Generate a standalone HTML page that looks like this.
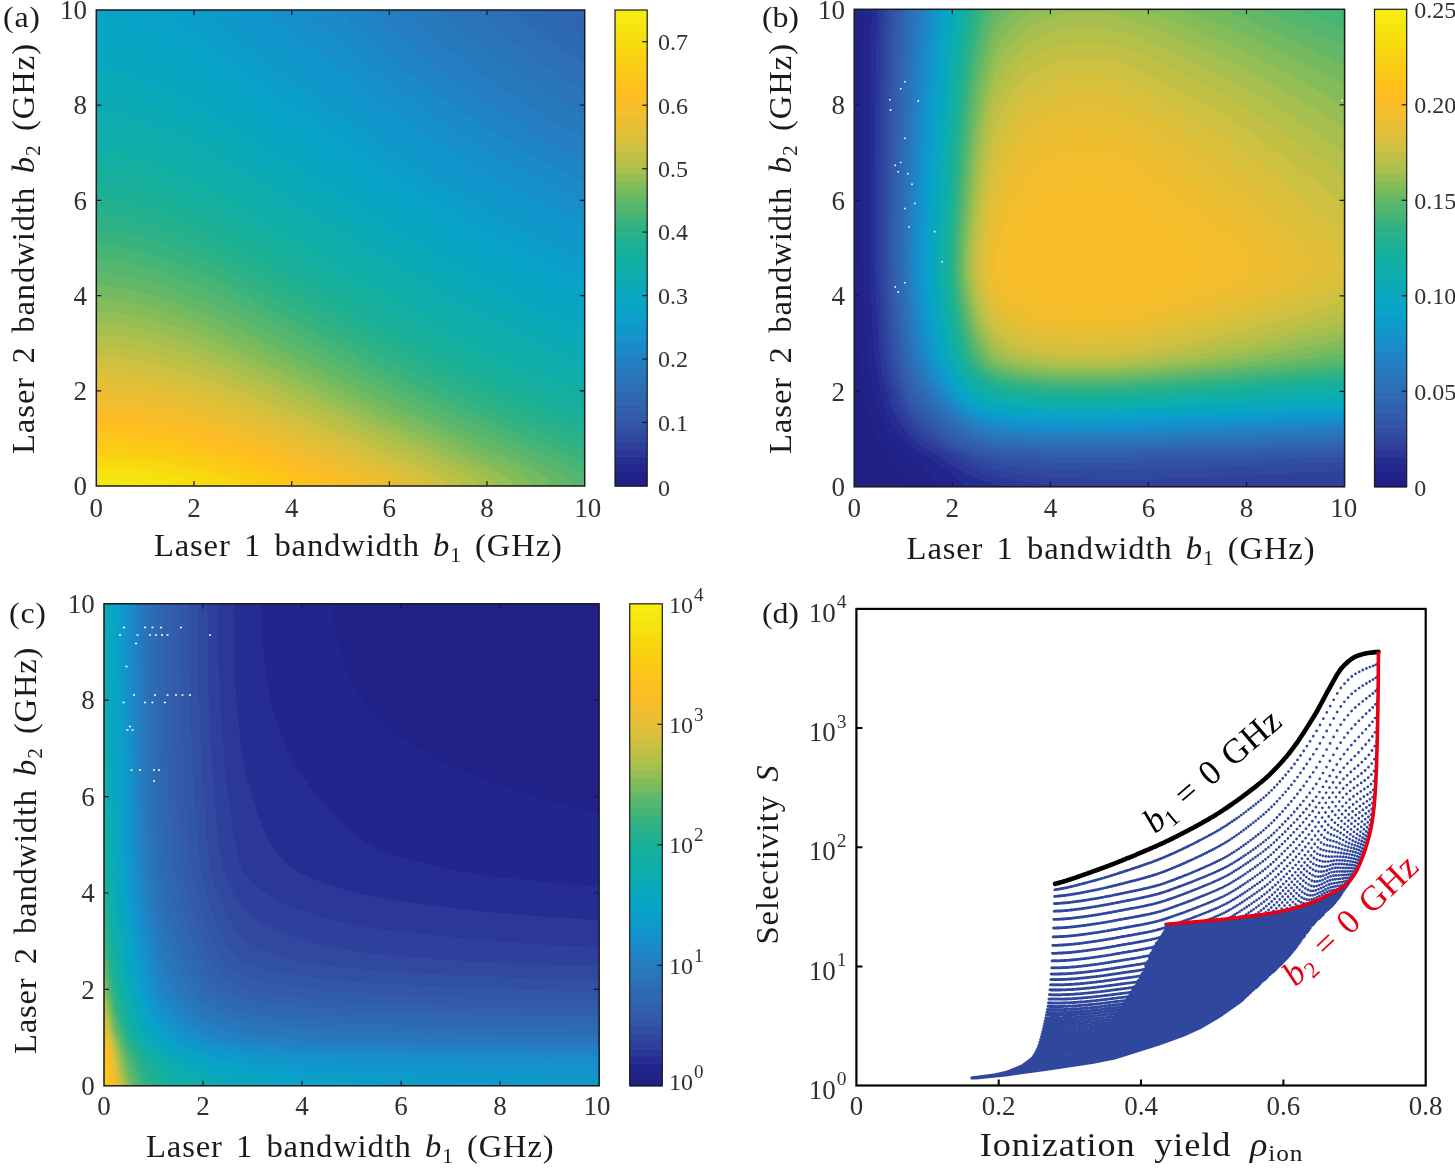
<!DOCTYPE html>
<html><head><meta charset="utf-8"><title>Figure</title>
<style>html,body{margin:0;padding:0;background:#fff}svg{display:block}text{font-family:"Liberation Serif",serif}</style>
</head><body>
<svg width="1455" height="1170" viewBox="0 0 1455 1170">
<rect width="1455" height="1170" fill="#fff"/>
<g id="pa">
<rect x="96.3" y="10" width="488.4" height="476" fill="#1f2082"/>
<rect x="96.3" y="10" width="488.4" height="476" fill="#202287"/>
<rect x="96.3" y="10" width="488.4" height="476" fill="#21258c"/>
<rect x="96.3" y="10" width="488.4" height="476" fill="#262d92"/>
<rect x="96.3" y="10" width="488.4" height="476" fill="#2b3898"/>
<rect x="96.3" y="10" width="488.4" height="476" fill="#2e409c"/>
<rect x="96.3" y="10" width="488.4" height="476" fill="#3048a0"/>
<rect x="96.3" y="10" width="488.4" height="476" fill="#314fa4"/>
<rect x="96.3" y="10" width="488.4" height="476" fill="#3256a8"/>
<rect x="96.3" y="10" width="488.4" height="476" fill="#325bab"/>
<rect x="96.3" y="10" width="488.4" height="476" fill="#3160ae"/>
<rect x="96.3" y="10" width="488.4" height="476" fill="#3065b1"/>
<path fill="#2e6ab4" d="M96.3,486 584.7,486 584.7,37 566.7,24.3 547.9,10 96.3,10Z"/>
<path fill="#2c6fb7" d="M96.3,486 584.7,486 584.7,64.3 565.2,51.5 546.7,38.6 527.7,24.3 510.1,10 96.3,10Z"/>
<path fill="#2a74ba" d="M96.3,486 584.7,486 584.7,90.3 555.4,72.1 527.4,52.8 501.7,33.4 473.5,10 96.3,10Z"/>
<path fill="#2779bd" d="M96.3,486 584.7,486 584.7,114.9 567.6,105.2 548,93.3 529.6,81.4 512.3,69.5 494.3,56.4 474.4,40.9 453.8,24.3 436.9,10 96.3,10Z"/>
<path fill="#247ec1" d="M96.3,486 584.7,486 584.7,138.4 562.7,126.5 538.6,112.3 516.3,98.3 495,83.8 465.6,62.4 440.8,43.3 420.5,26.7 402.1,10 96.3,10Z"/>
<path fill="#1f84c5" d="M96.3,486 584.7,486 584.7,160.8 555.4,145.5 526.1,128.7 496.8,110.2 465.1,88.5 435.5,67.1 411.4,48.1 392.5,31.4 370.3,10 96.3,10Z"/>
<path fill="#1a8ac8" d="M96.3,486 584.7,486 584.7,182.3 549.7,164.7 515.8,145.7 485.2,126.6 443.1,98.4 418.6,80.7 396.7,63.3 371.3,40.9 337.8,10 96.3,10Z"/>
<path fill="#168fcb" d="M96.3,486 584.7,486 584.7,202.9 549.9,186.1 513.9,166.6 494.4,155.2 475.2,143.3 435,117.1 411.5,100.4 392.9,86.2 367.1,64.7 318.5,23.5 302,10 96.3,10Z"/>
<path fill="#1294cc" d="M96.3,486 584.7,486 584.7,222.8 547,205.2 510.9,186.1 470.4,162.3 429.1,136.1 408.9,122.2 392.2,110 316.1,49.8 301.4,38.8 279.5,23.2 263.9,10 96.3,10Z"/>
<path fill="#0f99cb" d="M96.3,486 584.7,486 584.7,242.1 565.2,233.4 545.6,224.2 526.1,214.4 506.6,204 462.6,178.7 440.6,165.2 421.1,152.7 391.8,132.4 313.6,74 274.6,46.9 255,30.9 232.8,10 96.3,10Z"/>
<path fill="#0c9eca" d="M96.3,486 584.7,486 584.7,260.8 562.7,251.1 543.2,242 523.6,232.4 503.4,221.8 481.8,209.9 455.3,194.6 433.4,181.4 413.8,168.9 390.1,152.8 316.1,99.6 301.4,89.6 281.9,77.1 267.7,67.1 244,48.1 200.1,10 96.3,10Z"/>
<path fill="#09a2c8" d="M96.3,486 584.7,486 584.7,279.1 543.2,260.5 504.1,241 460.2,216.8 418.6,192 391.8,174.4 313.6,120.2 271.7,93.3 250.1,77.5 213.5,48.7 198.9,37.6 176.9,22.9 156.2,10 96.3,10Z"/>
<path fill="#08a5c4" d="M96.3,486 584.7,486 584.7,297.4 540.7,277.3 504.1,259.2 461.4,236.1 423.5,214.1 391.8,194 313.6,141.2 271.4,114.7 252.6,101.7 206.2,68.1 196.4,61.6 179.3,51.3 157.3,39.3 135.4,28.8 115.8,21.2 96.3,15.5Z"/>
<path fill="#09a7bf" d="M96.3,486 584.7,486 584.7,315.4 551.9,300.4 501.7,275.5 462.6,254.6 425.9,233.7 391.8,212.6 313.6,161.1 272.1,135.5 213.5,95.6 201.3,87.8 189.1,80.7 164.7,68 140.3,57.1 118.3,49.5 106.1,46.1 96.3,44Z"/>
<path fill="#0aa9ba" d="M96.3,486 584.7,486 584.7,332.4 550.5,317 516.6,300.4 466.9,274.2 426,251.2 391.8,230.5 311.2,178.4 269.7,153.2 216,117.9 194,104.9 167.1,91.6 142.7,81.4 130.5,77.2 118.3,73.6 106.1,70.7 96.3,68.9Z"/>
<path fill="#0cabb4" d="M96.3,486 584.7,486 584.7,348.4 548.1,332.2 511.8,314.6 480.1,298 428.3,269.4 391.8,247.7 318.5,201.1 270.2,171.8 220.8,140.4 196.4,126.2 169.6,113.3 145.1,103.6 132.9,99.5 120.7,96.1 108.5,93.4 96.3,91.3Z"/>
<path fill="#0eadae" d="M96.3,486 584.7,486 584.7,363.6 548.1,347.7 511.4,330.3 476.5,312.3 433.3,288.5 394.2,265.7 311.2,213.9 272.6,190.9 220.8,158.7 198.9,146.3 186.7,140.3 172,133.6 157.3,127.7 145.1,123.3 132.9,119.5 120.7,116.3 108.5,113.7 96.3,111.7Z"/>
<path fill="#10aea8" d="M96.3,486 584.7,486 584.7,377.9 548.1,362.3 513.9,346.4 479,328.9 443.1,309.6 391.8,280.1 313.6,232.1 272.3,207.5 228.2,180.6 211.1,170.7 198.9,164.2 186.7,158.3 172,151.8 157.3,146.1 145.1,141.9 132.9,138.2 120.7,135.1 108.5,132.7 96.3,130.8Z"/>
<path fill="#12afa2" d="M96.3,486 584.7,486 584.7,391.5 548.1,376.1 511.4,359.4 473.9,340.8 438.2,321.9 394.2,296.9 311.2,246.7 230.6,198.7 213.5,189 198.9,181.3 186.7,175.5 172,169.2 157.3,163.6 145.1,159.5 132.9,155.9 120.7,153 108.5,150.6 96.3,148.9Z"/>
<path fill="#16b09c" d="M96.3,486 584.7,486 584.7,404.5 546.3,388.4 509.2,371.8 474.9,355.1 438.1,336.1 391.3,309.9 311.2,262.1 233.1,216.3 213.5,205.3 198.9,197.7 186.7,192.1 172,185.9 157.3,180.4 145.1,176.4 132.9,172.9 120.7,170 108.5,167.7 96.3,166.1Z"/>
<path fill="#1cb196" d="M96.3,486 584.7,486 584.7,416.9 545,400.3 507.5,383.7 472.5,367 435.1,348 411.3,335.2 387.5,321.8 308.8,275.6 233.1,231.8 213.5,221 198.9,213.6 172,202 157.3,196.6 145.1,192.6 132.9,189.2 120.7,186.4 108.5,184.2 96.3,182.6Z"/>
<path fill="#23b18e" d="M96.3,486 584.7,486 584.7,428.7 545,412.2 506.6,395.3 471.5,378.9 433.3,359.9 406.3,345.6 380.5,331.3 233.1,246.8 213.5,236.3 198.9,229 172,217.5 157.3,212.2 145.1,208.3 132.9,205 120.7,202.2 108.5,200.1 96.3,198.5Z"/>
<path fill="#2cb286" d="M96.3,486 584.7,486 584.7,440.2 535.2,419.4 497.4,402.7 461.7,386 428,369.4 400.6,355.1 374.5,340.8 233.1,261.4 213.5,251 198.9,243.9 172,232.6 157.3,227.4 145.1,223.6 132.9,220.3 120.7,217.6 108.5,215.5 96.3,214Z"/>
<path fill="#38b37e" d="M96.3,486 584.7,486 584.7,451.3 526.5,426.5 494.1,412.2 458,395.6 423.8,378.9 395.9,364.6 369.3,350.3 235.5,276.7 216,266.5 198.9,258.3 172,247.2 157.3,242.1 145.1,238.3 132.9,235.1 120.7,232.5 108.5,230.4 96.3,229Z"/>
<path fill="#46b576" d="M96.3,486 584.7,486 584.7,462.4 481.2,417 450.2,402.7 420.6,388.4 369.4,362.2 235.5,290.2 216,280.3 198.9,272.3 172,261.4 157.3,256.4 145.1,252.7 132.9,249.6 120.7,247 108.5,245 96.3,243.6Z"/>
<path fill="#54b66f" d="M96.3,486 584.7,486 584.7,474.5 575.5,469.3 560.8,462.2 464.1,419.4 408.5,393.2 361.5,369.4 240.4,305.8 218.4,294.8 201.3,286.9 174.4,276 159.8,271 147.6,267.3 132.9,263.6 120.7,261.1 108.5,259.2 96.3,257.8Z"/>
<path fill="#62b868" d="M96.3,486 566.5,486 570.8,483.6 570.8,481.2 568.9,478.9 562.2,474.1 553,469.1 531,458.7 447.9,421.7 402.2,400.3 359,378.9 245.3,320.7 208.6,303.1 194,296.8 179.3,291.1 164.7,286 150,281.5 135.4,277.8 123.2,275.2 108.5,272.9 96.3,271.7Z"/>
<path fill="#73ba61" d="M96.3,486 547.2,486 550.9,483.6 550.5,481.2 548.1,478.6 541.4,474.1 531,468.6 509,458.3 437.6,426.5 396.6,407.5 357.4,388.4 250.1,335 225.7,323.2 208.6,315.5 194,309.4 179.3,303.9 164.7,298.9 150,294.5 135.4,290.9 123.2,288.5 111,286.6 96.3,285.1Z"/>
<path fill="#84bc5a" d="M96.3,486 528.6,486 531.7,483.6 531.1,481.2 528.8,478.9 525.4,476.5 517,471.7 507.5,467 391.8,414.6 252.6,347.4 211.1,328.5 196.4,322.5 179.3,316.2 164.7,311.3 150,307.1 135.4,303.6 123.2,301.3 108.5,299.2 96.3,298.1Z"/>
<path fill="#95be54" d="M96.3,486 510.7,486 513.2,483.6 512.3,481.2 509.8,478.9 506.4,476.5 497.8,471.7 488.1,467 387.8,421.7 257.5,360.4 213.5,340.9 196.4,334.1 181.8,328.8 167.1,324 152.5,319.9 137.8,316.4 123.2,313.7 108.5,311.7 96.3,310.7Z"/>
<path fill="#a6bf4e" d="M96.3,486 493.2,486 495.3,483.6 494.2,481.2 491.6,478.9 488,476.5 469.5,467 374,424.1 262.4,372.8 235.5,360.9 213.5,351.8 196.4,345.2 181.8,340.1 167.1,335.5 152.5,331.5 137.8,328.2 123.2,325.6 108.5,323.7 96.3,322.8Z"/>
<path fill="#b5c049" d="M96.3,486 476.3,486 478,483.6 476.7,481.2 473.9,478.9 470.2,476.5 461.3,471.7 447.9,465.4 272.1,386.8 240.4,373 216,363.1 198.9,356.7 184.2,351.7 167.1,346.5 152.5,342.7 137.8,339.5 123.2,337 108.5,335.2 96.3,334.4Z"/>
<path fill="#c2c044" d="M96.3,486 459.7,486 461.1,483.6 459.6,481.2 456.7,478.9 452.9,476.5 443.9,471.7 426,463.4 279.5,399 245.3,384.6 216,373 198.9,366.8 181.8,361.2 167.1,357 152.5,353.3 137.8,350.3 123.2,347.9 108.5,346.3 96.3,345.5Z"/>
<path fill="#cec040" d="M96.3,486 443.6,486 444.7,483.6 443,481.2 436.1,476.5 423.5,470.1 404,461.2 281.9,408.6 247.7,394.6 218.4,383.3 201.3,377.2 184.2,371.8 169.6,367.6 152.5,363.5 137.8,360.6 123.2,358.3 108.5,356.8 96.3,356.1Z"/>
<path fill="#d8c03c" d="M96.3,486 427.8,486 428.6,483.6 426.8,481.2 423.7,478.9 418.6,475.9 405.3,469.3 382,459 325.8,435.1 279.5,415.8 245.3,402.2 218.4,392.2 201.3,386.4 184.2,381.2 169.6,377.2 152.5,373.2 137.8,370.4 123.2,368.3 108.5,366.9 96.3,366.2Z"/>
<path fill="#e1c038" d="M96.3,486 412.2,486 412.8,483.6 410.9,481.2 407.7,478.9 401.6,475.4 388.9,469.3 364.9,458.9 318.5,439.4 277,422.6 245.3,410.4 218.4,400.8 201.3,395.2 184.2,390.1 167.1,385.7 152.5,382.4 137.8,379.8 123.2,377.8 108.5,376.4 96.3,375.9Z"/>
<path fill="#e8bf34" d="M96.3,486 396.9,486 397.3,483.6 395.3,481.2 391.9,478.9 383,474.1 367.4,467 342.9,456.6 306.3,441.7 269.7,427.3 240.4,416.5 216,408.1 184.2,398.6 167.1,394.3 152.5,391.2 137.8,388.7 123.2,386.8 108.5,385.6 96.3,385.1Z"/>
<path fill="#efbe30" d="M96.3,486 381.8,486 382,483.6 379.8,481.2 376.4,478.9 367.4,474.1 352.7,467.6 330.7,458.4 296.5,444.8 264.8,432.8 237.9,423.2 216,415.9 198.9,410.7 181.8,406.1 152.5,399.6 137.8,397.2 123.2,395.4 108.5,394.2 96.3,393.8Z"/>
<path fill="#f4be2c" d="M96.3,486 366.8,486 366.8,483.6 364.6,481.2 361,478.9 355.2,475.8 340.9,469.3 318.5,460.2 289.2,448.8 262.4,438.9 237.9,430.4 213.5,422.6 181.8,413.9 152.5,407.6 137.8,405.3 123.2,403.6 108.5,402.5 96.3,402.1Z"/>
<path fill="#f9be27" d="M96.3,486 351.9,486 351.7,483.6 349.3,481.2 345.6,478.9 336,474.1 321,467.7 294.1,457.2 264.8,446.5 237.9,437.3 216,430.5 198.9,425.6 181.8,421.3 152.5,415.3 137.8,413.1 123.2,411.4 108.5,410.4 96.3,410Z"/>
<path fill="#fcbe22" d="M96.3,486 337,486 336.7,483.6 334.2,481.2 330.3,478.9 320.4,474.1 308.9,469.3 286.8,460.9 259.9,451.3 237.9,444 213.5,436.6 181.8,428.4 152.5,422.6 137.8,420.4 123.2,418.9 108.5,417.9 96.3,417.6Z"/>
<path fill="#fdc01e" d="M96.3,486 322,486 321.5,483.6 318.9,481.2 314.9,478.9 304.6,474.1 294.1,469.9 272.1,461.8 250.1,454.3 228.2,447.4 208.6,441.8 179.3,434.6 150,429.2 123.2,426 108.5,425.1 96.3,424.8Z"/>
<path fill="#fdc41a" d="M96.3,486 306.8,486 306.3,483.6 303.5,481.2 294.2,476.5 282.4,471.7 264.8,465.4 242.8,458.1 223.3,452.2 203.7,446.9 174.4,440.1 147.6,435.5 120.7,432.6 96.3,431.6Z"/>
<path fill="#fcc817" d="M96.3,486 291.4,486 290.7,483.6 287.8,481.2 279.5,477.1 269.7,473.2 252.6,467.3 235.5,461.9 216,456.2 198.9,451.8 172,445.9 145.1,441.6 120.7,439.1 96.3,438.2Z"/>
<path fill="#fbcc14" d="M96.3,486 275.7,486 274.8,483.6 271.6,481.2 267,478.9 254.9,474.1 225.7,464.9 194,456.6 167.1,451.1 142.7,447.4 118.3,445.2 96.3,444.5Z"/>
<path fill="#fad112" d="M96.3,486 259.3,486 258.3,483.6 254.9,481.2 243.7,476.5 218.4,468.6 189.1,461.3 164.7,456.6 142.7,453.4 118.3,451.2 96.3,450.5Z"/>
<path fill="#f9d610" d="M96.3,486 242,486 240.9,483.6 237.2,481.2 224.8,476.5 203.7,470.5 181.8,465.5 159.8,461.5 137.8,458.6 115.8,456.9 96.3,456.4Z"/>
<path fill="#f8db0f" d="M96.3,486 223.5,486 222.2,483.6 218,481.2 211.7,478.9 194.9,474.1 172.8,469.3 152.5,466 132.9,463.7 113.4,462.4 96.3,462Z"/>
<path fill="#f7e00e" d="M96.3,486 203,486 201.4,483.6 194,480.4 179.5,476.5 164.7,473.5 147.6,470.9 130.5,469.1 113.4,467.9 96.3,467.5Z"/>
<path fill="#f6e40f" d="M96.3,486 178.9,486 176.7,483.6 170.4,481.2 160.4,478.9 150,477.1 137.8,475.4 123.2,474.1 96.3,473.1Z"/>
<path fill="#f6e810" d="M96.3,486 146,486 142.4,483.6 130.7,481.2 113.4,479.7 96.3,479.1Z"/>
<path d="M194.0 486.0v-5 M194.0 10.0v5 M96.3 390.8h5 M584.7 390.8h-5 M291.7 486.0v-5 M291.7 10.0v5 M96.3 295.6h5 M584.7 295.6h-5 M389.3 486.0v-5 M389.3 10.0v5 M96.3 200.4h5 M584.7 200.4h-5 M487.0 486.0v-5 M487.0 10.0v5 M96.3 105.2h5 M584.7 105.2h-5" stroke="#1a1a1a" stroke-width="1.2" fill="none"/>
<rect x="96.3" y="10" width="488.4" height="476" fill="none" stroke="#1a1a1a" stroke-width="1.5"/>
<rect x="615" y="478.56" width="32.2" height="8.04" fill="#1f2082"/>
<rect x="615" y="471.12" width="32.2" height="8.04" fill="#202287"/>
<rect x="615" y="463.69" width="32.2" height="8.04" fill="#21258c"/>
<rect x="615" y="456.25" width="32.2" height="8.04" fill="#262d92"/>
<rect x="615" y="448.81" width="32.2" height="8.04" fill="#2b3898"/>
<rect x="615" y="441.38" width="32.2" height="8.04" fill="#2e409c"/>
<rect x="615" y="433.94" width="32.2" height="8.04" fill="#3048a0"/>
<rect x="615" y="426.50" width="32.2" height="8.04" fill="#314fa4"/>
<rect x="615" y="419.06" width="32.2" height="8.04" fill="#3256a8"/>
<rect x="615" y="411.62" width="32.2" height="8.04" fill="#325bab"/>
<rect x="615" y="404.19" width="32.2" height="8.04" fill="#3160ae"/>
<rect x="615" y="396.75" width="32.2" height="8.04" fill="#3065b1"/>
<rect x="615" y="389.31" width="32.2" height="8.04" fill="#2e6ab4"/>
<rect x="615" y="381.88" width="32.2" height="8.04" fill="#2c6fb7"/>
<rect x="615" y="374.44" width="32.2" height="8.04" fill="#2a74ba"/>
<rect x="615" y="367.00" width="32.2" height="8.04" fill="#2779bd"/>
<rect x="615" y="359.56" width="32.2" height="8.04" fill="#247ec1"/>
<rect x="615" y="352.12" width="32.2" height="8.04" fill="#1f84c5"/>
<rect x="615" y="344.69" width="32.2" height="8.04" fill="#1a8ac8"/>
<rect x="615" y="337.25" width="32.2" height="8.04" fill="#168fcb"/>
<rect x="615" y="329.81" width="32.2" height="8.04" fill="#1294cc"/>
<rect x="615" y="322.38" width="32.2" height="8.04" fill="#0f99cb"/>
<rect x="615" y="314.94" width="32.2" height="8.04" fill="#0c9eca"/>
<rect x="615" y="307.50" width="32.2" height="8.04" fill="#09a2c8"/>
<rect x="615" y="300.06" width="32.2" height="8.04" fill="#08a5c4"/>
<rect x="615" y="292.62" width="32.2" height="8.04" fill="#09a7bf"/>
<rect x="615" y="285.19" width="32.2" height="8.04" fill="#0aa9ba"/>
<rect x="615" y="277.75" width="32.2" height="8.04" fill="#0cabb4"/>
<rect x="615" y="270.31" width="32.2" height="8.04" fill="#0eadae"/>
<rect x="615" y="262.88" width="32.2" height="8.04" fill="#10aea8"/>
<rect x="615" y="255.44" width="32.2" height="8.04" fill="#12afa2"/>
<rect x="615" y="248.00" width="32.2" height="8.04" fill="#16b09c"/>
<rect x="615" y="240.56" width="32.2" height="8.04" fill="#1cb196"/>
<rect x="615" y="233.12" width="32.2" height="8.04" fill="#23b18e"/>
<rect x="615" y="225.69" width="32.2" height="8.04" fill="#2cb286"/>
<rect x="615" y="218.25" width="32.2" height="8.04" fill="#38b37e"/>
<rect x="615" y="210.81" width="32.2" height="8.04" fill="#46b576"/>
<rect x="615" y="203.38" width="32.2" height="8.04" fill="#54b66f"/>
<rect x="615" y="195.94" width="32.2" height="8.04" fill="#62b868"/>
<rect x="615" y="188.50" width="32.2" height="8.04" fill="#73ba61"/>
<rect x="615" y="181.06" width="32.2" height="8.04" fill="#84bc5a"/>
<rect x="615" y="173.62" width="32.2" height="8.04" fill="#95be54"/>
<rect x="615" y="166.19" width="32.2" height="8.04" fill="#a6bf4e"/>
<rect x="615" y="158.75" width="32.2" height="8.04" fill="#b5c049"/>
<rect x="615" y="151.31" width="32.2" height="8.04" fill="#c2c044"/>
<rect x="615" y="143.88" width="32.2" height="8.04" fill="#cec040"/>
<rect x="615" y="136.44" width="32.2" height="8.04" fill="#d8c03c"/>
<rect x="615" y="129.00" width="32.2" height="8.04" fill="#e1c038"/>
<rect x="615" y="121.56" width="32.2" height="8.04" fill="#e8bf34"/>
<rect x="615" y="114.12" width="32.2" height="8.04" fill="#efbe30"/>
<rect x="615" y="106.69" width="32.2" height="8.04" fill="#f4be2c"/>
<rect x="615" y="99.25" width="32.2" height="8.04" fill="#f9be27"/>
<rect x="615" y="91.81" width="32.2" height="8.04" fill="#fcbe22"/>
<rect x="615" y="84.38" width="32.2" height="8.04" fill="#fdc01e"/>
<rect x="615" y="76.94" width="32.2" height="8.04" fill="#fdc41a"/>
<rect x="615" y="69.50" width="32.2" height="8.04" fill="#fcc817"/>
<rect x="615" y="62.06" width="32.2" height="8.04" fill="#fbcc14"/>
<rect x="615" y="54.62" width="32.2" height="8.04" fill="#fad112"/>
<rect x="615" y="47.19" width="32.2" height="8.04" fill="#f9d610"/>
<rect x="615" y="39.75" width="32.2" height="8.04" fill="#f8db0f"/>
<rect x="615" y="32.31" width="32.2" height="8.04" fill="#f7e00e"/>
<rect x="615" y="24.88" width="32.2" height="8.04" fill="#f6e40f"/>
<rect x="615" y="17.44" width="32.2" height="8.04" fill="#f6e810"/>
<rect x="615" y="10.00" width="32.2" height="8.04" fill="#f6ec12"/>
<rect x="615" y="10" width="32.2" height="476" fill="none" stroke="#1a1a1a" stroke-width="1.2"/>
<text x="96.3" y="516.6" text-anchor="middle" font-size="27" fill="#303030" >0</text>
<text x="87" y="495.2" text-anchor="end" font-size="27" fill="#303030" >0</text>
<text x="194" y="516.6" text-anchor="middle" font-size="27" fill="#303030" >2</text>
<text x="87" y="400" text-anchor="end" font-size="27" fill="#303030" >2</text>
<text x="291.7" y="516.6" text-anchor="middle" font-size="27" fill="#303030" >4</text>
<text x="87" y="304.8" text-anchor="end" font-size="27" fill="#303030" >4</text>
<text x="389.3" y="516.6" text-anchor="middle" font-size="27" fill="#303030" >6</text>
<text x="87" y="209.6" text-anchor="end" font-size="27" fill="#303030" >6</text>
<text x="487" y="516.6" text-anchor="middle" font-size="27" fill="#303030" >8</text>
<text x="87" y="114.4" text-anchor="end" font-size="27" fill="#303030" >8</text>
<text x="587.7" y="516.6" text-anchor="middle" font-size="27" fill="#303030" >10</text>
<text x="87" y="19.2" text-anchor="end" font-size="27" fill="#303030" >10</text>
<text x="657.9" y="495.5" text-anchor="start" font-size="24" fill="#303030" >0</text>
<path d="M647.2 422.5h-5" stroke="#1a1a1a" stroke-width="1.2"/>
<text x="657.9" y="430.8" text-anchor="start" font-size="24" fill="#303030" >0.1</text>
<path d="M647.2 359.1h-5" stroke="#1a1a1a" stroke-width="1.2"/>
<text x="657.9" y="367.4" text-anchor="start" font-size="24" fill="#303030" >0.2</text>
<path d="M647.2 295.6h-5" stroke="#1a1a1a" stroke-width="1.2"/>
<text x="657.9" y="303.9" text-anchor="start" font-size="24" fill="#303030" >0.3</text>
<path d="M647.2 232.1h-5" stroke="#1a1a1a" stroke-width="1.2"/>
<text x="657.9" y="240.4" text-anchor="start" font-size="24" fill="#303030" >0.4</text>
<path d="M647.2 168.7h-5" stroke="#1a1a1a" stroke-width="1.2"/>
<text x="657.9" y="177" text-anchor="start" font-size="24" fill="#303030" >0.5</text>
<path d="M647.2 105.2h-5" stroke="#1a1a1a" stroke-width="1.2"/>
<text x="657.9" y="113.5" text-anchor="start" font-size="24" fill="#303030" >0.6</text>
<path d="M647.2 41.7h-5" stroke="#1a1a1a" stroke-width="1.2"/>
<text x="657.9" y="50" text-anchor="start" font-size="24" fill="#303030" >0.7</text>
</g>
<g id="pb">
<rect x="854.2" y="9.3" width="490.4" height="477.5" fill="#1f2082"/>
<path fill="#202287" d="M904.8,484.4 905.8,486.8 1344.6,486.8 1344.6,9.3 854.2,9.3 854.2,281 857.3,341.2 860.1,374.6 862.6,393.7 864.8,405.6 867.5,415.2 871.9,427.1 878.4,441.4 881.4,446.2 893.6,462.9 898.3,471.3Z"/>
<path fill="#21258c" d="M937.3,484.4 939.4,486.8 1344.6,486.8 1344.6,9.3 862.6,9.3 861.5,69 861.1,126.3 861.2,190.8 861.9,260 862.7,288.6 864.6,324.5 866.8,353.1 869.4,372.2 873.4,393.7 877.1,408 882.4,422.3 888.5,434.8 891.3,439.1 895.2,443.8 902.9,451 914.7,460.5 922.7,467.7 929.8,474.9Z"/>
<path fill="#262d92" d="M964,484.4 966.5,486.8 1344.6,486.8 1344.6,9.3 871.4,9.3 870.1,71.4 869.3,140.6 869.1,224.2 869.4,267.1 870.7,300.6 873.2,341.2 875.2,362.6 878.2,381.8 882.7,400.9 886.9,412.8 890.3,420 893.4,425.7 897.5,431.9 903.1,439.1 905.7,442 910.6,446.3 915.5,449.8 933,460.5 955.3,477.2Z"/>
<path fill="#2b3898" d="M994.9,484.4 1007.9,486.8 1344.6,486.8 1344.6,9.3 877,9.3 875.6,78.5 874.8,145.4 874.5,231.3 874.8,271.9 876.7,314.9 879.3,350.7 881.7,369.8 885.7,388.9 889.8,403.2 891.7,408 895.4,415.2 901.1,424.7 905.7,431.3 910.1,436.7 915,441.4 922.9,447 946.2,460.5 959.6,469.7 967,474 974.3,477.6 981.7,480.5Z"/>
<path fill="#2e409c" d="M1045.2,484.4 1076.2,486.8 1326.2,486.8 1344.6,485.2 1344.6,9.3 881.6,9.3 880.1,76.2 879.1,147.8 878.7,236.1 879.2,276.7 881.5,322.1 884.6,357.9 887.8,377 890.1,386.5 892.9,396.1 895.7,403.2 899.1,410.4 904.6,419.9 910.6,428.5 915.5,434 920.4,438.5 925.3,442.3 932.7,447 953.6,458.1 971.9,468.4 979.3,471.7 989.1,475.3 996.4,477.3 1011.1,480.1 1025.8,482.3Z"/>
<path fill="#3048a0" d="M1091.1,479.6 1119,480.3 1143.5,479.9 1344.6,470.9 1344.6,9.3 885.6,9.3 884,73.8 882.8,152.6 882.4,238.5 882.9,279.1 885.3,322.1 887.2,345.9 888.9,360.3 890.6,369.8 893.4,381.8 897.1,393.7 900.7,403.2 907.1,415.2 913,423.6 920.4,431.5 929.3,439.1 936,443.8 944.9,448.8 962.1,457.1 976.8,463.6 986.6,467.3 994,469.5 1006.2,472 1018.5,474 1033.2,475.8 1052.8,477.6Z"/>
<path fill="#314fa4" d="M1061.2,470.1 1094.5,470.7 1123.9,470.3 1344.6,462.3 1344.6,9.3 889.3,9.3 887.4,73.8 886.3,143 885.7,236.1 886.1,276.7 888.3,317.3 890,338.8 891.9,355.5 893.4,365 895.6,374.6 899,386.5 902.2,396.1 905.1,403.2 909,410.4 913,416.3 920.5,424.7 930.8,434.3 940,441.4 947.4,445.7 957.2,450.6 964.5,453.8 974.3,457.3 989.1,461.7 996.4,463.5 1011.1,465.9 1023.4,467.4 1043,469.1Z"/>
<path fill="#3256a8" d="M1058,462.9 1089.6,463.3 1126.4,462.8 1344.6,456.9 1344.6,9.3 892.9,9.3 890.8,71.4 889.4,138.2 888.6,231.3 888.9,274.3 891.3,317.3 895,353.1 896.5,362.6 899.2,374.6 905.1,393.7 908.1,401 912.1,408 917.6,415.2 924.5,422.3 932.7,430.1 942.5,438 951.5,443.8 959.6,447.9 967,450.9 976.8,454 989.1,457 996.4,458.3 1008.7,459.9 1025.8,461.5Z"/>
<path fill="#325bab" d="M1007.9,455.8 1025.8,457 1052.8,457.9 1109.2,458.1 1344.6,453 1344.6,9.3 896.6,9.3 894.2,69 892.6,128.7 891.6,195.5 891.5,264.8 892.5,291 895.1,326.8 898.4,355.5 899.6,362.6 901.8,372.2 904.5,381.8 908.1,392.1 910.9,398.5 915.1,405.6 918.8,410.4 925.3,417.3 935.1,426.8 942.5,433 950.8,439.1 957.2,443 962.1,445.5 969.4,448.3 976.8,450.6 991.5,453.9Z"/>
<path fill="#3160ae" d="M1023,453.4 1060.2,454.4 1116.6,454.4 1344.6,449.6 1344.6,9.3 900,9.3 897.3,71.4 895.5,133.4 894.2,219.4 894.1,262.4 895.1,288.6 898,326.8 901.3,355.5 902.5,362.6 904.8,372.2 907.8,381.8 911.5,391.3 915.5,399.3 919.7,405.6 926.2,412.8 937.6,423.8 944.9,430.1 954.7,437.4 961.2,441.4 967,444.1 974.3,446.7 984.2,449.2 998.9,451.7Z"/>
<path fill="#3065b1" d="M1040.1,451 1077.3,451.5 1123.9,451.2 1344.6,446.5 1344.6,9.3 903.3,9.3 900.4,71.4 898.6,128.7 896.9,221.8 896.8,264.8 897.3,281.5 898.8,305.4 901.7,336.4 904.9,360.3 908.6,374.6 912,384.1 915.5,391.8 919.3,398.5 924.5,405.6 932.7,414.3 942.5,423.3 953.1,431.9 962.1,438 968.8,441.4 974.3,443.6 983.8,446.2 991.5,447.8 1011.1,449.8Z"/>
<path fill="#2e6ab4" d="M1062.4,448.6 1136.2,448.3 1344.6,443.5 1344.6,9.3 906.5,9.3 903.6,66.6 901.4,128.7 899.5,224.2 899.3,267.1 899.9,283.9 901.5,307.7 904.5,338.8 907.7,360.3 911.7,374.6 915.5,384.1 920.4,393.4 925.3,400.9 931.2,408 940,416.6 954.7,428.9 962.1,434.1 969.4,438.1 976.8,441.2 981.7,442.7 989.1,444.5 996.4,445.7 1023.4,447.7Z"/>
<path fill="#2c6fb7" d="M1005.4,443.8 1025.8,445.1 1050.4,445.8 1114.1,445.9 1224.5,443.6 1344.6,440.2 1344.6,9.3 909.7,9.3 906.7,61.8 904.4,119.1 902.6,186 901.6,257.6 902.1,279.1 904.4,312.5 907.4,341.2 910.4,360.3 912.4,367.4 915.5,376.1 919.3,384.1 923.3,391.3 931.4,403.2 935.6,408 942.5,414.5 959.6,428.5 964.5,431.8 971.9,435.7 979.3,438.7 989.1,441.6 996.4,442.9Z"/>
<path fill="#2a74ba" d="M1010.9,441.4 1028.3,442.5 1055.3,443.2 1119,443.2 1222,440.7 1344.6,436.8 1344.6,9.3 913,9.3 909.7,59.4 907.2,114.3 905.3,178.8 904,255.2 904.4,279.1 906.8,312.5 910,341.2 913,359 915.5,367.4 919.4,377 923,384.1 928.7,393.7 933.6,400.9 937.6,405.5 948,415.2 957.2,422.8 963,427.1 969.4,431 976.5,434.3 984.2,437 991.5,439 998.9,440.2Z"/>
<path fill="#2779bd" d="M1019.3,439 1060.2,440.5 1121.5,440.4 1226.9,437.4 1344.6,433.4 1344.6,9.3 916.5,9.3 912.9,57.1 910,112 907.9,176.4 906.3,255.2 906.7,279.1 909.2,312.5 912.7,341.2 915.8,357.9 917.8,365 921.8,374.6 926.7,384.1 932.7,394 937.7,400.9 941.9,405.6 947.4,410.9 957.2,419.1 964.5,424.5 969.4,427.4 976.8,431 984.2,433.7 991.5,435.8 996.4,436.7Z"/>
<path fill="#247ec1" d="M1030.7,436.7 1070,437.7 1123.9,437.4 1229.4,434.2 1344.6,430.1 1344.6,9.3 920.2,9.3 915.9,61.8 912.9,112 910.5,174 908.6,255.2 909,279.1 911.7,312.5 915.5,341.1 918.9,357.9 921.1,365 926.4,377 931.7,386.5 937.6,395.6 942.5,401.9 947.4,407.1 954.7,413.6 962.1,419.3 967,422.5 974.3,426.5 984.2,430.4 991.5,432.6 996.4,433.6 1008.7,435.1Z"/>
<path fill="#1f84c5" d="M1046,434.3 1087.1,434.8 1131.3,434.2 1231.8,431 1344.6,426.8 1344.6,9.3 923.9,9.3 918.8,66.6 915.5,119.8 912.9,181.2 910.9,257.6 911.5,281.5 914.3,312.5 918.4,341.2 920.4,351.2 922.7,360.3 925.3,367.4 931,379.4 936.7,388.9 941.6,396.1 947.5,403.2 952.3,408 959.6,414.2 967,419.2 974.3,423.2 979.3,425.3 986.6,428 994,430 1003.8,431.5 1016,432.8Z"/>
<path fill="#1a8ac8" d="M1079.4,431.9 1109.2,431.8 1138.6,431.1 1344.6,423.6 1344.6,9.3 927.5,9.3 922.1,69 918.4,123.9 915.5,186 913.8,236.1 913.4,260 914,281.5 917.3,314.9 921.9,343.6 923.9,353.1 926.6,362.6 930.7,372.2 935.7,381.8 942.5,392.3 949.1,400.9 954.7,406.8 962.1,412.9 969.4,417.5 976.8,421.2 984.2,424.1 991.5,426.4 996.4,427.5 1008.7,429.1 1038.1,431.1Z"/>
<path fill="#168fcb" d="M1019.2,427.1 1038.1,428.2 1060.2,428.9 1119,428.7 1222,425.3 1344.6,420.6 1344.6,9.3 930.9,9.3 925.6,66.6 921.7,121.5 918.7,178.8 916,252.8 916.2,274.3 918,296.1 920.8,319.7 925.9,348.3 929.7,362.6 933.8,372.2 937.6,379.4 943.5,388.9 948.7,396.1 954.8,403.2 959.6,407.8 964.5,411.6 971.9,415.9 976.8,418.2 986.6,422 996.4,424.5 1006.2,425.9Z"/>
<path fill="#1294cc" d="M1025.7,424.7 1065.1,426.1 1121.5,425.9 1344.6,417.7 1344.6,9.3 934.1,9.3 928.8,66.6 924.6,123.9 921.4,183.6 918.7,255.2 919,276.7 921.8,305.4 924.5,324.4 929.4,350.7 931.9,360.3 933.6,365 936.9,372.2 940.7,379.4 946.8,388.9 954,398.5 958.3,403.2 963.8,408 969.4,411.6 974.3,414.3 984.2,418.2 991.5,420.6 1006.2,423Z"/>
<path fill="#0f99cb" d="M1031.6,422.3 1072.4,423.5 1123.9,423.1 1344.6,415 1344.6,9.3 937.3,9.3 932,64.2 928.3,114.3 924.6,178.8 922,233.7 921.4,255.2 921.6,274.3 923.5,295.8 926.9,322.1 932.2,350.7 934.8,360.3 936.5,365 939.9,372.2 943.8,379.4 950,388.9 955.3,396.1 959.6,401 964.8,405.6 969.4,408.8 976.8,412.6 984.2,415.5 991.5,417.9 996.4,418.9 1008.7,420.6Z"/>
<path fill="#0c9eca" d="M1036.2,419.9 1074.9,420.9 1123.9,420.5 1344.6,412.3 1344.6,9.3 940.3,9.3 934.8,66.6 931,116.7 927.3,181.2 924.1,255.2 924.3,274.3 926.2,295.8 929.6,322.1 935,350.7 937.6,360.3 939.4,365 942.8,372.2 946.8,379.4 953.1,388.9 958.6,396.1 963.1,400.9 969.1,405.6 974.3,408.7 979.3,411 986.6,413.8 994,415.9 1013.6,418.5Z"/>
<path fill="#09a2c8" d="M1038.3,417.6 1077.3,418.4 1126.4,418 1231.8,414.3 1344.6,409.7 1344.6,9.3 943.3,9.3 938.1,61.8 933.8,116.7 930.1,178.8 926.8,255.2 927,276.7 929.9,305.4 933,326.8 937.7,350.7 940.3,360.3 942.1,365 947,374.6 951.3,381.8 957.2,390.3 961.9,396.1 967,400.8 971.9,404.4 976.8,407.2 981.7,409.4 989.1,412.1 994,413.4 1013.6,416Z"/>
<path fill="#08a5c4" d="M1038.2,415.2 1077.3,416.1 1126.4,415.6 1231.8,411.8 1344.6,407.1 1344.6,9.3 946.3,9.3 940.7,64.2 936.5,116.7 932.9,176.4 929.3,255.2 929.4,274.3 931.1,293.4 934.4,319.7 939.8,348.3 943.9,362.6 946,367.4 951.2,377 957.2,386.2 962.1,392.4 967,397.4 971.9,401.3 976.8,404.4 981.7,406.7 989.1,409.6 994,410.9 1013.6,413.6Z"/>
<path fill="#09a7bf" d="M1036.6,412.8 1077.3,413.7 1128.8,413.2 1234.3,409.3 1344.6,404.3 1344.6,9.3 949.1,9.3 943.4,64.2 939.2,116.7 935.5,176.4 931.8,255.2 931.8,271.9 933.3,291 936.5,317.3 941.9,345.9 944.2,355.5 946.6,362.6 953.9,377 959.6,385.4 964.5,391.3 969.4,396.1 974.3,399.9 984.2,405.1 994,408.5 1013.6,411.2Z"/>
<path fill="#0aa9ba" d="M1034.6,410.4 1055.3,411.2 1077.3,411.5 1128.8,410.9 1234.3,406.8 1344.6,401.5 1344.6,9.3 951.8,9.3 945.9,66.6 941.8,116.7 938.1,174 934.2,252.8 934.2,271.9 935.4,288.6 938.7,314.9 943.4,341.2 945.6,350.7 948.3,360.3 950.3,365 953.9,372.2 958.2,379.4 962.1,384.7 967,390.2 973.6,396.1 977.1,398.5 984.2,402.3 989.1,404.4 994,405.9 1011.1,408.6Z"/>
<path fill="#0cabb4" d="M1032.8,408 1055.3,408.9 1074.9,409.2 1104.3,409.2 1128.8,408.7 1234.3,404.3 1344.6,398.5 1344.6,9.3 954.5,9.3 948.5,66.6 944.3,116.7 940.8,171.6 936.7,250.4 936.5,269.5 937.3,283.9 940.7,312.5 944.5,334 948.7,353.1 950.9,360.3 952.8,365 957.9,374.6 962.1,380.8 967,386.6 971.9,391.3 976.8,395.1 982.4,398.5 989.1,401.7 994,403.3 1011.1,406.2Z"/>
<path fill="#0eadae" d="M1032.1,405.6 1052.8,406.6 1074.9,406.9 1104.3,406.9 1131.3,406.3 1234.3,401.6 1344.6,395.3 1344.6,9.3 957.1,9.3 951.3,64.2 946.9,116.7 943.4,169.3 939.1,248.1 938.8,267.1 939.3,279.1 942.5,307.7 945.6,326.8 950,348.3 954.3,362.6 957.8,369.8 962.1,376.8 967,382.9 971.9,387.8 976.8,391.8 983.7,396.1 989.1,398.8 994,400.6 1001.3,402.2 1011.1,403.7Z"/>
<path fill="#10aea8" d="M1032.9,403.2 1055.3,404.3 1077.3,404.6 1104.3,404.5 1131.3,403.9 1234.3,398.9 1344.6,392.1 1344.6,9.3 959.7,9.3 954.4,57.1 950.2,104.8 946.1,164.5 941.4,248.1 941.1,267.1 941.6,279.1 944.9,307.7 948,326.8 952.4,348.3 954.3,355.5 956.8,362.6 959.6,368.4 963.5,374.6 967.2,379.4 971.9,384.3 976.8,388.4 984.2,393.2 989.1,395.8 994,397.7 1001.3,399.5 1011.1,401.1Z"/>
<path fill="#12afa2" d="M1035.6,400.9 1057.7,401.9 1079.8,402.2 1106.8,402.1 1131.3,401.4 1233.1,396.1 1344.6,388.9 1344.6,9.3 962.4,9.3 957.2,54 952.8,102.4 948.6,162.1 943.7,248.1 943.3,267.1 943.9,279.1 947.2,307.7 950.3,326.8 954.8,348.3 956.7,355.5 959.2,362.6 962.1,368.1 966.5,374.6 970.6,379.4 974.3,383 979.3,386.8 986.6,391.5 991.5,393.9 996.4,395.5 1013.6,398.7Z"/>
<path fill="#16b09c" d="M1039.6,398.5 1057.7,399.3 1082.2,399.7 1106.8,399.5 1131.3,398.8 1229.4,393.4 1344.6,385.6 1344.6,9.3 965.3,9.3 959.6,54 955.1,102.4 951,159.7 946,248.1 945.6,267.1 946.3,281.5 949.8,310.1 953,329.2 957.7,350.7 961.8,362.6 964.5,367.6 969.4,374.3 976.8,381.6 986.6,388.3 991.5,390.8 996.4,392.5 1006.2,394.7 1016,396.3Z"/>
<path fill="#1cb196" d="M1044.9,396.1 1062.6,396.8 1087.1,397 1109.2,396.8 1131.4,396.1 1231.8,390.2 1344.6,382.4 1344.6,9.3 968.3,9.3 964.5,34.7 962.1,54.5 957.6,100 953.4,157.3 948.2,245.7 947.8,267.1 948.3,279.1 951.9,310.1 955.2,329.2 959.6,349.1 962.1,357.1 964.4,362.6 967.3,367.4 971.9,373.3 975.5,377 979.3,380.1 986.6,385.1 991.5,387.7 996.4,389.5 1001.3,390.8 1011.1,392.7 1020.9,394.1Z"/>
<path fill="#23b18e" d="M1051.6,393.7 1070,394.2 1094.5,394.3 1133.7,393.2 1231.8,387.2 1344.6,379.1 1344.6,9.3 971.5,9.3 967.7,33.2 964.5,55.8 959.9,100 955.5,157.3 950.4,245.7 949.9,267.1 950.6,281.5 954.1,310.1 957.9,331.6 962.5,350.7 964.5,356.7 967.2,362.6 970.4,367.4 974.3,372.1 979.3,376.7 984.2,380.3 989.1,383.4 994,385.7 1008.7,389.4 1025.8,391.8Z"/>
<path fill="#2cb286" d="M1062.2,391.3 1101.9,391.5 1136.2,390.3 1234.3,384 1344.6,375.6 1344.6,9.3 975,9.3 971.5,28.4 967.5,54.7 964.5,78 962.1,101.8 957.6,159.7 952.4,245.7 952,269.5 952.9,283.9 956.5,312.5 961.2,336.4 965.1,350.7 967.8,357.9 970.2,362.6 973.7,367.4 976.8,370.8 984.1,377 989.1,380.2 994,382.6 998.9,384.1 1016,387.7 1035.6,389.9Z"/>
<path fill="#38b37e" d="M1030.1,386.5 1052.8,388.1 1072.4,388.7 1101.9,388.7 1126.4,387.9 1234.3,381 1344.6,372 1344.6,9.3 978.8,9.3 975.3,26 972.3,42.7 967.2,78.5 963.4,114.3 959.6,161 955,236.1 954,262.4 954.1,271.9 954.7,281.5 957.9,307.7 961.9,329.2 966.9,348.3 969.4,355 971.9,360.3 974.3,364 976.8,366.9 985.5,374.6 989.1,377 994,379.5 1001.3,381.8 1011.1,383.9Z"/>
<path fill="#46b576" d="M1035.1,384.1 1055.3,385.5 1077.3,386 1104.3,385.8 1131.3,384.9 1236.7,377.7 1344.6,368.3 1344.6,11.8 1338.8,9.3 983,9.3 976.8,36.7 971.3,69 966.9,104.8 962.5,152.6 957.1,233.7 956,260 956,269.5 956.5,279.1 959.7,305.4 963.2,324.4 968.9,345.9 971.6,353.1 973.9,357.9 976.8,362.6 978.9,365 984.2,369.9 989.1,373.6 991.5,375.1 996.4,377.3 1003.8,379.4 1013.6,381.4Z"/>
<path fill="#54b66f" d="M1041,381.8 1060.2,382.8 1084.7,383.2 1109.2,382.9 1133.7,381.9 1235.4,374.6 1344.6,364.4 1344.6,29.3 1298.9,9.3 987.4,9.3 984.2,21.8 979.9,40.3 974.3,69.7 969.4,105.9 965.1,150.2 959.3,231.3 958,260 958,269.5 958.5,279.1 961.9,305.4 965.6,324.5 971.8,345.9 974.3,352.2 976.8,357 979.3,360.8 983,365 986.6,368.2 991.5,371.7 996.4,374 1001.3,375.5 1008.7,377.4 1018.5,379.3Z"/>
<path fill="#62b868" d="M1047.9,379.4 1067.5,380.2 1094.5,380.3 1116.6,379.9 1138.6,378.7 1244.1,370.4 1300.1,365 1322,362.6 1344.6,359.7 1344.6,47.1 1309.3,30.8 1260.4,9.3 992.8,9.3 989.1,20.4 986.6,29.3 979.3,62.1 974.3,90.6 969.7,128.7 965.2,178.8 960.4,248.1 960.1,271.9 960.8,281.5 962.3,293.4 964.5,308 966.4,317.3 971.9,337.5 974.3,344.5 977,350.7 981.1,357.9 984.8,362.6 989.1,366.4 994,369.5 1006.2,373.7 1013.6,375.4 1023.4,377Z"/>
<path fill="#73ba61" d="M1057.4,377 1087.1,377.5 1119,376.8 1141.1,375.5 1202.4,370.6 1238.9,367.4 1284.1,362.6 1318.9,357.9 1344.6,353.6 1344.6,65.7 1322.5,54.6 1292.3,40.3 1244.1,18.3 1222.9,9.3 1001.4,9.3 996.4,17.5 994,22.7 991.5,29.3 987.6,42.7 984.2,57.2 979.9,78.5 976.8,96.1 974.3,113.4 971.9,133.8 968.9,164.5 962.8,243.3 962.1,260 962.1,271.9 962.9,281.5 964.5,293.4 968.9,317.3 974.3,335.8 977.3,343.5 981.7,352.5 985.2,357.9 989.3,362.6 992.5,365 996.4,367.1 1003.8,369.6 1013.6,372.1 1030.7,374.9Z"/>
<path fill="#84bc5a" d="M1035.2,372.2 1057.7,374 1087.1,374.5 1114.1,374 1143.5,372.2 1217.1,365.9 1248,362.6 1266.1,360.3 1297,355.5 1324.1,350.7 1344.6,346.6 1344.6,85.1 1327.4,75.8 1305,64.2 1244.1,34.7 1218.8,23.6 1182.4,9.3 1013.9,9.3 1008.7,15.1 1003.8,21.7 996.8,33.2 994,39.3 991.5,46.2 988.5,57.1 985.1,71.4 981.8,88.1 976.1,123.9 971.1,169.3 965,243.3 964.2,262.4 964.4,274.3 965.4,283.9 967,294.2 969.9,310.1 972.2,319.7 976,331.6 979.8,341.2 984.2,350 987.7,355.5 991.5,359.9 994,361.9 1001.3,365.3 1008.7,367.6 1016,369.3Z"/>
<path fill="#95be54" d="M1043.8,369.8 1057.7,370.8 1074.9,371.3 1094.5,371.3 1114.1,370.8 1143.5,369 1211.1,362.6 1239.2,359 1275.1,353.1 1312,345.9 1344.6,338.6 1344.6,106.1 1325,94.3 1301,80.9 1273.8,66.6 1240.8,49.9 1212.2,37 1144.6,9.3 1034.4,9.3 1025.8,14.5 1018.5,20.4 1011.1,28 1006.2,34.3 1001.3,41.8 996.4,50.7 994,56.3 991.5,63.7 986.2,85.7 983,102.4 979.3,125.8 974.3,164.5 967.4,240.9 966.5,260 966.7,274.3 967.7,283.9 969.3,293.4 972,307.7 974.4,317.3 977.5,326.8 982.5,338.8 986.6,347.2 990.6,353.1 994,356.7 996.4,358.6 1003.8,362.3 1008.7,364 1023.4,367.4Z"/>
<path fill="#a6bf4e" d="M1054.8,367.4 1087.1,368.2 1119,367.4 1146,365.4 1192.9,360.3 1226.7,355.5 1253.5,350.7 1298.6,341.2 1344.6,330.2 1344.6,128.7 1320.1,112.6 1295.6,97.6 1270.4,83.3 1239.2,66.4 1222,58 1202.4,49.3 1143.5,24.1 1128.8,18.7 1114.1,15 1099.4,13 1082.2,12.6 1067.5,13.6 1055.3,15.9 1045.5,19.3 1033.2,25.2 1023.4,31.8 1016,38.5 1011.1,44 1006.2,50.7 1001.3,58.6 996.4,68 994,74.1 991.5,82.1 989.1,92 985.6,109.6 981.7,133 975.8,178.8 969.5,245.7 968.8,264.8 969.3,276.7 971.9,293.7 974.9,307.7 977.5,317.3 981.7,328.6 986.6,339.5 990.3,345.9 994,350.7 996.8,353.1 1003.8,357.4 1010.2,360.3 1016,362.1 1030.7,365Z"/>
<path fill="#b5c049" d="M1041.1,362.6 1052.8,363.8 1065.1,364.5 1099.4,364.7 1128.8,363.3 1155.8,360.3 1204.8,353.1 1239.2,346.9 1304.6,331.6 1344.6,321.4 1344.6,152.7 1321,135.8 1296,119.1 1265.5,100 1239.2,84.5 1223.4,76.2 1203.4,66.6 1143.5,39.5 1131.3,34.8 1116.6,30.6 1104.3,28.5 1087.1,27.5 1072.4,28.1 1060.2,29.8 1050.4,32.6 1038.1,38 1028.3,43.9 1020.9,49.8 1016,54.7 1011.1,60.5 1006.2,67.6 1001.3,76.1 996.4,86.3 994,92.9 991.5,101.7 989.1,112.6 985.3,133.4 979.3,176.5 972.6,238.5 971.5,255.2 971.3,269.5 972,279.1 973.6,288.6 976.8,303.1 979.3,312.5 982.6,322.1 986.6,331.3 990.6,338.8 993.9,343.6 996.4,346.2 1001.3,349.9 1006.2,353 1011.4,355.5 1018.5,358.1 1025.8,360.1Z"/>
<path fill="#c2c044" d="M1060,360.3 1089.6,360.9 1104.3,360.6 1119,359.8 1141.1,357.4 1182.2,350.7 1214.6,344.8 1242.1,338.8 1308.7,322.1 1325.9,317.3 1344.6,311.5 1344.6,178.7 1323.8,162.1 1297.7,143 1266.3,121.5 1236.8,102.4 1220,92.9 1202.4,83.8 1146,56.6 1136.2,52.3 1121.5,47.3 1109.2,44.5 1094.5,43 1079.8,42.9 1065.1,44.3 1055.3,46.4 1043,51.3 1033.2,56.6 1025.8,61.9 1020.9,66.3 1016,71.5 1011.1,77.8 1006.2,85.4 1001.3,94.7 996.4,105.9 994,113.1 991.5,122.8 987.6,143 981.7,184 974.9,243.3 973.9,262.4 974.2,274.3 975.1,281.5 976.8,290.3 981.3,307.7 983.5,314.9 989.1,328 992.6,334 996.4,338.7 1002,343.6 1008.7,348 1014,350.7 1020.9,353.4 1028.3,355.6 1038.1,357.6 1050.4,359.3Z"/>
<path fill="#cec040" d="M1064.2,355.5 1079.8,356 1094.5,356 1108.6,355.5 1121.5,354.5 1143.5,351.5 1184.7,343.6 1234.3,332.8 1284.7,319.7 1316.1,310.1 1344.6,299.4 1344.6,206.4 1320.1,185.3 1297.2,166.9 1268.5,145.4 1239.2,124.6 1222,113.8 1202,102.4 1147.2,73.8 1138.6,69.6 1126.4,64.8 1114.1,61.3 1101.9,59.2 1087.1,58.4 1072.4,59.1 1060.2,61 1050.4,64.1 1040.6,68.8 1033.2,73.2 1025.8,78.8 1018.5,86.2 1013.6,92.4 1008.7,100 1003.8,109.2 998.9,120.5 995.8,128.7 994,134.7 990.6,150.2 987.7,166.9 984.9,186 977.9,243.3 976.8,258.6 976.8,272 977.6,279.1 979.3,287.3 984.2,305.8 986.3,312.5 989.1,319.4 991.5,324.1 994,328 997.2,331.6 1003.8,337.4 1009,341.2 1016,345.1 1023.4,348.1 1032,350.7 1043,353 1055.3,354.8Z"/>
<path fill="#d8c03c" d="M1051,348.3 1060.2,349.5 1072.4,350.2 1099.4,350.2 1121.5,348.6 1143.5,345.1 1214.6,329.6 1244.8,322.1 1269.3,314.9 1284,310.1 1334.6,291 1344.6,286.8 1344.6,231.3 1311.1,205.1 1288.8,186 1271.3,171.6 1250.1,154.9 1236.7,144.9 1222,134.9 1204.2,123.9 1143.5,89.2 1131.3,83.4 1121.5,79.9 1111.7,77.3 1101.9,75.6 1087.1,74.7 1074.9,75.2 1062.6,76.9 1052.8,79.8 1043,84.5 1035.6,88.9 1028.3,94.5 1022.6,100 1016,108.1 1011.1,115.6 1006.2,124.7 1001.3,135.8 996.4,149.1 994,157.7 989.4,181.2 981.7,236.8 980.2,252.8 979.7,264.8 980.4,276.7 981.7,283.9 984.2,293.7 988.4,307.7 990.3,312.5 994,319.5 996.4,322.7 1001.3,327.6 1006.2,331.6 1011.1,335 1018.5,339.1 1025.8,342.2 1033.2,344.5Z"/>
<path fill="#e1c038" d="M1068.4,343.6 1084.7,344 1101.9,343.7 1114.1,342.8 1128.8,340.8 1143.5,338 1202.6,324.4 1221.9,319.7 1238.8,314.9 1259.8,307.7 1297.1,293.4 1314.8,286.2 1324.7,281.5 1332.6,276.7 1335.5,274.3 1337.7,271.9 1339,269.5 1339.5,267.1 1339.3,264.8 1338.2,260 1336,255.2 1332.9,250.4 1328.9,245.7 1321.8,238.5 1310.5,228.9 1279.8,205.1 1252.3,181.2 1236.7,168.3 1221.9,157.3 1204.2,145.4 1143.5,107.7 1133.7,102.5 1123.9,98.4 1114.1,95.2 1104.3,93.2 1092,92 1079.8,92.1 1067.5,93.3 1057.7,95.6 1050.4,98.5 1040.6,104 1033.2,109.3 1025.8,116 1020.9,121.6 1015.8,128.7 1011.1,136.4 1005.6,147.8 1001.3,158.4 996.4,172.9 994,182.3 991.5,195 986.6,225.4 984.5,240.9 983.3,255.2 983,269.5 983.7,276.7 985.6,286.2 988.4,295.8 991.5,304.4 994,310 996.4,313.8 1004.3,322.1 1010.4,326.8 1016,330.3 1023.4,333.9 1030.7,336.6 1040.6,339.4 1050.4,341.5 1057.7,342.6Z"/>
<path fill="#e8bf34" d="M1067.1,336.4 1082.2,337 1099.4,336.7 1114.1,335.6 1128.8,333.6 1143.5,330.6 1188.3,319.7 1206.5,314.9 1222.6,310.1 1236.1,305.4 1278.5,288.6 1289.2,283.9 1298.2,279.1 1304.8,274.3 1307,271.9 1308.4,269.5 1308.9,267.1 1308.7,264.8 1307.6,260 1305.3,255.2 1302.2,250.4 1298.2,245.7 1291,238.5 1279.8,228.9 1252.6,207.5 1226.9,185.4 1212.1,174 1195.3,162.1 1146,129 1138.6,124.5 1128.8,119.5 1119,115.5 1109.2,112.7 1101.9,111.3 1089.6,110.3 1077.3,110.6 1067.5,111.9 1057.7,114.3 1050.4,117.5 1043,121.9 1035.6,127.1 1028.3,133.8 1023.4,139.3 1018.5,145.9 1013.6,153.9 1008.7,163.7 1003.8,175.6 998.9,190.2 994,208.4 991.5,219.9 989.1,233.9 987.3,248.1 986.4,260 986.3,269.5 987.1,276.7 988.6,283.9 991.5,292.8 994,298.5 996.4,302.9 1001.3,309.9 1008.7,317.3 1013.6,320.9 1019.6,324.4 1025.8,327.4 1033.2,330 1043,332.7 1052.8,334.7Z"/>
<path fill="#efbe30" d="M1068.9,329.2 1084.7,329.8 1099.4,329.5 1111.7,328.6 1124.8,326.8 1136.2,324.7 1147.1,322.1 1181.7,312.5 1197.2,307.7 1226.9,297.3 1243.4,291 1259.5,283.9 1268.3,279.1 1274.8,274.3 1277,271.9 1278.4,269.5 1278.8,267.1 1278.7,264.8 1277.5,260 1273.9,252.8 1268.3,245.7 1258.7,236.1 1247.5,226.6 1191.8,183.6 1146,150.1 1136.2,143.7 1126.4,138.5 1119,135.4 1111.7,133 1101.9,130.9 1089.6,129.9 1079.8,130 1070,131.1 1060.2,133.3 1053.8,135.8 1047.9,139.1 1040.6,144.1 1033.2,150.2 1028.3,155.2 1023.4,161.2 1018.5,168.4 1013.6,177.2 1006.2,194.1 996.4,222.5 994,231.7 991,250.4 990.2,260 990.1,269.5 991.5,279.1 994,286.6 996.4,291.4 1001.3,298.6 1006.2,304.8 1011.1,310 1014.2,312.5 1018.5,315.5 1023.4,318.2 1028.3,320.5 1035.6,323.1 1052.8,327.4 1060.2,328.5Z"/>
<path fill="#f4be2c" d="M1056.8,319.7 1067.5,320.9 1079.8,321.5 1092,321.5 1104.3,320.9 1116.4,319.7 1126.4,318 1138.6,315.3 1148.1,312.5 1210.4,291 1222.7,286.2 1233.1,281.5 1240.9,276.7 1243.8,274.3 1245.9,271.9 1247.3,269.5 1247.7,267.1 1247.6,264.8 1246.5,260 1244.1,254.8 1239.4,248.1 1234.3,242.5 1227.3,236.1 1214.9,226.6 1182.8,203.9 1143.5,172.5 1131.3,164.4 1123.9,160.5 1116.4,157.3 1108.9,154.9 1099.4,153.1 1089.6,152.3 1079.8,152.4 1070,153.6 1060.2,156 1055.3,158 1050.4,160.8 1043,165.9 1038.1,169.9 1033.2,174.5 1028.3,180 1020.9,190.4 1016,199.3 1008.7,214.5 1003.8,226.1 1001.3,232.9 998.9,241 996.7,250.4 995.8,257.6 995.3,264.8 995.4,269.5 996.1,274.3 998.9,281.6 1001.5,286.3 1004.9,291 1008.7,295.5 1013.6,300.4 1022.8,307.7 1031.7,312.5 1038,314.9 1045.5,317.2Z"/>
<path fill="#f9be27" d="M1069.6,307.7 1087.1,308.4 1099.4,308 1106.8,307.4 1116.6,305.8 1123.9,304.2 1133.7,301.5 1144,298.2 1181.2,283.9 1191.1,279.1 1195.2,276.7 1198.4,274.3 1200.9,271.9 1202.4,269.5 1202.9,267.1 1202.8,264.8 1201.5,260 1199,255.2 1195.5,250.4 1191.1,245.7 1183.2,238.5 1138.6,205 1128.8,198.3 1119.4,193.1 1111.7,190 1104.3,187.8 1096.9,186.6 1089.6,186 1082.2,186 1074.9,186.7 1067.5,188.1 1060.2,190.3 1055.3,192.6 1050.4,195.7 1038.1,205.9 1028.3,215.8 1020.9,225.4 1015.9,233.7 1013.6,238.5 1010.8,245.7 1008.7,252.8 1007.8,257.6 1007.1,264.8 1007.2,269.5 1008.4,274.3 1009.5,276.7 1013.6,282.9 1019.3,288.6 1025.9,293.4 1035.6,298.5 1050.4,304.1 1057.7,306.1Z"/>
<path d="M952.3 486.8v-5 M952.3 9.3v5 M854.2 391.3h5 M1344.6 391.3h-5 M1050.4 486.8v-5 M1050.4 9.3v5 M854.2 295.8h5 M1344.6 295.8h-5 M1148.4 486.8v-5 M1148.4 9.3v5 M854.2 200.3h5 M1344.6 200.3h-5 M1246.5 486.8v-5 M1246.5 9.3v5 M854.2 104.8h5 M1344.6 104.8h-5" stroke="#1a1a1a" stroke-width="1.2" fill="none"/>
<rect x="854.2" y="9.3" width="490.4" height="477.5" fill="none" stroke="#1a1a1a" stroke-width="1.5"/>
<rect x="1374.5" y="479.34" width="32.2" height="8.06" fill="#1f2082"/>
<rect x="1374.5" y="471.88" width="32.2" height="8.06" fill="#202287"/>
<rect x="1374.5" y="464.42" width="32.2" height="8.06" fill="#21258c"/>
<rect x="1374.5" y="456.96" width="32.2" height="8.06" fill="#262d92"/>
<rect x="1374.5" y="449.50" width="32.2" height="8.06" fill="#2b3898"/>
<rect x="1374.5" y="442.03" width="32.2" height="8.06" fill="#2e409c"/>
<rect x="1374.5" y="434.57" width="32.2" height="8.06" fill="#3048a0"/>
<rect x="1374.5" y="427.11" width="32.2" height="8.06" fill="#314fa4"/>
<rect x="1374.5" y="419.65" width="32.2" height="8.06" fill="#3256a8"/>
<rect x="1374.5" y="412.19" width="32.2" height="8.06" fill="#325bab"/>
<rect x="1374.5" y="404.73" width="32.2" height="8.06" fill="#3160ae"/>
<rect x="1374.5" y="397.27" width="32.2" height="8.06" fill="#3065b1"/>
<rect x="1374.5" y="389.81" width="32.2" height="8.06" fill="#2e6ab4"/>
<rect x="1374.5" y="382.35" width="32.2" height="8.06" fill="#2c6fb7"/>
<rect x="1374.5" y="374.89" width="32.2" height="8.06" fill="#2a74ba"/>
<rect x="1374.5" y="367.43" width="32.2" height="8.06" fill="#2779bd"/>
<rect x="1374.5" y="359.96" width="32.2" height="8.06" fill="#247ec1"/>
<rect x="1374.5" y="352.50" width="32.2" height="8.06" fill="#1f84c5"/>
<rect x="1374.5" y="345.04" width="32.2" height="8.06" fill="#1a8ac8"/>
<rect x="1374.5" y="337.58" width="32.2" height="8.06" fill="#168fcb"/>
<rect x="1374.5" y="330.12" width="32.2" height="8.06" fill="#1294cc"/>
<rect x="1374.5" y="322.66" width="32.2" height="8.06" fill="#0f99cb"/>
<rect x="1374.5" y="315.20" width="32.2" height="8.06" fill="#0c9eca"/>
<rect x="1374.5" y="307.74" width="32.2" height="8.06" fill="#09a2c8"/>
<rect x="1374.5" y="300.28" width="32.2" height="8.06" fill="#08a5c4"/>
<rect x="1374.5" y="292.82" width="32.2" height="8.06" fill="#09a7bf"/>
<rect x="1374.5" y="285.35" width="32.2" height="8.06" fill="#0aa9ba"/>
<rect x="1374.5" y="277.89" width="32.2" height="8.06" fill="#0cabb4"/>
<rect x="1374.5" y="270.43" width="32.2" height="8.06" fill="#0eadae"/>
<rect x="1374.5" y="262.97" width="32.2" height="8.06" fill="#10aea8"/>
<rect x="1374.5" y="255.51" width="32.2" height="8.06" fill="#12afa2"/>
<rect x="1374.5" y="248.05" width="32.2" height="8.06" fill="#16b09c"/>
<rect x="1374.5" y="240.59" width="32.2" height="8.06" fill="#1cb196"/>
<rect x="1374.5" y="233.13" width="32.2" height="8.06" fill="#23b18e"/>
<rect x="1374.5" y="225.67" width="32.2" height="8.06" fill="#2cb286"/>
<rect x="1374.5" y="218.21" width="32.2" height="8.06" fill="#38b37e"/>
<rect x="1374.5" y="210.75" width="32.2" height="8.06" fill="#46b576"/>
<rect x="1374.5" y="203.28" width="32.2" height="8.06" fill="#54b66f"/>
<rect x="1374.5" y="195.82" width="32.2" height="8.06" fill="#62b868"/>
<rect x="1374.5" y="188.36" width="32.2" height="8.06" fill="#73ba61"/>
<rect x="1374.5" y="180.90" width="32.2" height="8.06" fill="#84bc5a"/>
<rect x="1374.5" y="173.44" width="32.2" height="8.06" fill="#95be54"/>
<rect x="1374.5" y="165.98" width="32.2" height="8.06" fill="#a6bf4e"/>
<rect x="1374.5" y="158.52" width="32.2" height="8.06" fill="#b5c049"/>
<rect x="1374.5" y="151.06" width="32.2" height="8.06" fill="#c2c044"/>
<rect x="1374.5" y="143.60" width="32.2" height="8.06" fill="#cec040"/>
<rect x="1374.5" y="136.14" width="32.2" height="8.06" fill="#d8c03c"/>
<rect x="1374.5" y="128.68" width="32.2" height="8.06" fill="#e1c038"/>
<rect x="1374.5" y="121.21" width="32.2" height="8.06" fill="#e8bf34"/>
<rect x="1374.5" y="113.75" width="32.2" height="8.06" fill="#efbe30"/>
<rect x="1374.5" y="106.29" width="32.2" height="8.06" fill="#f4be2c"/>
<rect x="1374.5" y="98.83" width="32.2" height="8.06" fill="#f9be27"/>
<rect x="1374.5" y="91.37" width="32.2" height="8.06" fill="#fcbe22"/>
<rect x="1374.5" y="83.91" width="32.2" height="8.06" fill="#fdc01e"/>
<rect x="1374.5" y="76.45" width="32.2" height="8.06" fill="#fdc41a"/>
<rect x="1374.5" y="68.99" width="32.2" height="8.06" fill="#fcc817"/>
<rect x="1374.5" y="61.53" width="32.2" height="8.06" fill="#fbcc14"/>
<rect x="1374.5" y="54.07" width="32.2" height="8.06" fill="#fad112"/>
<rect x="1374.5" y="46.60" width="32.2" height="8.06" fill="#f9d610"/>
<rect x="1374.5" y="39.14" width="32.2" height="8.06" fill="#f8db0f"/>
<rect x="1374.5" y="31.68" width="32.2" height="8.06" fill="#f7e00e"/>
<rect x="1374.5" y="24.22" width="32.2" height="8.06" fill="#f6e40f"/>
<rect x="1374.5" y="16.76" width="32.2" height="8.06" fill="#f6e810"/>
<rect x="1374.5" y="9.30" width="32.2" height="8.06" fill="#f6ec12"/>
<rect x="1374.5" y="9.3" width="32.2" height="477.5" fill="none" stroke="#1a1a1a" stroke-width="1.2"/>
<text x="854.2" y="516.6" text-anchor="middle" font-size="27" fill="#303030" >0</text>
<text x="844.9" y="496" text-anchor="end" font-size="27" fill="#303030" >0</text>
<text x="952.3" y="516.6" text-anchor="middle" font-size="27" fill="#303030" >2</text>
<text x="844.9" y="400.5" text-anchor="end" font-size="27" fill="#303030" >2</text>
<text x="1050.4" y="516.6" text-anchor="middle" font-size="27" fill="#303030" >4</text>
<text x="844.9" y="305" text-anchor="end" font-size="27" fill="#303030" >4</text>
<text x="1148.4" y="516.6" text-anchor="middle" font-size="27" fill="#303030" >6</text>
<text x="844.9" y="209.5" text-anchor="end" font-size="27" fill="#303030" >6</text>
<text x="1246.5" y="516.6" text-anchor="middle" font-size="27" fill="#303030" >8</text>
<text x="844.9" y="114" text-anchor="end" font-size="27" fill="#303030" >8</text>
<text x="1343.8" y="516.6" text-anchor="middle" font-size="27" fill="#303030" >10</text>
<text x="844.9" y="18.5" text-anchor="end" font-size="27" fill="#303030" >10</text>
<text x="1414.3" y="496.3" text-anchor="start" font-size="24" fill="#303030" >0</text>
<path d="M1406.7 391.3h-5" stroke="#1a1a1a" stroke-width="1.2"/>
<text x="1414.3" y="399.9" text-anchor="start" font-size="24" fill="#303030" >0.05</text>
<path d="M1406.7 295.8h-5" stroke="#1a1a1a" stroke-width="1.2"/>
<text x="1414.3" y="304.4" text-anchor="start" font-size="24" fill="#303030" >0.10</text>
<path d="M1406.7 200.3h-5" stroke="#1a1a1a" stroke-width="1.2"/>
<text x="1414.3" y="208.9" text-anchor="start" font-size="24" fill="#303030" >0.15</text>
<path d="M1406.7 104.8h-5" stroke="#1a1a1a" stroke-width="1.2"/>
<text x="1414.3" y="113.4" text-anchor="start" font-size="24" fill="#303030" >0.20</text>
<text x="1414.3" y="18.3" text-anchor="start" font-size="24" fill="#303030" >0.25</text>
</g>
<g id="pc">
<rect x="104" y="603.8" width="495.1" height="482" fill="#1f2082"/>
<rect x="104" y="603.8" width="495.1" height="482" fill="#202287"/>
<path fill="#21258c" d="M104,1085.8 599.1,1085.8 599.1,812.2 571.9,806.3 539.7,797.7 505,787.2 482.8,779.4 458,768.8 433.2,756.4 408.5,742.3 398.6,735.9 391.2,730.5 378.8,719.5 368.1,707.4 359,694.6 354,686 350.3,678.5 343.5,661.6 338.5,644.8 334.7,625.5 332.3,603.8 104,603.8Z"/>
<path fill="#262d92" d="M104,1085.8 599.1,1085.8 599.1,885.9 552.1,882.5 497.6,876.9 465.4,872.2 436.1,866.5 401.1,857.2 385.7,852 376.3,847.9 368.9,843.9 361.5,839.2 353,832.8 344.1,824.8 334.2,814.6 316.2,794.2 308.5,784.5 302,775.2 294.6,762.7 287.3,748.4 282.2,736.5 277.3,722.8 272.7,707.4 269.3,693 266.6,678.5 264.3,661.6 262.6,642.4 261.6,623.1 261.2,603.8 104,603.8Z"/>
<path fill="#2b3898" d="M104,1085.8 599.1,1085.8 599.1,920.1 548.8,917.1 487.7,912 448,907.5 386.2,898.9 359,893.4 331.7,885.7 317.8,880.9 309.5,877.6 301.4,873.7 294.6,869.7 287.1,864.1 279.8,856.6 272.7,847.2 267.4,837.9 262.4,826.8 257.5,813 250.1,789.3 246.3,774.9 242.6,755.7 240.3,738.8 236.3,697.8 235,678.5 234.1,654.4 233.6,603.8 104,603.8Z"/>
<path fill="#2e409c" d="M104,1085.8 599.1,1085.8 599.1,947.6 547.1,944.9 485.2,940.5 396.1,931.3 368.9,927.5 354,924.8 336.7,920.9 321.8,917.1 307,912.6 294.6,908 284.7,903.6 274.8,898.4 264.9,892.3 257.5,886.8 251,881 246.6,876.1 243.5,871.3 240.4,864.1 237.7,854.9 235.2,843.8 233.3,832.8 227.8,792.3 225.5,772.5 221.5,724.3 219.9,695.4 218.9,666.5 218.4,635.1 218.5,603.8 104,603.8Z"/>
<path fill="#3048a0" d="M104,1085.8 599.1,1085.8 599.1,966.8 534.7,964.6 470.4,961.5 393.6,955.9 363.9,952.5 346.6,949.7 327.6,946 311.9,942.4 299.4,938.8 284.7,933.8 272.3,928.7 262.4,923.7 252.5,917.4 246.2,912.3 242,907.5 237.7,900.9 230.3,887 226.5,878.5 223.3,868.9 219.7,849.6 217.1,827.9 213.6,787 210.1,731.5 207.9,671.3 207.6,603.8 104,603.8Z"/>
<path fill="#314fa4" d="M104,1085.8 599.1,1085.8 599.1,980.2 524.8,977.9 462.9,975.4 386.2,971.3 345.3,967.7 308.5,962.9 295.7,960.5 285.3,958.1 274.8,955 263.8,950.8 255,946.5 246.6,941.2 241.4,936.4 235.7,929.1 230.3,921.1 225.3,912.3 220.3,900.6 215.4,886.6 212.5,876.1 210.1,864.1 208,847.2 206.1,825.5 202.5,772.5 200.3,731.5 198.3,668.9 198.1,603.8 104,603.8Z"/>
<path fill="#3256a8" d="M104,1085.8 599.1,1085.8 599.1,991.7 529.8,989.8 467.9,987.5 386.2,983.8 346.6,980.9 309.5,976.9 292.1,974.4 277.3,971.7 264.9,968.8 253.2,965.3 245.1,962.1 240.2,958.8 232.7,951.3 227,943.6 220.3,931.8 215.4,920.8 210.4,906.7 205.5,888.9 202.4,876.1 200.3,864.1 198.3,847.2 196.5,825.5 193,772.5 190.9,731.5 189,668.9 188.9,603.8 104,603.8Z"/>
<path fill="#325bab" d="M104,1085.8 599.1,1085.8 599.1,1001.5 492.7,998.9 393.6,995.1 359,993.1 321.8,989.9 304.5,988 282.2,984.9 267.4,982.2 256.8,979.8 247.6,977.1 242.2,974.9 235.2,970.8 227.8,965.3 222.8,960.3 217.9,952.8 212.9,942.6 208,929.7 202.3,912.3 196.4,890.6 193,876.1 190.9,864.1 189,847.2 187.3,825.5 184,772.5 182,731.5 180.3,668.9 180.2,603.8 104,603.8Z"/>
<path fill="#3160ae" d="M104,1085.8 599.1,1085.8 599.1,1009.5 490.2,1007.2 388.7,1004 351.5,1002.1 311.9,999.1 289.7,996.7 274.8,994.6 260,991.9 249.8,989.4 242.6,987.1 237.2,984.6 228.9,979.8 222.8,975.3 217.5,970.1 211.9,962.9 208,955.7 204.2,946 196.6,924.3 191.5,907.5 185.5,883.4 182.4,866.5 180.5,849.6 178.8,827.9 175.5,772.5 173.5,731.5 171.7,668.9 171.7,603.8 104,603.8Z"/>
<path fill="#3065b1" d="M104,1085.8 599.1,1085.8 599.1,1016.7 490.2,1014.5 386.2,1011.5 344.1,1009.5 302,1006.6 269.9,1003.1 257.5,1001.1 245.1,998.4 237.7,995.7 229.7,991.8 222.8,987.6 217.9,983.8 211.4,977.3 205.5,969.2 200.5,960.5 195.6,948.5 188.2,926.7 183.4,909.9 177.1,883.4 174.1,866.5 172.2,849.6 170.5,827.9 167.7,779.7 165.9,740 164.1,673.7 164,603.8 104,603.8Z"/>
<path fill="#2e6ab4" d="M104,1085.8 599.1,1085.8 599.1,1023.8 490.2,1021.5 386.2,1018.5 344.1,1016.6 299.6,1013.7 267.4,1010.5 254.9,1008.7 242.7,1006.3 235.1,1003.9 225.3,999.7 219.9,996.6 213.4,991.8 208,986.4 200.9,977.3 193.6,965.3 190.1,958.1 183.2,937.8 175.8,912.4 170.1,888.2 167,871.3 165.1,854.4 163.4,830.4 159.9,750.8 158.1,678.5 157.9,603.8 104,603.8Z"/>
<path fill="#2c6fb7" d="M104,1085.8 599.1,1085.8 599.1,1030.7 490.2,1028.4 386.2,1025.5 339.2,1023.4 297.1,1020.5 264.9,1017.2 242.6,1013.6 232.7,1010.7 221,1006.3 212.9,1001.8 208,998 200.5,990.2 193.1,980.1 188.2,972 182.6,960.5 173.9,934 168.5,914.7 163.6,890.6 161.3,876.1 159.7,861.7 158.2,840 154.7,753.2 153,678.5 152.7,603.8 104,603.8Z"/>
<path fill="#2a74ba" d="M104,1085.8 599.1,1085.8 599.1,1037 492.7,1035 383.7,1032.1 336.7,1030 292.1,1027 262.4,1023.9 247.6,1021.6 240.2,1019.9 225.3,1015.4 217.9,1012.4 210.3,1008.7 203,1003.6 198.2,999 193.9,994.2 186.9,984.6 180.7,974.1 174.5,960.5 168.4,940.5 163.4,920.9 160.7,907.5 157,883.4 155.1,866.5 153.5,843.1 150.3,762.9 148.4,683.3 148,603.8 104,603.8Z"/>
<path fill="#2779bd" d="M104,1085.8 599.1,1085.8 599.1,1042.5 480.3,1040.5 376.3,1037.9 316.4,1035.2 277.3,1032.3 260,1030.3 245.1,1027.9 235.4,1025.5 225.3,1022.4 215.4,1018.6 208,1014.9 200.5,1010.1 193.1,1004 185.7,995.9 178.3,984.6 172.1,972.5 167.3,960.5 163.4,945.8 158.5,923.1 155.7,907.5 152.4,883.4 150.6,866.5 149.2,844.8 145.9,762.9 143.9,680.9 143.5,603.8 104,603.8Z"/>
<path fill="#247ec1" d="M104,1085.8 599.1,1085.8 599.1,1047 480.3,1045.3 368.9,1043 309.5,1040.5 269.9,1037.6 255,1035.8 242.6,1033.8 230.3,1030.7 220.3,1027.6 210.4,1023.5 203,1019.3 194.6,1013.5 185.8,1006.3 179.3,999 173.3,989.7 167.2,977.3 162.8,965.3 160.3,955.7 153.7,921.9 151,905 147.9,881 146.3,864.1 144.8,840 141.7,758 140.1,680.9 139.6,603.8 104,603.8Z"/>
<path fill="#1f84c5" d="M104,1085.8 599.1,1085.8 599.1,1051.3 485.2,1049.6 368.9,1047.4 307,1045.2 264.6,1042.4 247.6,1040.4 240.2,1039.1 225.3,1035.5 215.4,1032.3 208,1029.2 200.5,1025.1 190.6,1018.2 181.9,1011.1 174.9,1003.9 168.6,994.2 163.4,983.3 159.7,972.5 156.1,958.1 151,930.7 147.3,907.5 144,880.9 142.5,864.1 141.1,840.3 138.5,765.3 136.7,680.9 136.1,603.8 104,603.8Z"/>
<path fill="#1a8ac8" d="M104,1085.8 599.1,1085.8 599.1,1055.7 366.4,1051.5 304.5,1049.3 279.8,1048 260,1046.4 245.1,1044.8 231.7,1042.4 221.2,1040 210.4,1036.5 203,1033.3 195.6,1029.1 185.7,1022.1 178.3,1015.8 170.8,1007.9 164.7,999 160.9,991.2 157.1,979.8 152.5,960.5 147.7,934 143.9,909.9 141.1,887.8 139.4,868.9 138.3,849.6 135.4,770.1 133.6,685.7 132.9,603.8 104,603.8Z"/>
<path fill="#168fcb" d="M104,1085.8 599.1,1085.8 599.1,1061.1 363.9,1055.9 304.5,1053.6 260,1050.6 245.1,1048.9 230.3,1046.4 215.4,1043.3 205.5,1040.3 198.1,1036.9 190.6,1032.7 183.2,1027.5 175.8,1021.2 168.7,1013.5 163.2,1006.3 158.5,997.8 155.4,989.4 151.1,972.5 147.8,955.7 142.1,921.9 138.7,895.2 136.6,873.7 135.5,856.9 132.6,777.3 130.6,690.6 129.9,603.8 104,603.8Z"/>
<path fill="#1294cc" d="M104,1085.8 599.1,1085.8 599.1,1068.1 487.7,1065.1 368.9,1061.4 307,1058.4 264.9,1055.2 245.1,1052.9 235.2,1051.3 217.9,1048 205.2,1044.8 198.1,1042.3 188.6,1037.6 180.7,1032.5 173.3,1026.2 165.9,1017.9 159.2,1008.7 155.3,1001.4 152.7,994.2 149.1,979.8 144.2,955.7 139.4,926.7 136.3,902.6 133.9,878.5 132.8,861.7 130,789.4 127.8,695.4 127,603.8 104,603.8Z"/>
<path fill="#0f99cb" d="M104,1085.8 599.1,1085.8 599.1,1076.5 368.9,1068.2 319.4,1065.2 282.2,1062 264.9,1059.9 242.6,1056.7 220.3,1052.5 205.5,1049 193.3,1044.8 183.3,1040 176,1035.2 170.8,1030.7 163.4,1022.4 157.1,1013.5 153.2,1006.3 149.7,996.6 146.1,982.2 141.1,958.1 136.6,929.1 133.6,905 131.2,881.7 130,864.1 127.3,794.2 125,695.4 124.2,603.8 104,603.8Z"/>
<path fill="#0c9eca" d="M104,1085.8 526.9,1085.8 499.2,1083.4 462.2,1081 381.3,1076.6 339.4,1073.8 302,1070.4 264.9,1065.6 245.1,1062 217.9,1056.1 205.5,1052.9 195.6,1049.7 183.7,1044.8 175.8,1040.6 169,1035.2 162.2,1028 156,1019.5 151.5,1011.1 147.7,1001.5 144.3,989.4 140.6,972.5 137.2,953.2 132.3,919.5 129.2,890.6 127.6,871.3 126.4,849.6 123.8,770.1 122,683.3 121.4,603.8 104,603.8Z"/>
<path fill="#09a2c8" d="M104,1085.8 394,1085.8 339.2,1080.9 294.6,1075.8 262.4,1071 245.1,1067.6 232.7,1064.5 217.9,1060.5 200.5,1055.3 185.7,1049.7 175.8,1045.1 168.4,1040.2 163.4,1035.5 158.5,1030 153.5,1022.8 148.6,1012.7 144.4,1001.4 141.5,991.8 138.7,979.1 134.5,955.7 131,931.6 128.3,909.9 125.8,883.4 123.4,842.4 120.7,755.6 119.1,678.5 118.4,603.8 104,603.8Z"/>
<path fill="#08a5c4" d="M104,1085.8 331.7,1085.8 290.8,1081 261.1,1076.2 237.7,1071 220.3,1066.3 208,1062.4 195.6,1057.7 180.7,1051.4 173.3,1047.7 168.4,1044.6 162.5,1040 156,1033 152.5,1028 148.6,1020.7 144.6,1011.1 140.3,999 138.2,991.8 136.2,982.1 131.6,955.7 128.5,934 125.6,909.9 122.9,880.9 120.6,837.6 117.7,750.8 116,671.3 115.3,603.8 104,603.8Z"/>
<path fill="#09a7bf" d="M104,1085.8 293.3,1085.8 275.3,1083.4 257.5,1080.3 242.6,1077.1 220.3,1071.3 210.4,1068.3 200.5,1064.5 175.8,1052.8 168.4,1048.5 163.1,1044.8 157.5,1040 153.5,1035.4 150.1,1030.4 147.4,1025.5 140.4,1008.7 137.1,999 135.2,991.8 128.8,955 123.5,914.7 119.7,873.7 117.5,830.3 114.5,746 112.8,671.3 112,603.8 104,603.8Z"/>
<path fill="#0aa9ba" d="M104,1085.8 263.8,1085.8 245.1,1082.2 235.2,1079.8 220.3,1076.1 205.5,1071.4 198.1,1068.4 190.6,1064.8 168.4,1052.3 161.2,1047.2 156,1042.8 153.1,1040 149.3,1035.2 146.1,1029.7 142.9,1023.1 136.2,1005.7 133.7,997.2 132,989.4 125.9,953.2 120.4,909.9 116.6,868.9 114.1,818.3 111.8,750.8 108.4,603.8 104,603.8Z"/>
<path fill="#0cabb4" d="M104,1085.8 236.5,1085.8 210.4,1077.8 195.6,1072.1 188.2,1068.4 178.3,1062.6 168.4,1056.1 158.5,1048.8 153.5,1044.6 149.1,1040 144.4,1032.8 140.8,1025.5 136.8,1015.9 132.2,1001.5 128.5,984.6 121.4,938.8 116.9,902.6 113.9,870.6 111.4,815.7 104.4,603.8 104,603.8Z"/>
<path fill="#0eadae" d="M104,1085.8 213.4,1085.8 190.6,1074.6 178.3,1067.4 168.4,1060.3 156,1050.6 151,1046.2 145.5,1040 141.1,1032.8 135.6,1020.7 130.9,1006.3 126.9,989.4 120.9,953.2 116.4,921.9 113.9,899.8 111.3,864.1 104,681.2Z"/>
<path fill="#10aea8" d="M104,1085.8 196.3,1085.8 190.4,1081 175.8,1071 168.4,1065.3 151,1050.2 146.1,1045.1 140.6,1037.6 136.2,1029.1 132.8,1020.7 128.8,1007.3 125.1,991.8 118,950.8 113.9,921.9 112.8,909.9 111.4,895 109.6,866.5 104,741Z"/>
<path fill="#12afa2" d="M104,1085.8 184.2,1085.8 179.6,1081 163.4,1066.5 148.6,1051.9 143.6,1046.3 137.5,1037.6 133.8,1030.4 131,1023.1 127.5,1011.1 123.4,994.2 116.4,956.5 113,931.6 111.1,912.3 108.6,878.5 104,788.2Z"/>
<path fill="#16b09c" d="M104,1085.8 174.1,1085.8 151,1059.6 143.6,1050.7 138.7,1044 134.5,1037.6 132.1,1032.8 128.8,1023.5 126.3,1015 120.7,991.8 116.4,969.5 113.4,950.8 111.2,931.6 108.1,895.4 104,826Z"/>
<path fill="#1cb196" d="M104,1085.8 165.6,1085.8 151,1066.5 133.7,1041 131.2,1036.5 128.8,1030.4 124.4,1015.9 116.4,981.4 113.9,967.5 112,953.2 107.2,905 104,858Z"/>
<path fill="#23b18e" d="M104,1085.8 158.3,1085.8 153.5,1079.2 148.6,1071.4 139.4,1054.5 131.2,1041.3 127.5,1032.8 123.7,1020.7 116.4,991.9 113.9,979 111.4,961.3 108.6,936.4 104,883.8Z"/>
<path fill="#2cb286" d="M104,1085.8 151.7,1085.8 146.1,1076.1 137.4,1056.9 131.2,1045.8 126.3,1035.2 123.1,1025.5 116.4,1000.3 113.9,989.3 110.8,967.7 106.8,934 104,903.8Z"/>
<path fill="#38b37e" d="M104,1085.8 146.2,1085.8 141.1,1074.2 134.4,1056.9 128.8,1045.5 124.3,1035.2 121.3,1025.8 116.4,1007.8 113.9,997.6 111.4,982.9 106.7,946 104,920.4Z"/>
<path fill="#46b576" d="M104,1085.8 141.8,1085.8 131.6,1056.9 122.5,1035.2 116.4,1014.9 113.9,1005 111,989.4 106.5,956.2 104,934.9Z"/>
<path fill="#54b66f" d="M104,1085.8 138.2,1085.8 128.3,1054.5 119.8,1032.8 113.9,1011.8 109.4,987 104,947.3Z"/>
<path fill="#62b868" d="M104,1085.8 135.2,1085.8 133.6,1081 127,1056.9 118.1,1032.8 113.9,1018 108.4,989.4 104,958.2Z"/>
<path fill="#73ba61" d="M104,1085.8 132.6,1085.8 130.8,1081 124.3,1054.5 116.4,1032.8 113.9,1023.7 108,994.2 104,968Z"/>
<path fill="#84bc5a" d="M104,1085.8 130.3,1085.8 127.8,1078.6 122.4,1054.5 116.4,1037.2 113.9,1029 107.2,996.6 104,977Z"/>
<path fill="#95be54" d="M104,1085.8 128.3,1085.8 125.9,1078.6 120,1052.1 113.7,1032.8 107.9,1006.3 104,985.4Z"/>
<path fill="#a6bf4e" d="M104,1085.8 126.6,1085.8 123.8,1077.2 118.4,1052.1 112,1030.4 104,992.5Z"/>
<path fill="#b5c049" d="M104,1085.8 125,1085.8 123.3,1081 121.5,1073.8 117,1052.1 111.4,1032.3 104,998.8Z"/>
<path fill="#c2c044" d="M104,1085.8 123.5,1085.8 121.2,1078.6 115.8,1052.1 110.6,1032.8 104,1004.5Z"/>
<path fill="#cec040" d="M104,1085.8 122,1085.8 118.9,1073.6 114.7,1052.1 109.6,1032.8 104,1009.7Z"/>
<path fill="#d8c03c" d="M104,1085.8 120.7,1085.8 118.2,1076.2 113.1,1049.6 104,1014.3Z"/>
<path fill="#e1c038" d="M104,1085.8 119.3,1085.8 117.1,1076.2 112.1,1049.6 104,1018.5Z"/>
<path fill="#e8bf34" d="M104,1085.8 118,1085.8 115.9,1076.2 111.2,1049.6 104,1022.5Z"/>
<path fill="#efbe30" d="M104,1085.8 116.7,1085.8 110.3,1049.6 104,1026.3Z"/>
<path fill="#f4be2c" d="M104,1085.8 115.4,1085.8 109.8,1052.1 104,1030.1Z"/>
<path fill="#f9be27" d="M104,1085.8 114.1,1085.8 108.9,1052.1 104,1033.5Z"/>
<path fill="#fcbe22" d="M104,1085.8 112.8,1085.8 107.9,1052.1 104,1036.7Z"/>
<path fill="#fdc01e" d="M104,1085.8 111.4,1085.8 107.8,1056.9 106.5,1049.6 104,1039.9Z"/>
<path fill="#fdc41a" d="M104,1085.8 110.1,1085.8 107.2,1059.3 105.6,1049.6 104,1043.3Z"/>
<path fill="#fcc817" d="M104,1085.8 108.7,1085.8 106.2,1059.3 104,1046.6Z"/>
<path fill="#fbcc14" d="M104,1085.8 107.3,1085.8 105.5,1061.7 104,1050.6Z"/>
<path fill="#fad112" d="M104,1085.8 105.8,1085.8 104.9,1066.5 104,1056.6Z"/>
<path fill="#f9d610" d="M104,1085.8 104.4,1085.8 104,1069.8Z"/>
<path d="M203.0 1085.8v-5 M203.0 603.8v5 M104.0 989.4h5 M599.1 989.4h-5 M302.0 1085.8v-5 M302.0 603.8v5 M104.0 893.0h5 M599.1 893.0h-5 M401.1 1085.8v-5 M401.1 603.8v5 M104.0 796.6h5 M599.1 796.6h-5 M500.1 1085.8v-5 M500.1 603.8v5 M104.0 700.2h5 M599.1 700.2h-5" stroke="#1a1a1a" stroke-width="1.2" fill="none"/>
<rect x="104" y="603.8" width="495.1" height="482" fill="none" stroke="#1a1a1a" stroke-width="1.5"/>
<rect x="629.7" y="1078.27" width="32.6" height="8.13" fill="#1f2082"/>
<rect x="629.7" y="1070.74" width="32.6" height="8.13" fill="#202287"/>
<rect x="629.7" y="1063.21" width="32.6" height="8.13" fill="#21258c"/>
<rect x="629.7" y="1055.67" width="32.6" height="8.13" fill="#262d92"/>
<rect x="629.7" y="1048.14" width="32.6" height="8.13" fill="#2b3898"/>
<rect x="629.7" y="1040.61" width="32.6" height="8.13" fill="#2e409c"/>
<rect x="629.7" y="1033.08" width="32.6" height="8.13" fill="#3048a0"/>
<rect x="629.7" y="1025.55" width="32.6" height="8.13" fill="#314fa4"/>
<rect x="629.7" y="1018.02" width="32.6" height="8.13" fill="#3256a8"/>
<rect x="629.7" y="1010.49" width="32.6" height="8.13" fill="#325bab"/>
<rect x="629.7" y="1002.96" width="32.6" height="8.13" fill="#3160ae"/>
<rect x="629.7" y="995.42" width="32.6" height="8.13" fill="#3065b1"/>
<rect x="629.7" y="987.89" width="32.6" height="8.13" fill="#2e6ab4"/>
<rect x="629.7" y="980.36" width="32.6" height="8.13" fill="#2c6fb7"/>
<rect x="629.7" y="972.83" width="32.6" height="8.13" fill="#2a74ba"/>
<rect x="629.7" y="965.30" width="32.6" height="8.13" fill="#2779bd"/>
<rect x="629.7" y="957.77" width="32.6" height="8.13" fill="#247ec1"/>
<rect x="629.7" y="950.24" width="32.6" height="8.13" fill="#1f84c5"/>
<rect x="629.7" y="942.71" width="32.6" height="8.13" fill="#1a8ac8"/>
<rect x="629.7" y="935.17" width="32.6" height="8.13" fill="#168fcb"/>
<rect x="629.7" y="927.64" width="32.6" height="8.13" fill="#1294cc"/>
<rect x="629.7" y="920.11" width="32.6" height="8.13" fill="#0f99cb"/>
<rect x="629.7" y="912.58" width="32.6" height="8.13" fill="#0c9eca"/>
<rect x="629.7" y="905.05" width="32.6" height="8.13" fill="#09a2c8"/>
<rect x="629.7" y="897.52" width="32.6" height="8.13" fill="#08a5c4"/>
<rect x="629.7" y="889.99" width="32.6" height="8.13" fill="#09a7bf"/>
<rect x="629.7" y="882.46" width="32.6" height="8.13" fill="#0aa9ba"/>
<rect x="629.7" y="874.92" width="32.6" height="8.13" fill="#0cabb4"/>
<rect x="629.7" y="867.39" width="32.6" height="8.13" fill="#0eadae"/>
<rect x="629.7" y="859.86" width="32.6" height="8.13" fill="#10aea8"/>
<rect x="629.7" y="852.33" width="32.6" height="8.13" fill="#12afa2"/>
<rect x="629.7" y="844.80" width="32.6" height="8.13" fill="#16b09c"/>
<rect x="629.7" y="837.27" width="32.6" height="8.13" fill="#1cb196"/>
<rect x="629.7" y="829.74" width="32.6" height="8.13" fill="#23b18e"/>
<rect x="629.7" y="822.21" width="32.6" height="8.13" fill="#2cb286"/>
<rect x="629.7" y="814.67" width="32.6" height="8.13" fill="#38b37e"/>
<rect x="629.7" y="807.14" width="32.6" height="8.13" fill="#46b576"/>
<rect x="629.7" y="799.61" width="32.6" height="8.13" fill="#54b66f"/>
<rect x="629.7" y="792.08" width="32.6" height="8.13" fill="#62b868"/>
<rect x="629.7" y="784.55" width="32.6" height="8.13" fill="#73ba61"/>
<rect x="629.7" y="777.02" width="32.6" height="8.13" fill="#84bc5a"/>
<rect x="629.7" y="769.49" width="32.6" height="8.13" fill="#95be54"/>
<rect x="629.7" y="761.96" width="32.6" height="8.13" fill="#a6bf4e"/>
<rect x="629.7" y="754.42" width="32.6" height="8.13" fill="#b5c049"/>
<rect x="629.7" y="746.89" width="32.6" height="8.13" fill="#c2c044"/>
<rect x="629.7" y="739.36" width="32.6" height="8.13" fill="#cec040"/>
<rect x="629.7" y="731.83" width="32.6" height="8.13" fill="#d8c03c"/>
<rect x="629.7" y="724.30" width="32.6" height="8.13" fill="#e1c038"/>
<rect x="629.7" y="716.77" width="32.6" height="8.13" fill="#e8bf34"/>
<rect x="629.7" y="709.24" width="32.6" height="8.13" fill="#efbe30"/>
<rect x="629.7" y="701.71" width="32.6" height="8.13" fill="#f4be2c"/>
<rect x="629.7" y="694.17" width="32.6" height="8.13" fill="#f9be27"/>
<rect x="629.7" y="686.64" width="32.6" height="8.13" fill="#fcbe22"/>
<rect x="629.7" y="679.11" width="32.6" height="8.13" fill="#fdc01e"/>
<rect x="629.7" y="671.58" width="32.6" height="8.13" fill="#fdc41a"/>
<rect x="629.7" y="664.05" width="32.6" height="8.13" fill="#fcc817"/>
<rect x="629.7" y="656.52" width="32.6" height="8.13" fill="#fbcc14"/>
<rect x="629.7" y="648.99" width="32.6" height="8.13" fill="#fad112"/>
<rect x="629.7" y="641.46" width="32.6" height="8.13" fill="#f9d610"/>
<rect x="629.7" y="633.92" width="32.6" height="8.13" fill="#f8db0f"/>
<rect x="629.7" y="626.39" width="32.6" height="8.13" fill="#f7e00e"/>
<rect x="629.7" y="618.86" width="32.6" height="8.13" fill="#f6e40f"/>
<rect x="629.7" y="611.33" width="32.6" height="8.13" fill="#f6e810"/>
<rect x="629.7" y="603.80" width="32.6" height="8.13" fill="#f6ec12"/>
<rect x="629.7" y="603.8" width="32.6" height="482" fill="none" stroke="#1a1a1a" stroke-width="1.2"/>
<text x="104" y="1115" text-anchor="middle" font-size="27" fill="#303030" >0</text>
<text x="94.7" y="1095" text-anchor="end" font-size="27" fill="#303030" >0</text>
<text x="203" y="1115" text-anchor="middle" font-size="27" fill="#303030" >2</text>
<text x="94.7" y="998.6" text-anchor="end" font-size="27" fill="#303030" >2</text>
<text x="302" y="1115" text-anchor="middle" font-size="27" fill="#303030" >4</text>
<text x="94.7" y="902.2" text-anchor="end" font-size="27" fill="#303030" >4</text>
<text x="401.1" y="1115" text-anchor="middle" font-size="27" fill="#303030" >6</text>
<text x="94.7" y="805.8" text-anchor="end" font-size="27" fill="#303030" >6</text>
<text x="500.1" y="1115" text-anchor="middle" font-size="27" fill="#303030" >8</text>
<text x="94.7" y="709.4" text-anchor="end" font-size="27" fill="#303030" >8</text>
<text x="597.1" y="1115" text-anchor="middle" font-size="27" fill="#303030" >10</text>
<text x="94.7" y="613" text-anchor="end" font-size="27" fill="#303030" >10</text>
<text x="668.9" y="1090.2" text-anchor="start" font-size="24" fill="#303030" >10<tspan dx="1" dy="-12.1" font-size="19">0</tspan></text>
<path d="M662.3 965.3h-5" stroke="#1a1a1a" stroke-width="1.2"/>
<text x="668.9" y="973.6" text-anchor="start" font-size="24" fill="#303030" >10<tspan dx="1" dy="-12.1" font-size="19">1</tspan></text>
<path d="M662.3 844.8h-5" stroke="#1a1a1a" stroke-width="1.2"/>
<text x="668.9" y="853.1" text-anchor="start" font-size="24" fill="#303030" >10<tspan dx="1" dy="-12.1" font-size="19">2</tspan></text>
<path d="M662.3 724.3h-5" stroke="#1a1a1a" stroke-width="1.2"/>
<text x="668.9" y="732.6" text-anchor="start" font-size="24" fill="#303030" >10<tspan dx="1" dy="-12.1" font-size="19">3</tspan></text>
<text x="668.9" y="613.3" text-anchor="start" font-size="24" fill="#303030" >10<tspan dx="1" dy="-12.1" font-size="19">4</tspan></text>
</g>
<g id="pd">
<path d="M976.3,1079.5 971.3,1079.5 970.2,1077.7 972.7,1076.2 994,1073.5 1006.3,1070.8 1021,1064.8 1031,1057.5 1064.3,1056.2 1084,1045.8 1091.3,1040.5 1110.8,1020.7 1128.2,995.3 1133.8,985.3 1135.2,984.7 1135.8,982.3 1137.2,981.7 1137.5,979.3 1138.8,978.7 1139.2,976.3 1140.8,975 1140.8,973 1143.2,971.3 1142.5,969.7 1144.8,967.3 1144.5,965 1146.8,963.3 1146.2,961.3 1148.5,959 1147.8,957.3 1150.2,955 1149.5,953 1151.5,951.3 1151.5,949.3 1153.2,948 1153.5,945.3 1154.8,944.7 1155.2,942.3 1156.5,941.7 1165.8,927 1164.2,924.7 1164.7,923.2 1233.3,917.2 1241,915.5 1265,913.2 1281.3,910.2 1312,901.2 1328.7,893.5 1344,884.5 1345.5,885 1345.2,889 1343.2,891.3 1343.2,893.3 1340.8,895.3 1340.5,897.7 1333.2,906.7 1325,913.8 1324.2,915.7 1321.7,917.2 1320.8,919 1318.3,920.5 1313.7,925.8 1311.2,927.3 1310.5,929.3 1307.8,931.3 1307.2,933.7 1304.5,935.3 1303.8,938.3 1300.8,940.3 1300.5,942.7 1297.8,944.3 1297.5,947.3 1294.5,949.3 1294,951.8 1291.5,953 1291.2,955.7 1288.5,957.3 1287.8,959.3 1285.5,960.7 1281.7,965.8 1280,966.5 1275.7,971.5 1270.3,975.5 1267,979.5 1262,983.2 1258.7,987.2 1253.7,990.8 1241.7,1002.5 1220,1017.8 1201.3,1028.8 1184.3,1036.5 1158.7,1045.8 1115,1059.5 1093.7,1063.8 1049,1070.5 1006,1076.5Z" fill="#2f479d" fill-rule="evenodd"/>
<path d="M1378.4 651.8h0m-.7 .1h0m-1.9 .2h0m-2.7 .3h0m-3.2 .4h0m-3.5 .5h0m-3.5 .8h0m-3.7 1.1h0m-3.7 1.4h0m-3.7 2.1h0m-3.6 2.8h0m-3.7 3.5h0m-3.6 3.9h0m-3.6 5.3h0m-3.5 6.2h0m-3.6 6.4h0m-3.4 6.1h0m-3.4 6.4h0m-3.4 6.4h0m-3.3 6.1h0m-3.3 5.4h0m-3.3 5.3h0m-3.2 5.1h0m-3.1 4.9h0m-3.2 4.8h0m-3 4.6h0m-3.1 4.3h0m-3 4h0m-2.9 3.8h0m-3 3.4h0m-2.8 3.4h0m-2.9 3.2h0m-2.8 3h0m-2.8 2.9h0m-2.7 2.8h0m-2.7 2.6h0m-2.7 2.5h0m-2.6 2.3h0m-2.6 2.2h0m-2.6 2h0m-2.5 2.1h0m-2.5 1.9h0m-2.5 1.9h0m-2.4 1.9h0m-2.4 1.8h0m-2.4 1.8h0m-2.4 1.8h0m-2.3 1.7h0m-2.3 1.6h0m-2.3 1.6h0m-2.2 1.6h0m-2.2 1.5h0m-2.2 1.5h0m-2.2 1.5h0m-2.1 1.4h0m-2.1 1.4h0m-2.1 1.3h0m-2.1 1.3h0m-2 1.3h0m-2.1 1.2h0m-2 1.2h0m-1.9 1.2h0m-2 1.1h0m-1.9 1.1h0m-1.9 1.1h0m-1.9 1.1h0m-1.9 1h0m-1.9 1h0m-1.8 1h0m-1.8 1h0m-1.8 1h0m-1.8 .9h0m-1.7 1h0m-1.8 .9h0m-1.7 .9h0m-1.7 .9h0m-1.7 .8h0m-1.6 .9h0m-1.7 .8h0m-1.6 .9h0m-1.6 .8h0m-1.6 .8h0m-1.6 .8h0m-1.6 .7h0m-1.5 .8h0m-1.6 .7h0m-1.5 .7h0m-1.5 .8h0m-1.5 .7h0m-1.5 .6h0m-1.5 .7h0m-1.4 .7h0m-1.4 .6h0m-1.5 .7h0m-1.4 .6h0m-1.4 .6h0m-1.4 .6h0m-1.3 .6h0m-1.4 .6h0m-1.3 .5h0m-1.4 .6h0m-1.3 .6h0m-1.3 .5h0m-1.3 .6h0m-1.3 .5h0m-1.3 .6h0m-1.2 .5h0m-1.3 .5h0m-1.2 .6h0m-1.2 .5h0m-1.3 .5h0m-1.2 .5h0m-1.2 .5h0m-1.2 .5h0m-1.1 .5h0m-1.2 .4h0m-1.2 .5h0m-1.1 .5h0m-1.2 .4h0m-1.1 .5h0m-1.1 .5h0m-1.1 .4h0m-1.1 .4h0m-1.1 .5h0m-1.1 .4h0m-1.1 .4h0m-1 .5h0m-1.1 .4h0m-1 .4h0m-1.1 .4h0m-1 .4h0m-1 .4h0m-1 .4h0m-1 .3h0m-1 .4h0m-1 .4h0m-1 .4h0m-1 .3h0m-.9 .4h0m-1 .3h0m-1 .4h0m-.9 .3h0m-.9 .4h0m-1 .3h0m-.9 .3h0m-.9 .4h0m-.9 .3h0m-.9 .3h0m-.9 .3h0m-.9 .3h0m-.9 .4h0m-.9 .3h0m-.8 .3h0m-.9 .3h0m-.9 .3h0m-.8 .3h0m-.8 .3h0m-.9 .3h0m-.8 .3h0m-.8 .3h0m-.9 .3h0m-.8 .3h0m-.8 .2h0m-.8 .3h0m-.8 .3h0m-.8 .3h0m-.8 .3h0m-.7 .2h0m-.8 .3h0m-.8 .3h0m-.8 .2h0m-.7 .3h0m-.8 .3h0m-.7 .2h0m-.8 .3h0m-.7 .2h0m-.7 .3h0m-.8 .2h0m-.7 .3h0m-.7 .2h0m-.7 .2h0m-.7 .2h0m-.7 .3h0m-.7 .2h0m-.7 .2h0m-.7 .2h0m-.7 .2h0m-.7 .2h0m-.6 .2h0m-.7 .2h0m-.7 .2h0m-.7 .2h0m-.6 .2h0m-.7 .2h0m-.6 .1h0m-.7 .2h0m-.6 .2h0m-.6 .1h0m-.7 .2h0m-.6 .1h0m-.6 .2h0m323.3-220.9h0m-.7 .9h0m-1.9 1h0m-2.7 1.1h0m-3.2 1.2h0m-3.5 1.3h0m-3.6 1.6h0m-3.6 1.8h0m-3.7 2h0m-3.7 2.7h0m-3.7 3.4h0m-3.6 3.8h0m-3.6 4.3h0m-3.6 5.5h0m-3.6 6.3h0m-3.5 6.4h0m-3.4 6.2h0m-3.5 6.3h0m-3.3 6.3h0m-3.4 5.9h0m-3.3 5.3h0m-3.2 5.1h0m-3.2 4.9h0m-3.2 4.8h0m-3.1 4.5h0m-3.1 4.4h0m-3 4.1h0m-3 4h0m-3 3.6h0m-2.9 3.4h0m-2.9 3.4h0m-2.8 3.1h0m-2.8 3.1h0m-2.8 2.9h0m-2.7 2.8h0m-2.7 2.6h0m-2.7 2.5h0m-2.6 2.3h0m-2.6 2.2h0m-2.6 2h0m-2.5 2.1h0m-2.5 1.9h0m-2.5 2h0m-2.4 1.8h0m-2.5 1.9h0m-2.3 1.7h0m-2.4 1.8h0m-2.3 1.7h0m-2.3 1.6h0m-2.3 1.6h0m-2.2 1.5h0m-2.3 1.5h0m-2.1 1.5h0m-2.2 1.4h0m-2.2 1.3h0m-2.1 1.3h0m-2.1 1.3h0m-2 1.2h0m-2.1 1.2h0m-2 1.1h0m-2 1.1h0m-2 1.1h0m-1.9 1.1h0m-2 1h0m-1.9 1h0m-1.9 1h0m-1.9 .9h0m-1.8 1h0m-1.8 .9h0m-1.9 1h0m-1.8 .9h0m-1.7 .8h0m-1.8 .9h0m-1.7 .9h0m-1.7 .8h0m-1.8 .8h0m-1.6 .8h0m-1.7 .8h0m-1.7 .7h0m-1.6 .8h0m-1.6 .8h0m-1.6 .7h0m-1.6 .7h0m-1.6 .7h0m-1.5 .7h0m-1.6 .7h0m-1.5 .7h0m-1.5 .6h0m-1.5 .6h0m-1.5 .6h0m-1.4 .6h0m-1.5 .6h0m-1.4 .6h0m-1.4 .5h0m-1.5 .5h0m-1.4 .6h0m-1.3 .5h0m-1.4 .5h0m-1.4 .4h0m-1.3 .5h0m-1.4 .5h0m-1.3 .5h0m-1.3 .4h0m-1.3 .5h0m-1.3 .4h0m-1.3 .4h0m-1.2 .5h0m-1.3 .4h0m-1.2 .4h0m-1.2 .4h0m-1.3 .4h0m-1.2 .4h0m-1.2 .4h0m-1.2 .4h0m-1.1 .4h0m-1.2 .4h0m-1.2 .4h0m-1.1 .3h0m-1.2 .4h0m-1.1 .4h0m-1.1 .3h0m-1.1 .4h0m-1.1 .3h0m-1.1 .4h0m-1.1 .3h0m-1.1 .4h0m-1 .3h0m-1.1 .3h0m-1 .4h0m-1.1 .3h0m-1 .3h0m-1 .3h0m-1.1 .3h0m-1 .3h0m-1 .3h0m-1 .3h0m-.9 .3h0m-1 .3h0m-1 .3h0m-.9 .3h0m-1 .2h0m-.9 .3h0m-1 .3h0m-.9 .2h0m-.9 .3h0m-1 .3h0m-.9 .2h0m-.9 .3h0m-.9 .2h0m-.9 .2h0m-.8 .3h0m-.9 .2h0m-.9 .3h0m-.9 .2h0m-.8 .2h0m-.9 .3h0m-.8 .2h0m-.8 .2h0m-.9 .2h0m-.8 .3h0m-.8 .2h0m-.8 .2h0m-.9 .2h0m-.8 .2h0m-.8 .2h0m-.7 .2h0m-.8 .3h0m-.8 .2h0m-.8 .2h0m-.8 .1h0m-.7 .2h0m-.8 .2h0m-.7 .2h0m-.8 .2h0m-.7 .2h0m-.8 .2h0m-.7 .1h0m-.7 .2h0m-.8 .2h0m-.7 .1h0m-.7 .2h0m-.7 .2h0m-.7 .1h0m-.7 .2h0m-.7 .1h0m-.7 .2h0m-.7 .1h0m-.7 .1h0m-.7 .2h0m-.6 .1h0m-.7 .1h0m-.7 .1h0m-.6 .2h0m-.7 .1h0m-.6 .1h0m-.7 .1h0m-.6 .1h0m-.7 .1h0m-.6 .1h0m-.6 .1h0m-.7 .1h0m323.5-215.3h0m-.7 1.6h0m-1.9 1.7h0m-2.7 1.8h0m-3.2 1.9h0m-3.4 2h0m-3.6 2.2h0m-3.7 2.4h0m-3.7 2.7h0m-3.7 3.1h0m-3.6 3.8h0m-3.7 4.1h0m-3.6 4.7h0m-3.6 5.6h0m-3.5 6.3h0m-3.5 6.4h0m-3.5 6.2h0m-3.4 6.3h0m-3.4 6.1h0m-3.3 5.7h0m-3.3 5.2h0m-3.3 4.9h0m-3.2 4.8h0m-3.1 4.5h0m-3.2 4.4h0m-3 4.2h0m-3.1 4h0m-3 3.8h0m-2.9 3.6h0m-2.9 3.3h0m-2.9 3.3h0m-2.9 3.2h0m-2.8 3.1h0m-2.8 2.9h0m-2.7 2.7h0m-2.7 2.7h0m-2.7 2.4h0m-2.6 2.4h0m-2.6 2.1h0m-2.6 2.1h0m-2.5 2.1h0m-2.5 1.9h0m-2.5 2h0m-2.4 1.8h0m-2.4 1.9h0m-2.4 1.8h0m-2.4 1.7h0m-2.3 1.7h0m-2.3 1.6h0m-2.3 1.6h0m-2.2 1.5h0m-2.2 1.5h0m-2.2 1.4h0m-2.2 1.3h0m-2.1 1.3h0m-2.2 1.2h0m-2 1.2h0m-2.1 1.1h0m-2.1 1.1h0m-2 1.1h0m-2 1h0m-2 1h0m-1.9 1h0m-2 .9h0m-1.9 1h0m-1.9 .9h0m-1.8 .9h0m-1.9 .9h0m-1.8 .8h0m-1.8 .9h0m-1.8 .8h0m-1.8 .8h0m-1.8 .8h0m-1.7 .8h0m-1.7 .8h0m-1.7 .7h0m-1.7 .8h0m-1.7 .7h0m-1.6 .7h0m-1.7 .7h0m-1.6 .7h0m-1.6 .6h0m-1.6 .7h0m-1.6 .7h0m-1.5 .6h0m-1.6 .6h0m-1.5 .6h0m-1.5 .6h0m-1.5 .6h0m-1.5 .5h0m-1.4 .5h0m-1.5 .5h0m-1.4 .5h0m-1.5 .5h0m-1.4 .4h0m-1.4 .5h0m-1.4 .4h0m-1.3 .4h0m-1.4 .4h0m-1.3 .4h0m-1.4 .4h0m-1.3 .3h0m-1.3 .4h0m-1.3 .4h0m-1.3 .3h0m-1.3 .4h0m-1.2 .3h0m-1.3 .3h0m-1.2 .4h0m-1.3 .3h0m-1.2 .3h0m-1.2 .3h0m-1.2 .3h0m-1.2 .3h0m-1.2 .3h0m-1.1 .3h0m-1.2 .3h0m-1.2 .3h0m-1.1 .3h0m-1.1 .3h0m-1.1 .3h0m-1.2 .2h0m-1.1 .3h0m-1.1 .3h0m-1 .3h0m-1.1 .2h0m-1.1 .3h0m-1 .2h0m-1.1 .3h0m-1 .3h0m-1.1 .2h0m-1 .2h0m-1 .3h0m-1 .2h0m-1 .3h0m-1 .2h0m-1 .2h0m-1 .2h0m-.9 .2h0m-1 .3h0m-1 .2h0m-.9 .2h0m-.9 .2h0m-1 .2h0m-.9 .2h0m-.9 .2h0m-.9 .2h0m-.9 .1h0m-.9 .2h0m-.9 .2h0m-.9 .2h0m-.9 .2h0m-.9 .2h0m-.8 .1h0m-.9 .2h0m-.8 .2h0m-.9 .1h0m-.8 .2h0m-.9 .2h0m-.8 .1h0m-.8 .2h0m-.8 .1h0m-.8 .2h0m-.8 .2h0m-.8 .1h0m-.8 .1h0m-.8 .2h0m-.8 .1h0m-.8 .2h0m-.8 .1h0m-.7 .1h0m-.8 .2h0m-.7 .1h0m-.8 .1h0m-.7 .1h0m-.8 .1h0m-.7 .2h0m-.7 .1h0m-.8 .1h0m-.7 .1h0m-.7 .1h0m-.7 .1h0m-.7 .1h0m-.7 .1h0m-.7 .1h0m-.7 .1h0m-.7 0h0m-.7 .1h0m-.7 .1h0m-.6 .1h0m-.7 0h0m-.7 .1h0m-.6 .1h0m-.7 0h0m-.7 .1h0m-.6 .1h0m-.7 0h0m-.6 .1h0m-.6 0h0m-.7 .1h0m-.6 0h0m323.6-210h0m-.7 2.3h0m-1.9 2.3h0m-2.7 2.5h0m-3.2 2.4h0m-3.4 2.6h0m-3.6 2.8h0m-3.7 3h0m-3.7 3.2h0m-3.7 3.6h0m-3.6 4.2h0m-3.7 4.5h0m-3.6 4.9h0m-3.6 5.9h0m-3.5 6.4h0m-3.5 6.4h0m-3.5 6.2h0m-3.4 6.2h0m-3.4 6h0m-3.3 5.6h0m-3.3 4.9h0m-3.3 4.7h0m-3.2 4.6h0m-3.1 4.3h0m-3.2 4.1h0m-3 4h0m-3.1 3.8h0m-3 3.6h0m-2.9 3.5h0m-2.9 3.3h0m-2.9 3.2h0m-2.9 3.1h0m-2.8 3h0m-2.8 2.9h0m-2.7 2.7h0m-2.7 2.6h0m-2.7 2.4h0m-2.6 2.2h0m-2.6 2.2h0m-2.6 2h0m-2.5 2h0m-2.5 1.9h0m-2.5 1.8h0m-2.4 1.9h0m-2.4 1.7h0m-2.4 1.7h0m-2.4 1.7h0m-2.3 1.6h0m-2.3 1.5h0m-2.3 1.5h0m-2.2 1.4h0m-2.2 1.4h0m-2.2 1.3h0m-2.2 1.3h0m-2.1 1.1h0m-2.2 1.1h0m-2.1 1.1h0m-2 1h0m-2.1 1h0m-2 .9h0m-2 1h0m-2 .9h0m-1.9 .8h0m-2 .9h0m-1.9 .8h0m-1.9 .9h0m-1.9 .8h0m-1.8 .8h0m-1.8 .8h0m-1.9 .7h0m-1.8 .8h0m-1.7 .7h0m-1.8 .8h0m-1.7 .7h0m-1.8 .6h0m-1.7 .7h0m-1.6 .7h0m-1.7 .6h0m-1.7 .6h0m-1.6 .7h0m-1.6 .6h0m-1.6 .6h0m-1.6 .6h0m-1.6 .6h0m-1.5 .6h0m-1.6 .5h0m-1.5 .6h0m-1.5 .5h0m-1.5 .5h0m-1.5 .5h0m-1.5 .5h0m-1.4 .4h0m-1.5 .4h0m-1.4 .4h0m-1.4 .4h0m-1.4 .3h0m-1.4 .4h0m-1.4 .3h0m-1.3 .4h0m-1.4 .3h0m-1.3 .3h0m-1.3 .3h0m-1.4 .3h0m-1.3 .3h0m-1.2 .3h0m-1.3 .3h0m-1.3 .2h0m-1.2 .3h0m-1.3 .3h0m-1.2 .2h0m-1.2 .3h0m-1.3 .2h0m-1.2 .3h0m-1.1 .2h0m-1.2 .3h0m-1.2 .2h0m-1.2 .2h0m-1.1 .3h0m-1.2 .2h0m-1.1 .2h0m-1.1 .3h0m-1.1 .2h0m-1.1 .2h0m-1.1 .3h0m-1.1 .2h0m-1.1 .2h0m-1 .2h0m-1.1 .2h0m-1.1 .2h0m-1 .3h0m-1 .2h0m-1.1 .2h0m-1 .2h0m-1 .2h0m-1 .1h0m-1 .2h0m-1 .2h0m-.9 .2h0m-1 .2h0m-1 .2h0m-.9 .1h0m-1 .2h0m-.9 .2h0m-1 .1h0m-.9 .2h0m-.9 .2h0m-.9 .1h0m-.9 .2h0m-.9 .1h0m-.9 .2h0m-.9 .1h0m-.9 .2h0m-.9 .1h0m-.8 .2h0m-.9 .1h0m-.8 .1h0m-.9 .2h0m-.8 .1h0m-.9 .1h0m-.8 .2h0m-.8 .1h0m-.8 .1h0m-.8 .1h0m-.9 .2h0m-.8 .1h0m-.8 .1h0m-.7 .1h0m-.8 .1h0m-.8 .1h0m-.8 .1h0m-.7 .1h0m-.8 .1h0m-.8 .1h0m-.7 .1h0m-.8 .1h0m-.7 .1h0m-.7 .1h0m-.8 .1h0m-.7 .1h0m-.7 .1h0m-.7 0h0m-.8 .1h0m-.7 .1h0m-.7 0h0m-.7 .1h0m-.7 .1h0m-.6 0h0m-.7 .1h0m-.7 0h0m-.7 .1h0m-.7 0h0m-.6 .1h0m-.7 0h0m-.7 .1h0m-.6 0h0m-.7 .1h0m-.6 0h0m-.6 0h0m-.7 .1h0m-.6 0h0m-.7 0h0m323.7-205.1h0m-.7 2.9h0m-1.9 3h0m-2.7 3h0m-3.1 3.1h0m-3.5 3.2h0m-3.6 3.5h0m-3.6 3.6h0m-3.7 3.7h0m-3.7 4.1h0m-3.7 4.4h0m-3.6 4.6h0m-3.6 5.1h0m-3.6 5.8h0m-3.6 6.3h0m-3.5 6.2h0m-3.4 6.1h0m-3.5 6h0m-3.3 5.7h0m-3.4 5.2h0m-3.3 4.6h0m-3.2 4.4h0m-3.2 4.1h0m-3.2 4h0m-3.1 3.8h0m-3.1 3.6h0m-3 3.5h0m-3 3.3h0m-3 3.2h0m-2.9 3h0m-2.9 3h0m-2.8 3h0m-2.8 2.8h0m-2.8 2.7h0m-2.7 2.5h0m-2.7 2.4h0m-2.7 2.2h0m-2.6 2.1h0m-2.6 2h0m-2.6 1.9h0m-2.5 1.9h0m-2.5 1.7h0m-2.5 1.8h0m-2.4 1.7h0m-2.5 1.6h0m-2.3 1.6h0m-2.4 1.6h0m-2.3 1.5h0m-2.3 1.4h0m-2.3 1.4h0m-2.2 1.4h0m-2.3 1.3h0m-2.2 1.3h0m-2.1 1.1h0m-2.2 1.1h0m-2.1 1h0m-2.1 1h0m-2.1 .9h0m-2 1h0m-2 .8h0m-2 .9h0m-2 .8h0m-2 .9h0m-1.9 .8h0m-1.9 .8h0m-1.9 .7h0m-1.9 .8h0m-1.9 .8h0m-1.8 .7h0m-1.8 .7h0m-1.8 .8h0m-1.8 .7h0m-1.7 .6h0m-1.8 .7h0m-1.7 .7h0m-1.7 .6h0m-1.7 .6h0m-1.7 .6h0m-1.6 .6h0m-1.6 .6h0m-1.7 .6h0m-1.6 .6h0m-1.6 .6h0m-1.5 .6h0m-1.6 .5h0m-1.5 .6h0m-1.6 .5h0m-1.5 .5h0m-1.5 .5h0m-1.5 .4h0m-1.4 .5h0m-1.5 .4h0m-1.4 .4h0m-1.4 .4h0m-1.5 .3h0m-1.4 .4h0m-1.3 .3h0m-1.4 .3h0m-1.4 .3h0m-1.3 .3h0m-1.4 .3h0m-1.3 .3h0m-1.3 .3h0m-1.3 .3h0m-1.3 .2h0m-1.3 .3h0m-1.3 .3h0m-1.2 .2h0m-1.3 .3h0m-1.2 .2h0m-1.2 .3h0m-1.2 .2h0m-1.2 .2h0m-1.2 .3h0m-1.2 .2h0m-1.2 .2h0m-1.1 .2h0m-1.2 .3h0m-1.1 .2h0m-1.2 .2h0m-1.1 .2h0m-1.1 .2h0m-1.1 .3h0m-1.1 .2h0m-1.1 .2h0m-1.1 .2h0m-1 .2h0m-1.1 .2h0m-1 .2h0m-1.1 .2h0m-1 .2h0m-1.1 .2h0m-1 .2h0m-1 .2h0m-1 .2h0m-1 .1h0m-1 .2h0m-.9 .2h0m-1 .2h0m-1 .1h0m-.9 .2h0m-1 .2h0m-.9 .1h0m-1 .2h0m-.9 .1h0m-.9 .2h0m-.9 .1h0m-.9 .2h0m-.9 .1h0m-.9 .2h0m-.9 .1h0m-.9 .2h0m-.9 .1h0m-.8 .1h0m-.9 .2h0m-.9 .1h0m-.8 .1h0m-.9 .2h0m-.8 .1h0m-.8 .1h0m-.8 .1h0m-.9 .1h0m-.8 .2h0m-.8 .1h0m-.8 .1h0m-.8 .1h0m-.8 .1h0m-.8 .1h0m-.7 .1h0m-.8 .1h0m-.8 .1h0m-.7 .1h0m-.8 .1h0m-.8 .1h0m-.7 .1h0m-.7 0h0m-.8 .1h0m-.7 .1h0m-.7 .1h0m-.8 .1h0m-.7 0h0m-.7 .1h0m-.7 .1h0m-.7 0h0m-.7 .1h0m-.7 0h0m-.7 .1h0m-.7 0h0m-.7 .1h0m-.7 0h0m-.6 .1h0m-.7 0h0m-.7 .1h0m-.6 0h0m-.7 0h0m-.6 .1h0m-.7 0h0m-.6 0h0m-.7 0h0m-.6 .1h0m-.6 0h0m323.7-200.3h0m-.7 3.5h0m-1.9 3.6h0m-2.7 3.7h0m-3.1 3.7h0m-3.5 3.8h0m-3.6 3.8h0m-3.6 3.9h0m-3.7 3.9h0m-3.7 4.3h0m-3.7 4.4h0m-3.6 4.6h0m-3.6 4.9h0m-3.6 5.4h0m-3.6 5.7h0m-3.5 5.7h0m-3.4 5.5h0m-3.4 5.5h0m-3.4 5.2h0m-3.3 4.7h0m-3.3 4.2h0m-3.3 4h0m-3.2 3.9h0m-3.1 3.6h0m-3.2 3.5h0m-3 3.4h0m-3.1 3.2h0m-3 3.1h0m-2.9 3h0m-2.9 3h0m-2.9 2.8h0m-2.9 2.8h0m-2.8 2.7h0m-2.7 2.6h0m-2.8 2.5h0m-2.7 2.3h0m-2.7 2.1h0m-2.6 2.1h0m-2.6 2h0m-2.6 1.8h0m-2.5 1.8h0m-2.5 1.8h0m-2.5 1.7h0m-2.4 1.7h0m-2.4 1.6h0m-2.4 1.6h0m-2.4 1.6h0m-2.3 1.5h0m-2.3 1.4h0m-2.3 1.4h0m-2.2 1.4h0m-2.2 1.3h0m-2.2 1.2h0m-2.2 1.2h0m-2.1 1h0m-2.2 1.1h0m-2.1 1h0m-2 .9h0m-2.1 .9h0m-2 .9h0m-2 .9h0m-2 .8h0m-1.9 .8h0m-2 .8h0m-1.9 .8h0m-1.9 .8h0m-1.9 .7h0m-1.8 .8h0m-1.9 .7h0m-1.8 .7h0m-1.8 .8h0m-1.7 .6h0m-1.8 .7h0m-1.7 .7h0m-1.8 .6h0m-1.7 .7h0m-1.7 .6h0m-1.6 .6h0m-1.7 .6h0m-1.6 .6h0m-1.6 .6h0m-1.6 .5h0m-1.6 .6h0m-1.6 .6h0m-1.6 .5h0m-1.5 .6h0m-1.5 .5h0m-1.6 .5h0m-1.4 .5h0m-1.5 .4h0m-1.5 .4h0m-1.5 .4h0m-1.4 .4h0m-1.4 .4h0m-1.4 .3h0m-1.4 .4h0m-1.4 .3h0m-1.4 .3h0m-1.4 .3h0m-1.3 .3h0m-1.4 .3h0m-1.3 .3h0m-1.3 .2h0m-1.3 .3h0m-1.3 .3h0m-1.3 .2h0m-1.2 .3h0m-1.3 .2h0m-1.2 .2h0m-1.3 .3h0m-1.2 .2h0m-1.2 .2h0m-1.2 .2h0m-1.2 .3h0m-1.2 .2h0m-1.2 .2h0m-1.1 .2h0m-1.2 .2h0m-1.1 .2h0m-1.2 .3h0m-1.1 .2h0m-1.1 .2h0m-1.1 .2h0m-1.1 .2h0m-1.1 .2h0m-1.1 .2h0m-1 .2h0m-1.1 .2h0m-1.1 .2h0m-1 .2h0m-1 .2h0m-1.1 .2h0m-1 .1h0m-1 .2h0m-1 .2h0m-1 .2h0m-1 .1h0m-1 .2h0m-.9 .2h0m-1 .1h0m-1 .2h0m-.9 .2h0m-1 .1h0m-.9 .2h0m-.9 .1h0m-.9 .2h0m-1 .1h0m-.9 .1h0m-.9 .2h0m-.9 .1h0m-.9 .1h0m-.8 .2h0m-.9 .1h0m-.9 .1h0m-.8 .2h0m-.9 .1h0m-.8 .1h0m-.9 .1h0m-.8 .2h0m-.9 .1h0m-.8 .1h0m-.8 .1h0m-.8 .1h0m-.8 .1h0m-.8 .1h0m-.8 .1h0m-.8 .1h0m-.8 .1h0m-.8 .1h0m-.8 .1h0m-.7 .1h0m-.8 .1h0m-.8 .1h0m-.7 .1h0m-.8 .1h0m-.7 0h0m-.8 .1h0m-.7 .1h0m-.7 0h0m-.7 .1h0m-.8 .1h0m-.7 0h0m-.7 .1h0m-.7 .1h0m-.7 0h0m-.7 .1h0m-.7 0h0m-.7 .1h0m-.7 0h0m-.6 0h0m-.7 .1h0m-.7 0h0m-.6 .1h0m-.7 0h0m-.7 0h0m-.6 0h0m-.7 .1h0m-.6 0h0m-.7 0h0m-.6 0h0m-.6 0h0m323.8-195.6h0m-.7 4.2h0m-1.9 4.3h0m-2.7 4.2h0m-3.2 3.9h0m-3.4 4.1h0m-3.6 4h0m-3.6 4h0m-3.7 3.7h0m-3.7 3.7h0m-3.7 3.8h0m-3.6 4.1h0m-3.6 4.4h0m-3.6 5h0m-3.6 5.2h0m-3.5 5.3h0m-3.4 5.1h0m-3.4 5.1h0m-3.4 4.9h0m-3.4 4.4h0m-3.2 4h0m-3.3 3.9h0m-3.2 3.6h0m-3.1 3.6h0m-3.2 3.5h0m-3 3.3h0m-3.1 3.2h0m-3 3.1h0m-2.9 3h0m-2.9 2.9h0m-2.9 2.9h0m-2.9 2.8h0m-2.8 2.7h0m-2.7 2.6h0m-2.8 2.5h0m-2.7 2.3h0m-2.7 2.2h0m-2.6 2.1h0m-2.6 1.9h0m-2.6 1.9h0m-2.5 1.8h0m-2.5 1.8h0m-2.5 1.7h0m-2.4 1.6h0m-2.4 1.7h0m-2.4 1.6h0m-2.4 1.5h0m-2.3 1.5h0m-2.3 1.4h0m-2.3 1.4h0m-2.2 1.4h0m-2.2 1.3h0m-2.2 1.2h0m-2.2 1.1h0m-2.1 1.1h0m-2.2 1h0m-2 .9h0m-2.1 1h0m-2.1 .9h0m-2 .8h0m-2 .9h0m-2 .8h0m-1.9 .8h0m-2 .8h0m-1.9 .8h0m-1.9 .7h0m-1.9 .8h0m-1.8 .7h0m-1.8 .7h0m-1.9 .8h0m-1.8 .7h0m-1.7 .6h0m-1.8 .7h0m-1.7 .7h0m-1.8 .6h0m-1.7 .6h0m-1.7 .6h0m-1.6 .6h0m-1.7 .6h0m-1.6 .6h0m-1.6 .6h0m-1.6 .6h0m-1.6 .5h0m-1.6 .6h0m-1.6 .5h0m-1.5 .6h0m-1.5 .5h0m-1.6 .5h0m-1.5 .4h0m-1.4 .5h0m-1.5 .4h0m-1.5 .4h0m-1.4 .4h0m-1.4 .3h0m-1.4 .4h0m-1.5 .3h0m-1.3 .3h0m-1.4 .3h0m-1.4 .3h0m-1.3 .3h0m-1.4 .3h0m-1.3 .2h0m-1.3 .3h0m-1.3 .2h0m-1.3 .3h0m-1.3 .2h0m-1.3 .3h0m-1.2 .2h0m-1.3 .2h0m-1.2 .3h0m-1.2 .2h0m-1.2 .2h0m-1.2 .2h0m-1.2 .2h0m-1.2 .3h0m-1.2 .2h0m-1.2 .2h0m-1.1 .2h0m-1.2 .2h0m-1.1 .2h0m-1.1 .2h0m-1.1 .2h0m-1.1 .2h0m-1.1 .2h0m-1.1 .2h0m-1.1 .2h0m-1.1 .2h0m-1 .2h0m-1.1 .2h0m-1 .2h0m-1.1 .1h0m-1 .2h0m-1 .2h0m-1 .2h0m-1 .1h0m-1 .2h0m-1 .2h0m-1 .1h0m-1 .2h0m-.9 .1h0m-1 .2h0m-1 .2h0m-.9 .1h0m-.9 .1h0m-1 .2h0m-.9 .1h0m-.9 .2h0m-.9 .1h0m-.9 .1h0m-.9 .2h0m-.9 .1h0m-.9 .1h0m-.9 .2h0m-.8 .1h0m-.9 .1h0m-.9 .1h0m-.8 .2h0m-.9 .1h0m-.8 .1h0m-.8 .1h0m-.9 .1h0m-.8 .1h0m-.8 .1h0m-.8 .1h0m-.8 .1h0m-.8 .1h0m-.8 .1h0m-.8 .1h0m-.8 .1h0m-.7 .1h0m-.8 .1h0m-.8 .1h0m-.7 .1h0m-.8 0h0m-.7 .1h0m-.8 .1h0m-.7 .1h0m-.8 0h0m-.7 .1h0m-.7 .1h0m-.7 0h0m-.8 .1h0m-.7 0h0m-.7 .1h0m-.7 0h0m-.7 .1h0m-.7 0h0m-.7 .1h0m-.6 0h0m-.7 .1h0m-.7 0h0m-.7 0h0m-.6 .1h0m-.7 0h0m-.7 0h0m-.6 0h0m-.7 .1h0m-.6 0h0m-.7 0h0m-.6 0h0m-.6 0h0m323.8-191.2h0m-.7 4.7h0m-1.9 4.6h0m-2.7 4.3h0m-3.1 4.3h0m-3.5 3.9h0m-3.6 3.5h0m-3.6 3.3h0m-3.7 3.2h0m-3.7 3.3h0m-3.6 3.4h0m-3.7 3.6h0m-3.6 4h0m-3.6 4.6h0m-3.5 5h0m-3.5 5.1h0m-3.5 5.1h0m-3.4 5h0m-3.4 4.9h0m-3.3 4.4h0m-3.3 4.1h0m-3.2 3.8h0m-3.2 3.7h0m-3.2 3.6h0m-3.1 3.4h0m-3.1 3.3h0m-3 3.2h0m-3 3.1h0m-3 2.9h0m-2.9 2.9h0m-2.9 2.9h0m-2.8 2.8h0m-2.8 2.7h0m-2.8 2.6h0m-2.7 2.4h0m-2.7 2.3h0m-2.7 2.2h0m-2.6 2h0m-2.6 2h0m-2.6 1.8h0m-2.5 1.8h0m-2.5 1.8h0m-2.5 1.7h0m-2.4 1.6h0m-2.4 1.7h0m-2.4 1.5h0m-2.4 1.6h0m-2.3 1.5h0m-2.3 1.4h0m-2.3 1.4h0m-2.2 1.3h0m-2.2 1.3h0m-2.2 1.2h0m-2.2 1.1h0m-2.2 1.1h0m-2.1 .9h0m-2.1 1h0m-2 .9h0m-2.1 .9h0m-2 .9h0m-2 .8h0m-2 .8h0m-2 .8h0m-1.9 .8h0m-1.9 .7h0m-1.9 .8h0m-1.9 .7h0m-1.8 .7h0m-1.9 .8h0m-1.8 .7h0m-1.8 .7h0m-1.8 .6h0m-1.7 .7h0m-1.8 .6h0m-1.7 .7h0m-1.7 .6h0m-1.7 .6h0m-1.7 .6h0m-1.6 .5h0m-1.6 .6h0m-1.7 .6h0m-1.6 .6h0m-1.6 .5h0m-1.5 .6h0m-1.6 .5h0m-1.5 .5h0m-1.6 .5h0m-1.5 .5h0m-1.5 .5h0m-1.5 .4h0m-1.4 .4h0m-1.5 .4h0m-1.4 .4h0m-1.5 .3h0m-1.4 .4h0m-1.4 .3h0m-1.4 .3h0m-1.4 .3h0m-1.3 .3h0m-1.4 .3h0m-1.3 .2h0m-1.3 .3h0m-1.4 .3h0m-1.3 .2h0m-1.2 .2h0m-1.3 .3h0m-1.3 .2h0m-1.3 .2h0m-1.2 .3h0m-1.2 .2h0m-1.3 .2h0m-1.2 .2h0m-1.2 .2h0m-1.2 .2h0m-1.2 .2h0m-1.1 .3h0m-1.2 .2h0m-1.2 .2h0m-1.1 .2h0m-1.1 .2h0m-1.2 .2h0m-1.1 .2h0m-1.1 .2h0m-1.1 .2h0m-1.1 .2h0m-1.1 .2h0m-1 .1h0m-1.1 .2h0m-1 .2h0m-1.1 .2h0m-1 .2h0m-1.1 .1h0m-1 .2h0m-1 .2h0m-1 .2h0m-1 .1h0m-1 .2h0m-1 .1h0m-.9 .2h0m-1 .2h0m-1 .1h0m-.9 .2h0m-1 .1h0m-.9 .2h0m-.9 .1h0m-1 .1h0m-.9 .2h0m-.9 .1h0m-.9 .1h0m-.9 .2h0m-.9 .1h0m-.9 .1h0m-.8 .2h0m-.9 .1h0m-.9 .1h0m-.8 .1h0m-.9 .1h0m-.8 .2h0m-.9 .1h0m-.8 .1h0m-.8 .1h0m-.9 .1h0m-.8 .1h0m-.8 .1h0m-.8 .1h0m-.8 .1h0m-.8 .1h0m-.8 .1h0m-.8 .1h0m-.7 .1h0m-.8 0h0m-.8 .1h0m-.7 .1h0m-.8 .1h0m-.7 .1h0m-.8 0h0m-.7 .1h0m-.8 .1h0m-.7 0h0m-.7 .1h0m-.8 .1h0m-.7 0h0m-.7 .1h0m-.7 0h0m-.7 .1h0m-.7 0h0m-.7 .1h0m-.7 0h0m-.7 0h0m-.6 .1h0m-.7 0h0m-.7 0h0m-.7 .1h0m-.6 0h0m-.7 0h0m-.6 .1h0m-.7 0h0m-.6 0h0m-.7 0h0m-.6 0h0m-.7 0h0m323.9-187.4h0m-.7 4.9h0m-1.9 4.8h0m-2.7 4.4h0m-3.2 3.6h0m-3.4 3.3h0m-3.6 3h0m-3.6 2.9h0m-3.7 2.7h0m-3.7 2.9h0m-3.6 3.1h0m-3.7 3.4h0m-3.6 4h0m-3.6 4.6h0m-3.5 5.1h0m-3.5 5.2h0m-3.5 5.1h0m-3.4 5.1h0m-3.4 4.8h0m-3.3 4.4h0m-3.3 4h0m-3.2 3.8h0m-3.2 3.6h0m-3.2 3.5h0m-3.1 3.4h0m-3.1 3.3h0m-3 3.1h0m-3 3.1h0m-2.9 2.9h0m-3 2.9h0m-2.8 2.8h0m-2.9 2.8h0m-2.8 2.7h0m-2.8 2.5h0m-2.7 2.5h0m-2.7 2.3h0m-2.6 2.1h0m-2.7 2.1h0m-2.6 1.9h0m-2.5 1.8h0m-2.6 1.8h0m-2.5 1.7h0m-2.5 1.7h0m-2.4 1.7h0m-2.4 1.6h0m-2.4 1.6h0m-2.3 1.5h0m-2.4 1.4h0m-2.3 1.4h0m-2.2 1.4h0m-2.3 1.3h0m-2.2 1.3h0m-2.2 1.2h0m-2.2 1.1h0m-2.1 1h0m-2.1 1h0m-2.1 1h0m-2.1 .9h0m-2 .8h0m-2.1 .9h0m-2 .8h0m-1.9 .8h0m-2 .8h0m-1.9 .7h0m-2 .8h0m-1.9 .7h0m-1.8 .8h0m-1.9 .7h0m-1.8 .7h0m-1.8 .7h0m-1.8 .7h0m-1.8 .7h0m-1.8 .6h0m-1.7 .7h0m-1.7 .6h0m-1.7 .6h0m-1.7 .6h0m-1.7 .6h0m-12.8 4.4h0m-1.5 .5h0m-1.5 .5h0m-1.5 .5h0m-1.5 .4h0m-1.5 .4h0m-1.4 .4h0m-1.5 .4h0m-1.4 .3h0m-1.4 .4h0m-1.4 .3h0m-1.4 .3h0m-1.4 .3h0m-1.4 .3h0m-1.3 .3h0m-1.4 .2h0m-1.3 .3h0m-1.3 .2h0m-1.3 .3h0m-1.3 .2h0m-1.3 .3h0m-1.3 .2h0m-1.2 .2h0m-1.3 .2h0m-1.2 .3h0m-1.2 .2h0m-1.2 .2h0m-1.3 .2h0m-1.1 .2h0m-1.2 .2h0m-1.2 .2h0m-1.2 .2h0m-1.1 .2h0m-1.2 .2h0m-1.1 .2h0m-1.1 .2h0m-1.2 .2h0m-1.1 .2h0m-1.1 .2h0m-1 .2h0m-1.1 .2h0m-1.1 .2h0m-1.1 .2h0m-1 .1h0m-1.1 .2h0m-1 .2h0m-1 .2h0m-1.1 .1h0m-1 .2h0m-1 .2h0m-1 .1h0m-1 .2h0m-1 .2h0m-.9 .1h0m-1 .2h0m-1 .1h0m-.9 .2h0m-1 .1h0m-.9 .2h0m-.9 .1h0m-1 .1h0m-.9 .2h0m-.9 .1h0m-.9 .1h0m-.9 .2h0m-.9 .1h0m-.9 .1h0m-.8 .1h0m-.9 .2h0m-.9 .1h0m-.8 .1h0m-.9 .1h0m-.8 .1h0m-.9 .1h0m-.8 .2h0m-.8 .1h0m-.9 .1h0m-.8 .1h0m-.8 .1h0m-.8 .1h0m-.8 .1h0m-.8 .1h0m-.8 0h0m-.8 .1h0m-.7 .1h0m-.8 .1h0m-.8 .1h0m-.8 .1h0m-.7 0h0m-.8 .1h0m-.7 .1h0m-.8 0h0m-.7 .1h0m-.7 .1h0m-.8 0h0m-.7 .1h0m-.7 0h0m-.7 .1h0m-.7 0h0m-.7 .1h0m-.7 0h0m-.7 .1h0m-.7 0h0m-.7 0h0m-.7 .1h0m-.7 0h0m-.6 0h0m-.7 .1h0m-.7 0h0m-.6 0h0m-.7 0h0m-.6 .1h0m-.7 0h0m-.6 0h0m-.7 0h0m-.6 0h0m323.8-184.2h0m-.6 5.2h0m-1.9 4.6h0m-2.7 3.6h0m-3.2 3.1h0m-3.4 2.8h0m-3.6 2.4h0m-3.7 2.5h0m-3.6 2.6h0m-3.7 2.8h0m-3.7 3.2h0m-3.6 3.6h0m-3.6 4h0m-3.6 4.7h0m-3.5 5.1h0m-3.5 5.1h0m-3.5 5h0m-3.4 5h0m-3.4 4.8h0m-3.3 4.4h0m-3.3 3.9h0m-3.2 3.8h0m-3.2 3.6h0m-3.2 3.4h0m-3.1 3.4h0m-3.1 3.2h0m-3 3.1h0m-3 3h0m-2.9 3h0m-3 2.8h0m-2.8 2.8h0m-2.9 2.8h0m-2.8 2.6h0m-2.8 2.6h0m-2.7 2.4h0m-2.7 2.3h0m-2.6 2.1h0m-2.7 2h0m-2.6 1.9h0m-2.5 1.8h0m-2.6 1.8h0m-2.5 1.7h0m-2.4 1.7h0m-2.5 1.6h0m-2.4 1.6h0m-2.4 1.6h0m-2.3 1.5h0m-2.4 1.5h0m-2.3 1.4h0m-2.2 1.3h0m-2.3 1.4h0m-2.2 1.2h0m-2.2 1.2h0m-2.1 1.1h0m-2.2 1.1h0m-2.1 .9h0m-2.1 1h0m-2.1 .9h0m-2 .9h0m-2 .8h0m-2 .8h0m-2 .8h0m-2 .8h0m-45.8 16.6h0m-1.5 .4h0m-1.4 .4h0m-1.5 .4h0m-1.4 .3h0m-1.4 .3h0m-1.4 .4h0m-1.4 .3h0m-1.4 .3h0m-1.4 .2h0m-1.3 .3h0m-1.3 .3h0m-1.4 .2h0m-1.3 .3h0m-1.3 .2h0m-1.3 .3h0m-1.3 .2h0m-1.2 .2h0m-1.3 .3h0m-1.3 .2h0m-1.2 .2h0m-1.2 .2h0m-1.2 .2h0m-1.2 .2h0m-1.2 .2h0m-1.2 .2h0m-1.2 .2h0m-1.2 .2h0m-1.1 .2h0m-1.2 .2h0m-1.1 .2h0m-1.1 .2h0m-1.1 .2h0m-1.2 .2h0m-1.1 .2h0m-1 .2h0m-1.1 .2h0m-1.1 .2h0m-1.1 .1h0m-1 .2h0m-1.1 .2h0m-1 .2h0m-1 .1h0m-1.1 .2h0m-1 .2h0m-1 .1h0m-1 .2h0m-1 .2h0m-1 .1h0m-.9 .2h0m-1 .1h0m-1 .2h0m-.9 .1h0m-1 .2h0m-.9 .1h0m-.9 .1h0m-1 .2h0m-.9 .1h0m-.9 .1h0m-.9 .2h0m-.9 .1h0m-.9 .1h0m-.9 .1h0m-.9 .1h0m-.8 .2h0m-.9 .1h0m-.9 .1h0m-.8 .1h0m-.9 .1h0m-.8 .1h0m-.8 .1h0m-.9 .1h0m-.8 .1h0m-.8 .1h0m-.8 .1h0m-.8 .1h0m-.8 .1h0m-.8 .1h0m-.8 .1h0m-.8 .1h0m-.8 .1h0m-.8 0h0m-.7 .1h0m-.8 .1h0m-.7 .1h0m-.8 0h0m-.7 .1h0m-.8 .1h0m-.7 0h0m-.8 .1h0m-.7 0h0m-.7 .1h0m-.7 0h0m-.8 .1h0m-.7 0h0m-.7 .1h0m-.7 0h0m-.7 .1h0m-.7 0h0m-.6 0h0m-.7 .1h0m-.7 0h0m-.7 0h0m-.7 0h0m-.6 .1h0m-.7 0h0m-.6 0h0m-.7 0h0m-.6 0h0m-.7 0h0m-.6 0h0m-.7 0h0m323.8-181.1h0m-.6 5.2h0m-1.9 3.7h0m-2.7 3.1h0m-3.2 2.6h0m-3.4 2.2h0m-3.6 2.3h0m-3.6 2.5h0m-3.7 2.7h0m-3.7 3h0m-3.7 3.3h0m-3.6 3.5h0m-3.6 4h0m-3.6 4.6h0m-3.5 5h0m-3.5 5.1h0m-3.5 5h0m-3.4 4.9h0m-3.3 4.8h0m-3.4 4.3h0m-3.2 3.9h0m-3.3 3.7h0m-3.2 3.6h0m-3.1 3.4h0m-3.1 3.3h0m-3.1 3.2h0m-3 3h0m-3 3h0m-3 2.9h0m-2.9 2.8h0m-2.9 2.8h0m-2.8 2.7h0m-2.8 2.7h0m-2.8 2.5h0m-2.7 2.4h0m-2.7 2.3h0m-2.7 2.1h0m-2.6 2h0m-2.6 2h0m-2.6 1.8h0m-2.5 1.8h0m-2.5 1.7h0m-2.5 1.7h0m-2.4 1.6h0m-2.4 1.7h0m-2.4 1.5h0m-2.3 1.6h0m-2.4 1.4h0m-2.3 1.4h0m-2.2 1.4h0m-2.3 1.3h0m-76.6 29.8h0m-1.4 .3h0m-1.4 .3h0m-1.4 .3h0m-1.4 .3h0m-1.4 .3h0m-1.3 .3h0m-1.4 .2h0m-1.3 .3h0m-1.3 .2h0m-1.3 .3h0m-1.3 .2h0m-1.3 .3h0m-1.2 .2h0m-1.3 .2h0m-1.3 .2h0m-1.2 .2h0m-1.2 .2h0m-1.2 .2h0m-1.2 .2h0m-1.2 .2h0m-1.2 .2h0m-1.2 .2h0m-1.2 .2h0m-1.1 .2h0m-1.2 .2h0m-1.1 .2h0m-1.1 .2h0m-1.2 .2h0m-1.1 .2h0m-1.1 .2h0m-1.1 .2h0m-1 .1h0m-1.1 .2h0m-1.1 .2h0m-1 .2h0m-1.1 .1h0m-1 .2h0m-1.1 .2h0m-1 .1h0m-1 .2h0m-1 .2h0m-1 .1h0m-1 .2h0m-1 .1h0m-1 .2h0m-.9 .1h0m-1 .2h0m-.9 .1h0m-1 .1h0m-.9 .2h0m-1 .1h0m-.9 .1h0m-.9 .2h0m-.9 .1h0m-.9 .1h0m-.9 .1h0m-.9 .1h0m-.9 .2h0m-.9 .1h0m-.9 .1h0m-.8 .1h0m-.9 .1h0m-.8 .1h0m-.9 .1h0m-.8 .1h0m-.9 .1h0m-.8 .1h0m-.8 .1h0m-.8 .1h0m-.9 .1h0m-.8 .1h0m-.8 .1h0m-.8 .1h0m-.8 .1h0m-.7 0h0m-.8 .1h0m-.8 .1h0m-.8 .1h0m-.7 0h0m-.8 .1h0m-.8 0h0m-.7 .1h0m-.7 .1h0m-.8 0h0m-.7 .1h0m-.8 0h0m-.7 .1h0m-.7 0h0m-.7 .1h0m-.7 0h0m-.7 0h0m-.7 .1h0m-.7 0h0m-.7 0h0m-.7 .1h0m-.7 0h0m-.7 0h0m-.7 0h0m-.6 .1h0m-.7 0h0m-.7 0h0m-.6 0h0m-.7 0h0m-.6 0h0m-.7 0h0m-.6 0h0m-.7 0h0m323.8-178.5h0m-.7 4.3h0m-1.9 3.2h0m-2.7 2.5h0m-3.1 2.1h0m-3.5 2.2h0m-3.5 2.4h0m-3.7 2.7h0m-3.6 2.7h0m-3.7 3h0m-3.7 3.2h0m-3.6 3.5h0m-3.6 3.9h0m-3.6 4.6h0m-3.5 5h0m-3.5 5h0m-3.5 5h0m-3.4 4.9h0m-3.3 4.7h0m-3.4 4.2h0m-3.2 3.9h0m-3.3 3.6h0m-3.2 3.5h0m-3.1 3.4h0m-3.1 3.3h0m-3.1 3.1h0m-3 3.1h0m-3 3h0m-3 2.9h0m-2.9 2.8h0m-2.9 2.8h0m-2.8 2.7h0m-2.8 2.7h0m-2.8 2.5h0m-2.7 2.5h0m-2.7 2.3h0m-2.6 2.1h0m-2.7 2h0m-2.6 1.9h0m-2.5 1.9h0m-2.6 1.8h0m-2.4 1.7h0m-2.5 1.7h0m-2.5 1.7h0m-2.4 1.6h0m-93.3 39.3h0m-1.3 .3h0m-1.4 .2h0m-1.4 .3h0m-1.3 .3h0m-1.4 .2h0m-1.3 .3h0m-1.3 .2h0m-1.3 .3h0m-1.3 .2h0m-1.3 .2h0m-1.3 .3h0m-1.2 .2h0m-1.3 .2h0m-1.2 .2h0m-1.3 .2h0m-1.2 .2h0m-1.2 .2h0m-1.2 .2h0m-1.2 .1h0m-1.1 .2h0m-1.2 .2h0m-1.2 .2h0m-1.1 .2h0m-1.1 .2h0m-1.2 .2h0m-1.1 .2h0m-1.1 .1h0m-1.1 .2h0m-1.1 .2h0m-1.1 .2h0m-1.1 .1h0m-1 .2h0m-1.1 .2h0m-1 .2h0m-1.1 .1h0m-1 .2h0m-1 .1h0m-1 .2h0m-1 .1h0m-1 .2h0m-1 .1h0m-1 .2h0m-1 .1h0m-1 .2h0m-.9 .1h0m-1 .1h0m-.9 .2h0m-1 .1h0m-.9 .1h0m-.9 .1h0m-1 .2h0m-.9 .1h0m-.9 .1h0m-.9 .1h0m-.9 .1h0m-.9 .1h0m-.8 .2h0m-.9 .1h0m-.9 .1h0m-.8 .1h0m-.9 .1h0m-.9 .1h0m-.8 .1h0m-.8 .1h0m-.9 .1h0m-.8 0h0m-.8 .1h0m-.8 .1h0m-.8 .1h0m-.8 .1h0m-.8 .1h0m-.8 0h0m-.8 .1h0m-.8 .1h0m-.8 0h0m-.7 .1h0m-.8 .1h0m-.8 0h0m-.7 .1h0m-.8 0h0m-.7 .1h0m-.8 0h0m-.7 .1h0m-.7 0h0m-.8 .1h0m-.7 0h0m-.7 0h0m-.7 .1h0m-.7 0h0m-.7 0h0m-.7 .1h0m-.7 0h0m-.7 0h0m-.7 0h0m-.7 0h0m-.6 .1h0m-.7 0h0m-.7 0h0m-.6 0h0m-.7 0h0m-.7 0h0m-.6 0h0m-.7 0h0m-.6 0h0m-.6 0h0m323.6-176.9h0m-.7 3.6h0m-1.9 2.6h0m-2.7 2h0m-3.1 2.1h0m-3.4 2.3h0m-3.6 2.6h0m-3.6 2.6h0m-3.7 2.7h0m-3.7 3h0m-3.6 3.1h0m-3.7 3.5h0m-3.6 4h0m-3.5 4.5h0m-3.6 4.9h0m-3.5 5h0m-3.4 4.9h0m-3.4 4.8h0m-3.4 4.6h0m-3.3 4.2h0m-3.3 3.8h0m-3.2 3.7h0m-3.2 3.5h0m-3.1 3.4h0m-3.1 3.2h0m-3.1 3.2h0m-3 3.1h0m-3 3h0m-3 2.9h0m-2.9 2.9h0m-2.9 2.8h0m-2.8 2.7h0m-2.8 2.7h0m-2.8 2.6h0m-2.7 2.4h0m-2.7 2.3h0m-2.6 2.2h0m-2.7 2h0m-2.5 1.9h0m-2.6 1.9h0m-108.4 48.6h0m-1.3 .2h0m-1.4 .3h0m-1.3 .3h0m-1.4 .2h0m-1.3 .2h0m-1.3 .3h0m-1.3 .2h0m-1.3 .2h0m-1.2 .2h0m-1.3 .2h0m-1.2 .2h0m-1.3 .2h0m-1.2 .2h0m-1.2 .2h0m-1.2 .2h0m-1.2 .1h0m-1.2 .2h0m-1.2 .2h0m-1.2 .2h0m-1.1 .2h0m-1.2 .1h0m-1.1 .2h0m-1.1 .2h0m-1.1 .2h0m-1.2 .1h0m-1.1 .2h0m-1.1 .2h0m-1 .2h0m-1.1 .1h0m-1.1 .2h0m-1 .1h0m-1.1 .2h0m-1 .1h0m-1.1 .2h0m-1 .1h0m-1 .2h0m-1 .1h0m-1 .2h0m-1 .1h0m-1 .1h0m-1 .2h0m-.9 .1h0m-1 .1h0m-1 .2h0m-.9 .1h0m-.9 .1h0m-1 .1h0m-.9 .1h0m-.9 .2h0m-.9 .1h0m-.9 .1h0m-1 .1h0m-.8 .1h0m-.9 .1h0m-.9 .1h0m-.9 .1h0m-.9 .1h0m-.8 .1h0m-.9 .1h0m-.8 .1h0m-.9 .1h0m-.8 .1h0m-.8 0h0m-.9 .1h0m-.8 .1h0m-.8 .1h0m-.8 .1h0m-.8 0h0m-.8 .1h0m-.8 .1h0m-.8 0h0m-.8 .1h0m-.8 .1h0m-.7 0h0m-.8 .1h0m-.8 0h0m-.7 .1h0m-.8 0h0m-.7 .1h0m-.8 0h0m-.7 .1h0m-.7 0h0m-.8 0h0m-.7 .1h0m-.7 0h0m-.7 0h0m-.7 0h0m-.7 .1h0m-.7 0h0m-.7 0h0m-.7 0h0m-.7 0h0m-.7 .1h0m-.6 0h0m-.7 0h0m-.7 0h0m-.7 0h0m-.6 0h0m-.7 0h0m-.6 0h0m-.7 0h0m-.6 0h0m-.7 0h0m323.6-175.9h0m-.7 3h0m-1.9 2.1h0m-2.7 1.9h0m-3.1 2.3h0m-3.5 2.4h0m-3.5 2.5h0m-3.6 2.6h0m-3.7 2.8h0m-3.7 2.9h0m-3.6 3.1h0m-3.7 3.5h0m-3.6 3.8h0m-3.5 4.5h0m-3.6 4.8h0m-3.4 4.9h0m-3.5 4.9h0m-3.4 4.8h0m-3.3 4.6h0m-3.4 4.3h0m-3.2 3.8h0m-3.3 3.6h0m-3.1 3.6h0m-3.2 3.4h0m-3.1 3.3h0m-3.1 3.2h0m-3 3.1h0m-3 3h0m-2.9 2.9h0m-2.9 2.9h0m-2.9 2.8h0m-2.8 2.8h0m-2.8 2.7h0m-2.8 2.5h0m-2.7 2.5h0m-2.7 2.3h0m-121.5 57.2h0m-1.3 .2h0m-1.3 .2h0m-1.4 .3h0m-1.3 .2h0m-1.3 .2h0m-1.2 .2h0m-1.3 .2h0m-1.3 .2h0m-1.2 .2h0m-1.3 .1h0m-1.2 .2h0m-1.2 .2h0m-1.2 .2h0m-1.2 .1h0m-1.2 .2h0m-1.2 .2h0m-1.1 .1h0m-1.2 .2h0m-1.1 .2h0m-1.2 .2h0m-1.1 .1h0m-1.1 .2h0m-1.1 .2h0m-1.1 .1h0m-1.1 .2h0m-1.1 .1h0m-1.1 .2h0m-1.1 .2h0m-1 .1h0m-1.1 .2h0m-1 .1h0m-1 .1h0m-1.1 .2h0m-1 .1h0m-1 .2h0m-1 .1h0m-1 .1h0m-1 .2h0m-.9 .1h0m-1 .1h0m-1 .1h0m-.9 .2h0m-1 .1h0m-.9 .1h0m-1 .1h0m-.9 .1h0m-.9 .1h0m-.9 .1h0m-.9 .1h0m-.9 .1h0m-.9 .1h0m-.9 .1h0m-.9 .1h0m-.9 .1h0m-.9 .1h0m-.8 .1h0m-.9 .1h0m-.8 .1h0m-.9 .1h0m-.8 0h0m-.8 .1h0m-.9 .1h0m-.8 .1h0m-.8 .1h0m-.8 0h0m-.8 .1h0m-.8 .1h0m-.8 0h0m-.8 .1h0m-.8 0h0m-.8 .1h0m-.7 0h0m-.8 .1h0m-.8 0h0m-.7 .1h0m-.8 0h0m-.7 .1h0m-.8 0h0m-.7 0h0m-.7 .1h0m-.8 0h0m-.7 0h0m-.7 .1h0m-.7 0h0m-.7 0h0m-.7 0h0m-.7 0h0m-.7 .1h0m-.7 0h0m-.7 0h0m-.7 0h0m-.7 0h0m-.6 0h0m-.7 0h0m-.7 0h0m-.6 0h0m-.7 0h0m-.7 0h0m-.6 0h0m-.7 0h0m-.6 0h0m323.4-174.8h0m-.7 2.4h0m-1.8 1.8h0m-2.7 2.2h0m-3.2 2.3h0m-3.4 2.4h0m-3.6 2.5h0m-3.6 2.6h0m-3.7 2.7h0m-3.6 2.9h0m-3.7 3h0m-3.6 3.4h0m-3.6 3.8h0m-3.5 4.4h0m-3.6 4.8h0m-3.5 4.9h0m-3.4 4.9h0m-3.4 4.9h0m-3.3 4.6h0m-3.4 4.3h0m-3.2 3.8h0m-3.3 3.7h0m-3.1 3.6h0m-3.2 3.4h0m-3.1 3.3h0m-3 3.2h0m-3.1 3.1h0m-2.9 3h0m-3 3h0m-2.9 2.9h0m-2.9 2.9h0m-2.8 2.8h0m-2.8 2.7h0m-132.2 64.8h0m-1.3 .2h0m-1.4 .2h0m-1.2 .2h0m-1.3 .2h0m-1.3 .2h0m-1.3 .1h0m-1.2 .2h0m-1.2 .2h0m-1.3 .2h0m-1.2 .1h0m-1.2 .2h0m-1.2 .2h0m-1.2 .1h0m-1.2 .2h0m-1.1 .1h0m-1.2 .2h0m-1.1 .2h0m-1.2 .1h0m-1.1 .2h0m-1.1 .1h0m-1.1 .2h0m-1.1 .2h0m-1.1 .1h0m-1.1 .2h0m-1.1 .1h0m-1.1 .2h0m-1 .1h0m-1.1 .1h0m-1 .2h0m-1 .1h0m-1.1 .2h0m-1 .1h0m-1 .1h0m-1 .2h0m-1 .1h0m-1 .1h0m-1 .1h0m-.9 .1h0m-1 .2h0m-.9 .1h0m-1 .1h0m-.9 .1h0m-1 .1h0m-.9 .1h0m-.9 .1h0m-.9 .1h0m-.9 .1h0m-.9 .1h0m-.9 .1h0m-.9 .1h0m-.9 .1h0m-.9 .1h0m-.9 .1h0m-.8 .1h0m-.9 .1h0m-.8 0h0m-.9 .1h0m-.8 .1h0m-.9 .1h0m-.8 0h0m-.8 .1h0m-.8 .1h0m-.8 0h0m-.8 .1h0m-.8 .1h0m-.8 0h0m-.8 .1h0m-.8 0h0m-.8 .1h0m-.8 0h0m-.7 .1h0m-.8 0h0m-.7 .1h0m-.8 0h0m-.7 0h0m-.8 .1h0m-.7 0h0m-.8 0h0m-.7 .1h0m-.7 0h0m-.7 0h0m-.8 0h0m-.7 0h0m-.7 .1h0m-.7 0h0m-.7 0h0m-.7 0h0m-.6 0h0m-.7 0h0m-.7 0h0m-.7 0h0m-.7 0h0m-.6 0h0m-.7 0h0m-.6 0h0m-.7 0h0m-.6 0h0m-.7-.1h0m-.6 0h0m323.2-174h0m-.7 1.9h0m-1.9 1.9h0m-2.6 2.3h0m-3.2 2.3h0m-3.4 2.4h0m-3.5 2.5h0m-3.7 2.5h0m-3.6 2.7h0m-3.7 2.8h0m-3.6 3h0m-3.7 3.3h0m-3.5 3.8h0m-3.6 4.4h0m-3.5 4.8h0m-3.5 5h0m-3.4 5h0m-3.4 4.8h0m-3.4 4.7h0m-3.3 4.3h0m-3.3 3.9h0m-3.2 3.7h0m-3.2 3.6h0m-3.1 3.4h0m-3.1 3.4h0m-3.1 3.2h0m-3 3.2h0m-3 3h0m-2.9 3h0m-2.9 3h0m-2.9 2.9h0m-140.4 70.2h0m-1.3 .2h0m-1.2 .2h0m-1.3 .2h0m-1.3 .1h0m-1.2 .2h0m-1.3 .2h0m-1.2 .1h0m-1.2 .2h0m-1.2 .1h0m-1.2 .2h0m-1.2 .2h0m-1.2 .1h0m-1.1 .2h0m-1.2 .1h0m-1.2 .2h0m-1.1 .1h0m-1.1 .2h0m-1.1 .1h0m-1.2 .2h0m-1.1 .1h0m-1 .2h0m-1.1 .1h0m-1.1 .2h0m-1.1 .1h0m-1 .2h0m-1.1 .1h0m-1 .1h0m-1.1 .2h0m-1 .1h0m-1 .1h0m-1 .1h0m-1 .2h0m-1 .1h0m-1 .1h0m-1 .1h0m-.9 .1h0m-1 .1h0m-1 .2h0m-.9 .1h0m-1 .1h0m-.9 .1h0m-.9 .1h0m-.9 .1h0m-1 .1h0m-.9 .1h0m-.9 .1h0m-.9 .1h0m-.9 0h0m-.8 .1h0m-.9 .1h0m-.9 .1h0m-.9 .1h0m-.8 .1h0m-.9 0h0m-.8 .1h0m-.9 .1h0m-.8 .1h0m-.8 0h0m-.8 .1h0m-.9 .1h0m-.8 0h0m-.8 .1h0m-.8 0h0m-.8 .1h0m-.8 .1h0m-.7 0h0m-.8 .1h0m-.8 0h0m-.8 0h0m-.7 .1h0m-.8 0h0m-.7 0h0m-.8 .1h0m-.7 0h0m-.8 0h0m-.7 .1h0m-.7 0h0m-.8 0h0m-.7 0h0m-.7 0h0m-.7 .1h0m-.7 0h0m-.7 0h0m-.7 0h0m-.7 0h0m-.7 0h0m-.7 0h0m-.7 0h0m-.6 0h0m-.7 0h0m-.7 0h0m-.6 0h0m-.7 0h0m-.7 0h0m-.6 0h0m-.7-.1h0m-.6 0h0m323.1-173.7h0m-.7 1.7h0m-1.9 2.1h0m-2.7 2.3h0m-3.1 2.2h0m-3.4 2.4h0m-3.6 2.5h0m-3.6 2.5h0m-3.6 2.5h0m-3.7 2.8h0m-3.6 2.9h0m-3.7 3.4h0m-3.5 3.8h0m-3.6 4.5h0m-3.5 4.9h0m-3.5 5h0m-3.4 5h0m-3.4 4.9h0m-3.4 4.7h0m-3.3 4.4h0m-3.2 3.9h0m-3.2 3.8h0m-3.2 3.6h0m-3.2 3.5h0m-3.1 3.4h0m-3 3.2h0m-3 3.2h0m-3 3.1h0m-152.9 79h0m-1.2 .1h0m-1.3 .2h0m-1.2 .2h0m-1.2 .1h0m-1.3 .2h0m-1.2 .1h0m-1.2 .2h0m-1.1 .1h0m-1.2 .2h0m-1.2 .1h0m-1.1 .2h0m-1.2 .1h0m-1.1 .1h0m-1.2 .2h0m-1.1 .2h0m-1.1 .1h0m-1.1 .1h0m-1.1 .2h0m-1.1 .1h0m-1 .2h0m-1.1 .1h0m-1.1 .1h0m-1 .2h0m-1.1 .1h0m-1 .1h0m-1 .2h0m-1 .1h0m-1 .1h0m-1.1 .1h0m-.9 .1h0m-1 .2h0m-1 .1h0m-1 .1h0m-1 .1h0m-.9 .1h0m-1 .1h0m-.9 .1h0m-.9 .1h0m-1 .1h0m-.9 .1h0m-.9 .1h0m-.9 .1h0m-.9 .1h0m-.9 .1h0m-.9 .1h0m-.9 0h0m-.9 .1h0m-.8 .1h0m-.9 .1h0m-.9 .1h0m-.8 0h0m-.9 .1h0m-.8 .1h0m-.8 .1h0m-.9 0h0m-.8 .1h0m-.8 0h0m-.8 .1h0m-.8 .1h0m-.8 0h0m-.8 .1h0m-.8 0h0m-.8 .1h0m-.8 0h0m-.8 0h0m-.7 .1h0m-.8 0h0m-.7 .1h0m-.8 0h0m-.8 0h0m-.7 0h0m-.7 .1h0m-.8 0h0m-.7 0h0m-.7 0h0m-.7 .1h0m-.8 0h0m-.7 0h0m-.7 0h0m-.7 0h0m-.7 0h0m-.7 0h0m-.7 0h0m-.7 0h0m-.6 0h0m-.7 0h0m-.7 0h0m-.7 0h0m-.6 0h0m-.7 0h0m-.6 0h0m-.7-.1h0m-.6 0h0m-.7 0h0m322.9-173.8h0m-.7 1.9h0m-1.9 2.2h0m-2.6 2.2h0m-3.2 2.2h0m-3.4 2.4h0m-3.5 2.4h0m-3.7 2.4h0m-3.6 2.5h0m-3.6 2.7h0m-3.7 3h0m-3.6 3.4h0m-3.6 4h0m-3.5 4.5h0m-3.5 4.9h0m-3.5 5.1h0m-3.4 5h0m-3.4 5h0m-3.4 4.8h0m-3.3 4.4h0m-3.2 4h0m-3.2 3.8h0m-3.2 3.7h0m-3.1 3.5h0m-3.1 3.4h0m-3.1 3.2h0m-161.2 84.9h0m-1.3 .1h0m-1.2 .2h0m-1.2 .1h0m-1.2 .1h0m-1.2 .2h0m-1.2 .1h0m-1.2 .2h0m-1.1 .1h0m-1.2 .2h0m-1.1 .1h0m-1.2 .1h0m-1.1 .2h0m-1.1 .1h0m-1.1 .2h0m-1.1 .1h0m-1.1 .2h0m-1.1 .1h0m-1.1 .1h0m-1.1 .2h0m-1 .1h0m-1.1 .1h0m-1 .2h0m-1.1 .1h0m-1 .1h0m-1 .1h0m-1 .1h0m-1 .2h0m-1 .1h0m-1 .1h0m-1 .1h0m-.9 .1h0m-1 .1h0m-1 .1h0m-.9 .1h0m-1 .1h0m-.9 .1h0m-.9 .1h0m-1 .1h0m-.9 .1h0m-.9 .1h0m-.9 .1h0m-.9 .1h0m-.9 0h0m-.9 .1h0m-.8 .1h0m-.9 .1h0m-.9 .1h0m-.8 0h0m-.9 .1h0m-.8 .1h0m-.9 0h0m-.8 .1h0m-.8 .1h0m-.9 0h0m-.8 .1h0m-.8 .1h0m-.8 0h0m-.8 .1h0m-.8 0h0m-.8 .1h0m-.8 0h0m-.8 0h0m-.7 .1h0m-.8 0h0m-.8 .1h0m-.7 0h0m-.8 0h0m-.7 0h0m-.8 .1h0m-.7 0h0m-.8 0h0m-.7 0h0m-.7 .1h0m-.7 0h0m-.7 0h0m-.8 0h0m-.7 0h0m-.7 0h0m-.7 0h0m-.7 0h0m-.7 0h0m-.6 0h0m-.7 0h0m-.7 0h0m-.7 0h0m-.6 0h0m-.7 0h0m-.7 0h0m-.6-.1h0m-.7 0h0m-.6 0h0m-.7 0h0m322.7-173.9h0m-.7 2h0m-1.9 2.1h0m-2.7 2.2h0m-3.1 2.3h0m-3.4 2.2h0m-3.5 2.3h0m-3.6 2.4h0m-3.7 2.5h0m-3.6 2.8h0m-3.7 3.1h0m-3.6 3.5h0m-3.5 4h0m-3.6 4.6h0m-3.5 5h0m-3.5 5.1h0m-3.4 5.2h0m-3.4 5h0m-3.3 4.9h0m-3.3 4.5h0m-3.3 4h0m-3.2 3.8h0m-3.1 3.6h0m-3.2 3.6h0m-169.7 90.8h0m-1.2 .2h0m-1.2 .1h0m-1.2 .2h0m-1.2 .1h0m-1.2 .1h0m-1.1 .2h0m-1.2 .1h0m-1.1 .1h0m-1.2 .2h0m-1.1 .1h0m-1.1 .2h0m-1.1 .1h0m-1.1 .1h0m-1.1 .2h0m-1.1 .1h0m-1.1 .1h0m-1 .2h0m-1.1 .1h0m-1.1 .1h0m-1 .2h0m-1 .1h0m-1.1 .1h0m-1 .1h0m-1 .1h0m-1 .1h0m-1 .2h0m-1 .1h0m-1 .1h0m-.9 .1h0m-1 .1h0m-.9 .1h0m-1 .1h0m-.9 .1h0m-1 .1h0m-.9 .1h0m-.9 .1h0m-1 .1h0m-.9 0h0m-.9 .1h0m-.9 .1h0m-.9 .1h0m-.8 .1h0m-.9 .1h0m-.9 0h0m-.9 .1h0m-.8 .1h0m-.9 0h0m-.8 .1h0m-.9 .1h0m-.8 0h0m-.8 .1h0m-.8 .1h0m-.9 0h0m-.8 .1h0m-.8 0h0m-.8 .1h0m-.8 0h0m-.8 .1h0m-.8 0h0m-.7 .1h0m-.8 0h0m-.8 0h0m-.8 .1h0m-.7 0h0m-.8 0h0m-.7 .1h0m-.8 0h0m-.7 0h0m-.7 0h0m-.8 0h0m-.7 .1h0m-.7 0h0m-.7 0h0m-.8 0h0m-.7 0h0m-.7 0h0m-.7 0h0m-.7 0h0m-.7 0h0m-.6 0h0m-.7 0h0m-.7 0h0m-.7 0h0m-.6 0h0m-.7 0h0m-.7 0h0m-.6-.1h0m-.7 0h0m-.6 0h0m-.7 0h0m322.4-174h0m-.7 2.1h0m-1.8 2.1h0m-2.7 2.2h0m-3.1 2.2h0m-3.4 2.2h0m-3.6 2.2h0m-3.6 2.4h0m-3.6 2.6h0m-3.7 2.9h0m-3.6 3.1h0m-3.6 3.6h0m-3.6 4.1h0m-3.5 4.6h0m-3.5 5.2h0m-3.5 5.2h0m-3.4 5.2h0m-3.3 5.2h0m-3.4 4.8h0m-3.3 4.5h0m-3.2 4.1h0m-3.2 3.8h0m-178.3 97.3h0m-1.2 .1h0m-1.2 .2h0m-1.2 .1h0m-1.1 .1h0m-1.2 .2h0m-1.1 .1h0m-1.2 .1h0m-1.1 .2h0m-1.1 .1h0m-1.1 .1h0m-1.1 .2h0m-1.1 .1h0m-1.1 .1h0m-1.1 .2h0m-1 .1h0m-1.1 .1h0m-1.1 .1h0m-1 .2h0m-1 .1h0m-1.1 .1h0m-1 .1h0m-1 .1h0m-1 .2h0m-1 .1h0m-1 .1h0m-.9 .1h0m-1 .1h0m-1 .1h0m-.9 .1h0m-1 .1h0m-.9 .1h0m-1 .1h0m-.9 .1h0m-.9 .1h0m-.9 0h0m-1 .1h0m-.9 .1h0m-.9 .1h0m-.9 .1h0m-.8 .1h0m-.9 0h0m-.9 .1h0m-.9 .1h0m-.8 .1h0m-.9 0h0m-.8 .1h0m-.9 .1h0m-.8 0h0m-.8 .1h0m-.8 0h0m-.9 .1h0m-.8 .1h0m-.8 0h0m-.8 .1h0m-.8 0h0m-.8 0h0m-.8 .1h0m-.7 0h0m-.8 .1h0m-.8 0h0m-.8 0h0m-.7 .1h0m-.8 0h0m-.7 0h0m-.8 0h0m-.7 .1h0m-.8 0h0m-.7 0h0m-.7 0h0m-.7 0h0m-.8 0h0m-.7 0h0m-.7 .1h0m-.7 0h0m-.7 0h0m-.7 0h0m-.7 0h0m-.7 0h0m-.6 0h0m-.7-.1h0m-.7 0h0m-.7 0h0m-.6 0h0m-.7 0h0m-.7 0h0m-.6 0h0m-.7-.1h0m-.6 0h0m322.1-173.8h0m-.7 2.1h0m-1.8 2h0m-2.7 2.2h0m-3.1 2.1h0m-3.4 2.1h0m-3.5 2.2h0m-3.6 2.5h0m-3.7 2.7h0m-3.6 3h0m-3.6 3.2h0m-3.6 3.6h0m-3.6 4.2h0m-3.5 4.9h0m-3.5 5.2h0m-3.5 5.3h0m-3.4 5.3h0m-3.4 5.1h0m-3.3 5h0m-3.3 4.5h0m-3.2 4h0m-182.5 100.1h0m-1.2 .2h0m-1.2 .1h0m-1.1 .1h0m-1.2 .2h0m-1.1 .1h0m-1.2 .1h0m-1.1 .2h0m-1.1 .1h0m-1.1 .1h0m-1.1 .2h0m-1.1 .1h0m-1.1 .1h0m-1.1 .2h0m-1.1 .1h0m-1 .1h0m-1.1 .1h0m-1 .2h0m-1 .1h0m-1.1 .1h0m-1 .1h0m-1 .1h0m-1 .1h0m-1 .1h0m-1 .2h0m-1 .1h0m-.9 .1h0m-1 .1h0m-1 .1h0m-.9 .1h0m-1 .1h0m-.9 0h0m-.9 .1h0m-.9 .1h0m-1 .1h0m-.9 .1h0m-.9 .1h0m-.9 .1h0m-.9 0h0m-.9 .1h0m-.8 .1h0m-.9 .1h0m-.9 .1h0m-.8 0h0m-.9 .1h0m-.8 .1h0m-.9 0h0m-.8 .1h0m-.8 0h0m-.9 .1h0m-.8 .1h0m-.8 0h0m-.8 .1h0m-.8 0h0m-.8 .1h0m-.8 0h0m-.8 0h0m-.8 .1h0m-.7 0h0m-.8 .1h0m-.8 0h0m-.7 0h0m-.8 0h0m-.8 .1h0m-.7 0h0m-.7 0h0m-.8 0h0m-.7 0h0m-.7 .1h0m-.8 0h0m-.7 0h0m-.7 0h0m-.7 0h0m-.7 0h0m-.7 0h0m-.7 0h0m-.7 0h0m-.7 0h0m-.7 0h0m-.7 0h0m-.6 0h0m-.7 0h0m-.7 0h0m-.6-.1h0m-.7 0h0m-.7 0h0m-.6 0h0m-.7 0h0m321.9-173.7h0m-.7 2.1h0m-1.9 2h0m-2.6 2.1h0m-3.1 2h0m-3.4 2.1h0m-3.5 2.3h0m-3.6 2.6h0m-3.7 2.8h0m-3.6 3h0m-3.6 3.4h0m-3.6 3.8h0m-3.6 4.3h0m-3.5 5h0m-3.5 5.2h0m-3.4 5.4h0m-3.4 5.3h0m-3.4 5.3h0m-3.3 4.9h0m-191.2 107.7h0m-1.2 .1h0m-1.1 .2h0m-1.2 .1h0m-1.1 .1h0m-1.1 .2h0m-1.2 .1h0m-1.1 .1h0m-1.1 .2h0m-1.1 .1h0m-1 .1h0m-1.1 .2h0m-1.1 .1h0m-1 .1h0m-1.1 .1h0m-1 .1h0m-1.1 .2h0m-1 .1h0m-1 .1h0m-1 .1h0m-1 .1h0m-1 .1h0m-1 .1h0m-1 .1h0m-1 .1h0m-.9 .1h0m-1 .1h0m-.9 .1h0m-1 .1h0m-.9 .1h0m-1 .1h0m-.9 .1h0m-.9 .1h0m-.9 .1h0m-.9 .1h0m-.9 0h0m-.9 .1h0m-.9 .1h0m-.9 .1h0m-.8 0h0m-.9 .1h0m-.9 .1h0m-.8 0h0m-.9 .1h0m-.8 .1h0m-.8 0h0m-.9 .1h0m-.8 .1h0m-.8 0h0m-.8 .1h0m-.8 0h0m-.8 .1h0m-.8 0h0m-.8 .1h0m-.8 0h0m-.8 0h0m-.8 .1h0m-.8 0h0m-.7 0h0m-.8 .1h0m-.7 0h0m-.8 0h0m-.7 0h0m-.8 .1h0m-.7 0h0m-.8 0h0m-.7 0h0m-.7 0h0m-.7 0h0m-.7 0h0m-.8 0h0m-.7 0h0m-.7 0h0m-.7 0h0m-.7 0h0m-.6 0h0m-.7 0h0m-.7 0h0m-.7 0h0m-.7 0h0m-.6 0h0m-.7 0h0m-.6 0h0m-.7-.1h0m-.7 0h0m-.6 0h0m321.5-173.3h0m-.7 2h0m-1.8 2h0m-2.7 2h0m-3.1 2h0m-3.4 2.1h0m-3.5 2.4h0m-3.6 2.6h0m-3.6 2.9h0m-3.6 3.2h0m-3.6 3.5h0m-3.6 4h0m-3.6 4.4h0m-3.5 5h0m-3.5 5.4h0m-3.4 5.4h0m-3.4 5.4h0m-3.4 5.1h0m-195.4 111.6h0m-1.2 .2h0m-1.1 .1h0m-1.2 .1h0m-1.1 .2h0m-1.1 .1h0m-1.1 .1h0m-1.1 .2h0m-1.1 .1h0m-1.1 .1h0m-1.1 .2h0m-1 .1h0m-1.1 .1h0m-1 .1h0m-1.1 .1h0m-1 .2h0m-1 .1h0m-1.1 .1h0m-1 .1h0m-1 .1h0m-1 .1h0m-1 .1h0m-.9 .1h0m-1 .1h0m-1 .1h0m-.9 .1h0m-1 .1h0m-.9 .1h0m-1 .1h0m-.9 .1h0m-.9 .1h0m-.9 .1h0m-1 0h0m-.9 .1h0m-.9 .1h0m-.8 .1h0m-.9 .1h0m-.9 0h0m-.9 .1h0m-.9 .1h0m-.8 0h0m-.9 .1h0m-.8 .1h0m-.9 0h0m-.8 .1h0m-.8 .1h0m-.9 0h0m-.8 .1h0m-.8 0h0m-.8 .1h0m-.8 0h0m-.8 .1h0m-.8 0h0m-.8 .1h0m-.8 0h0m-.7 0h0m-.8 .1h0m-.8 0h0m-.7 0h0m-.8 0h0m-.8 .1h0m-.7 0h0m-.7 0h0m-.8 0h0m-.7 0h0m-.7 .1h0m-.8 0h0m-.7 0h0m-.7 0h0m-.7 0h0m-.7 0h0m-.7 0h0m-.7 0h0m-.7 0h0m-.7 0h0m-.7 0h0m-.7 0h0m-.6 0h0m-.7 0h0m-.7-.1h0m-.7 0h0m-.6 0h0m-.7 0h0m-.6 0h0m-.7 0h0m321.2-173h0m-.7 2h0m-1.8 2h0m-2.7 1.9h0m-3.1 1.9h0m-3.4 2.2h0m-3.5 2.5h0m-3.5 2.8h0m-3.7 3h0m-3.6 3.3h0m-3.6 3.7h0m-3.6 4.1h0m-3.5 4.5h0m-3.5 5.1h0m-3.5 5.5h0m-3.4 5.4h0m-3.4 5.2h0m-199.8 115.8h0m-1.1 .1h0m-1.1 .2h0m-1.2 .1h0m-1.1 .1h0m-1.1 .2h0m-1.1 .1h0m-1.1 .1h0m-1.1 .1h0m-1 .2h0m-1.1 .1h0m-1.1 .1h0m-1 .1h0m-1.1 .1h0m-1 .2h0m-1 .1h0m-1 .1h0m-1 .1h0m-1 .1h0m-1 .1h0m-1 .1h0m-1 .1h0m-1 .1h0m-.9 .1h0m-1 .1h0m-1 .1h0m-.9 .1h0m-.9 .1h0m-1 .1h0m-.9 .1h0m-.9 0h0m-.9 .1h0m-.9 .1h0m-.9 .1h0m-.9 .1h0m-.9 0h0m-.9 .1h0m-.9 .1h0m-.8 .1h0m-.9 0h0m-.8 .1h0m-.9 .1h0m-.8 0h0m-.9 .1h0m-.8 0h0m-.8 .1h0m-.8 .1h0m-.9 0h0m-.8 .1h0m-.8 0h0m-.8 .1h0m-.8 0h0m-.8 0h0m-.7 .1h0m-.8 0h0m-.8 0h0m-.8 .1h0m-.7 0h0m-.8 0h0m-.7 .1h0m-.8 0h0m-.7 0h0m-.8 0h0m-.7 0h0m-.7 0h0m-.7 .1h0m-.8 0h0m-.7 0h0m-.7 0h0m-.7 0h0m-.7 0h0m-.7 0h0m-.7 0h0m-.7 0h0m-.7 0h0m-.6 0h0m-.7 0h0m-.7-.1h0m-.7 0h0m-.6 0h0m-.7 0h0m-.7 0h0m-.6 0h0m-.7-.1h0m320.8-172.6h0m-.6 1.9h0m-1.9 1.9h0m-2.6 1.9h0m-3.1 2h0m-3.4 2.3h0m-3.5 2.6h0m-3.6 2.9h0m-3.6 3.1h0m-3.6 3.6h0m-3.6 3.8h0m-3.5 4.1h0m-3.6 4.7h0m-3.5 5.2h0m-3.5 5.3h0m-3.4 5.3h0m-205.1 120.2h0m-1.2 .2h0m-1.1 .1h0m-1.1 .1h0m-1.1 .1h0m-1.1 .2h0m-1.1 .1h0m-1 .1h0m-1.1 .1h0m-1 .2h0m-1.1 .1h0m-1 .1h0m-1.1 .1h0m-1 .1h0m-1 .1h0m-1 .1h0m-1 .2h0m-1 .1h0m-1 .1h0m-1 .1h0m-1 .1h0m-.9 .1h0m-1 .1h0m-.9 .1h0m-1 0h0m-.9 .1h0m-1 .1h0m-.9 .1h0m-.9 .1h0m-.9 .1h0m-.9 .1h0m-.9 0h0m-.9 .1h0m-.9 .1h0m-.9 .1h0m-.8 0h0m-.9 .1h0m-.9 .1h0m-.8 .1h0m-.9 0h0m-.8 .1h0m-.8 0h0m-.9 .1h0m-.8 .1h0m-.8 0h0m-.8 .1h0m-.8 0h0m-.9 .1h0m-.8 0h0m-.7 .1h0m-.8 0h0m-.8 0h0m-.8 .1h0m-.8 0h0m-.7 0h0m-.8 .1h0m-.8 0h0m-.7 0h0m-.8 0h0m-.7 .1h0m-.7 0h0m-.8 0h0m-.7 0h0m-.7 0h0m-.8 0h0m-.7 0h0m-.7 0h0m-.7 0h0m-.7 0h0m-.7 0h0m-.7 0h0m-.7 0h0m-.7 0h0m-.6 0h0m-.7 0h0m-.7 0h0m-.7 0h0m-.6 0h0m-.7 0h0m-.6-.1h0m-.7 0h0m-.7 0h0m320.5-172.4h0m-.7 1.9h0m-1.8 1.8h0m-2.7 1.8h0m-3.1 2.1h0m-3.3 2.4h0m-3.5 2.7h0m-3.6 3.1h0m-3.6 3.4h0m-3.6 3.6h0m-3.6 3.9h0m-3.5 4.3h0m-3.6 4.8h0m-3.5 5h0m-3.4 5.2h0m-209.5 124.6h0m-1.1 .2h0m-1.1 .1h0m-1.1 .1h0m-1.1 .2h0m-1.1 .1h0m-1 .1h0m-1.1 .1h0m-1.1 .2h0m-1 .1h0m-1 .1h0m-1.1 .1h0m-1 .1h0m-1 .1h0m-1 .1h0m-1 .1h0m-1 .1h0m-1 .2h0m-1 .1h0m-1 .1h0m-.9 .1h0m-1 0h0m-.9 .1h0m-1 .1h0m-.9 .1h0m-.9 .1h0m-1 .1h0m-.9 .1h0m-.9 .1h0m-.9 .1h0m-.9 0h0m-.9 .1h0m-.9 .1h0m-.9 .1h0m-.8 0h0m-.9 .1h0m-.9 .1h0m-.8 0h0m-.9 .1h0m-.8 .1h0m-.8 0h0m-.9 .1h0m-.8 .1h0m-.8 0h0m-.8 .1h0m-.8 0h0m-.9 .1h0m-.7 0h0m-.8 0h0m-.8 .1h0m-.8 0h0m-.8 .1h0m-.8 0h0m-.7 0h0m-.8 .1h0m-.8 0h0m-.7 0h0m-.8 0h0m-.7 .1h0m-.7 0h0m-.8 0h0m-.7 0h0m-.7 0h0m-.8 0h0m-.7 0h0m-.7 0h0m-.7 0h0m-.7 0h0m-.7 0h0m-.7 0h0m-.7 0h0m-.7 0h0m-.6 0h0m-.7 0h0m-.7 0h0m-.7 0h0m-.6 0h0m-.7 0h0m-.7 0h0m-.6-.1h0m-.7 0h0m320.1-172.2h0m-.7 1.9h0m-1.8 1.7h0m-2.7 1.8h0m-3.1 2.2h0m-3.3 2.5h0m-3.5 2.9h0m-3.6 3.3h0m-3.5 3.5h0m-3.6 3.8h0m-3.6 4h0m-3.6 4.4h0m-3.5 4.6h0m-3.5 4.9h0m-3.5 5.2h0m-211.3 123.9h0m-1.1 .2h0m-1.1 .1h0m-1.1 .1h0m-1 .1h0m-1.1 .2h0m-1.1 .1h0m-1 .1h0m-1.1 .1h0m-1 .1h0m-1 .1h0m-1 .2h0m-1 .1h0m-1 .1h0m-1 .1h0m-1 .1h0m-1 .1h0m-1 .1h0m-.9 .1h0m-1 .1h0m-.9 .1h0m-1 .1h0m-.9 .1h0m-1 0h0m-.9 .1h0m-.9 .1h0m-.9 .1h0m-.9 .1h0m-.9 .1h0m-.9 0h0m-.9 .1h0m-.9 .1h0m-.8 .1h0m-.9 0h0m-.9 .1h0m-.8 .1h0m-.9 0h0m-.8 .1h0m-.9 .1h0m-.8 0h0m-.8 .1h0m-.8 0h0m-.8 .1h0m-.9 0h0m-.8 .1h0m-.8 0h0m-.8 .1h0m-.7 0h0m-.8 .1h0m-.8 0h0m-.8 0h0m-.7 .1h0m-.8 0h0m-.8 0h0m-.7 0h0m-.8 .1h0m-.7 0h0m-.8 0h0m-.7 0h0m-.7 0h0m-.7 .1h0m-.8 0h0m-.7 0h0m-.7 0h0m-.7 0h0m-.7 0h0m-.7 0h0m-.7 0h0m-.7 0h0m-.7 0h0m-.7 0h0m-.6 0h0m-.7 0h0m-.7 0h0m-.7-.1h0m-.6 0h0m-.7 0h0m-.6 0h0m-.7 0h0m319.6-172h0m-.6 1.7h0m-1.9 1.7h0m-2.6 1.9h0m-3.1 2.3h0m-3.3 2.7h0m-3.5 3h0m-3.6 3.5h0m-3.5 3.6h0m-3.6 4h0m-3.6 4.1h0m-3.5 4.2h0m-3.6 4.5h0m-3.5 4.9h0m-216.6 128.5h0m-1.1 .1h0m-1.1 .1h0m-1 .1h0m-1.1 .2h0m-1.1 .1h0m-1 .1h0m-1 .1h0m-1 .1h0m-1.1 .1h0m-1 .1h0m-1 .1h0m-1 .1h0m-1 .2h0m-.9 .1h0m-1 .1h0m-1 .1h0m-.9 .1h0m-1 0h0m-.9 .1h0m-1 .1h0m-.9 .1h0m-.9 .1h0m-.9 .1h0m-.9 .1h0m-.9 .1h0m-.9 0h0m-.9 .1h0m-.9 .1h0m-.9 .1h0m-.9 0h0m-.8 .1h0m-.9 .1h0m-.8 .1h0m-.9 0h0m-.8 .1h0m-.9 .1h0m-.8 0h0m-.8 .1h0m-.9 0h0m-.8 .1h0m-.8 0h0m-.8 .1h0m-.8 0h0m-.8 .1h0m-.8 0h0m-.8 0h0m-.7 .1h0m-.8 0h0m-.8 0h0m-.7 .1h0m-.8 0h0m-.8 0h0m-.7 .1h0m-.7 0h0m-.8 0h0m-.7 0h0m-.8 0h0m-.7 0h0m-.7 .1h0m-.7 0h0m-.7 0h0m-.7 0h0m-.7 0h0m-.7 0h0m-.7 0h0m-.7 0h0m-.7 0h0m-.7 0h0m-.7 0h0m-.7 0h0m-.6-.1h0m-.7 0h0m-.7 0h0m-.6 0h0m-.7 0h0m-.6 0h0m319.1-171.9h0m-.6 1.7h0m-1.8 1.6h0m-2.7 2.1h0m-3 2.4h0m-3.4 2.8h0m-3.4 3.3h0m-3.6 3.6h0m-3.6 3.8h0m-3.5 4h0m-3.6 4h0m-3.5 4.1h0m-3.6 4.5h0m-220.9 132.6h0m-1 .1h0m-1.1 .1h0m-1.1 .2h0m-1 .1h0m-1 .1h0m-1.1 .1h0m-1 .1h0m-1 .1h0m-1 .2h0m-1 .1h0m-1 .1h0m-1 .1h0m-1 .1h0m-.9 .1h0m-1 .1h0m-1 .1h0m-.9 .1h0m-1 .1h0m-.9 0h0m-.9 .1h0m-1 .1h0m-.9 .1h0m-.9 .1h0m-.9 .1h0m-.9 .1h0m-.9 0h0m-.9 .1h0m-.8 .1h0m-.9 .1h0m-.9 0h0m-.8 .1h0m-.9 .1h0m-.8 0h0m-.9 .1h0m-.8 .1h0m-.9 0h0m-.8 .1h0m-.8 0h0m-.8 .1h0m-.8 .1h0m-.8 0h0m-.8 0h0m-.8 .1h0m-.8 0h0m-.8 .1h0m-.8 0h0m-.7 0h0m-.8 .1h0m-.8 0h0m-.7 0h0m-.8 .1h0m-.7 0h0m-.8 0h0m-.7 0h0m-.8 0h0m-.7 .1h0m-.7 0h0m-.7 0h0m-.8 0h0m-.7 0h0m-.7 0h0m-.7 0h0m-.7 0h0m-.7 0h0m-.7 0h0m-.7 0h0m-.6 0h0m-.7 0h0m-.7 0h0m-.7 0h0m-.6 0h0m-.7 0h0m-.7-.1h0m-.6 0h0m-.7 0h0m318.7-171.7h0m-.6 1.6h0m-1.8 1.7h0m-2.7 2.2h0m-3 2.5h0m-3.3 3h0m-3.5 3.5h0m-3.5 3.7h0m-3.6 3.9h0m-3.6 4h0m-3.5 3.9h0m-3.6 4.1h0m-226.2 136.4h0m-1 .1h0m-1.1 .2h0m-1 .1h0m-1 .1h0m-1.1 .1h0m-1 .1h0m-1 .1h0m-1 .1h0m-1 .1h0m-1 .1h0m-.9 .1h0m-1 .1h0m-1 .1h0m-.9 .1h0m-1 .1h0m-.9 .1h0m-1 .1h0m-.9 .1h0m-.9 .1h0m-.9 .1h0m-.9 .1h0m-.9 .1h0m-.9 0h0m-.9 .1h0m-.9 .1h0m-.9 .1h0m-.9 0h0m-.8 .1h0m-.9 .1h0m-.8 .1h0m-.9 0h0m-.8 .1h0m-.9 .1h0m-.8 0h0m-.8 .1h0m-.9 0h0m-.8 .1h0m-.8 0h0m-.8 .1h0m-.8 0h0m-.8 .1h0m-.8 0h0m-.7 .1h0m-.8 0h0m-.8 0h0m-.8 .1h0m-.7 0h0m-.8 0h0m-.7 .1h0m-.8 0h0m-.7 0h0m-.8 0h0m-.7 0h0m-.7 .1h0m-.8 0h0m-.7 0h0m-.7 0h0m-.7 0h0m-.7 0h0m-.7 0h0m-.7 0h0m-.7 0h0m-.7 0h0m-.7 0h0m-.7 0h0m-.7 0h0m-.7 0h0m-.6 0h0m-.7 0h0m-.7 0h0m-.6 0h0m-.7-.1h0m-.6 0h0m318.2-171.5h0m-.7 1.5h0m-1.8 1.8h0m-2.6 2.3h0m-3 2.7h0m-3.4 3.2h0m-3.4 3.6h0m-3.5 3.9h0m-3.6 3.9h0m-3.6 3.9h0m-234.9 143.7h0m-1.1 .2h0m-1 .1h0m-1 .1h0m-1 .1h0m-1.1 .1h0m-1 .1h0m-.9 .1h0m-1 .1h0m-1 .1h0m-1 .1h0m-.9 .1h0m-1 .1h0m-.9 .1h0m-1 .1h0m-.9 .1h0m-1 .1h0m-.9 .1h0m-.9 .1h0m-.9 .1h0m-.9 0h0m-.9 .1h0m-.9 .1h0m-.9 .1h0m-.9 .1h0m-.8 0h0m-.9 .1h0m-.9 .1h0m-.8 .1h0m-.9 0h0m-.8 .1h0m-.8 0h0m-.9 .1h0m-.8 .1h0m-.8 0h0m-.8 .1h0m-.8 0h0m-.8 .1h0m-.8 0h0m-.8 .1h0m-.8 0h0m-.8 .1h0m-.8 0h0m-.8 0h0m-.7 .1h0m-.8 0h0m-.8 0h0m-.7 .1h0m-.8 0h0m-.7 0h0m-.7 0h0m-.8 0h0m-.7 .1h0m-.7 0h0m-.8 0h0m-.7 0h0m-.7 0h0m-.7 0h0m-.7 0h0m-.7 0h0m-.7 0h0m-.7 0h0m-.7 0h0m-.7 0h0m-.6 0h0m-.7 0h0m-.7 0h0m-.7 0h0m-.6 0h0m-.7 0h0m-.6 0h0m-.7-.1h0m317.7-171.4h0m-.6 1.5h0m-1.8 1.9h0m-2.6 2.4h0m-3.1 2.9h0m-3.3 3.4h0m-3.4 3.7h0m-3.6 4h0m-3.5 3.9h0m-240.2 146.9h0m-1 .1h0m-1 .1h0m-1 .2h0m-1 .1h0m-1 .1h0m-1 .1h0m-1 .1h0m-1 .1h0m-.9 .1h0m-1 .1h0m-.9 .1h0m-1 .1h0m-.9 .1h0m-.9 .1h0m-1 0h0m-.9 .1h0m-.9 .1h0m-.9 .1h0m-.9 .1h0m-.9 .1h0m-.9 0h0m-.8 .1h0m-.9 .1h0m-.9 .1h0m-.8 0h0m-.9 .1h0m-.8 .1h0m-.9 .1h0m-.8 0h0m-.9 .1h0m-.8 0h0m-.8 .1h0m-.8 .1h0m-.8 0h0m-.8 .1h0m-.8 0h0m-.8 0h0m-.8 .1h0m-.8 0h0m-.8 .1h0m-.8 0h0m-.7 0h0m-.8 .1h0m-.7 0h0m-.8 0h0m-.7 .1h0m-.8 0h0m-.7 0h0m-.8 0h0m-.7 0h0m-.7 .1h0m-.8 0h0m-.7 0h0m-.7 0h0m-.7 0h0m-.7 0h0m-.7 0h0m-.7 0h0m-.7 0h0m-.7 0h0m-.7 0h0m-.6 0h0m-.7 0h0m-.7 0h0m-.7 0h0m-.6 0h0m-.7 0h0m-.6-.1h0m-.7 0h0m317.2-171.4h0m-.6 1.5h0m-1.8 2h0m-2.6 2.5h0m-3.1 3.2h0m-3.3 3.5h0m-3.4 3.9h0m-248.9 154.1h0m-1 .1h0m-1 .1h0m-1 .1h0m-.9 .1h0m-1 .1h0m-1 .2h0m-1 .1h0m-.9 .1h0m-1 0h0m-.9 .1h0m-.9 .1h0m-1 .1h0m-.9 .1h0m-.9 .1h0m-.9 .1h0m-.9 .1h0m-.9 .1h0m-.9 0h0m-.9 .1h0m-.9 .1h0m-.8 .1h0m-.9 .1h0m-.9 0h0m-.8 .1h0m-.9 .1h0m-.8 0h0m-.8 .1h0m-.9 .1h0m-.8 0h0m-.8 .1h0m-.8 0h0m-.8 .1h0m-.8 0h0m-.8 .1h0m-.8 0h0m-.8 .1h0m-.8 0h0m-.8 .1h0m-.8 0h0m-.7 0h0m-.8 .1h0m-.8 0h0m-.7 0h0m-.8 .1h0m-.7 0h0m-.7 0h0m-.8 0h0m-.7 0h0m-.7 .1h0m-.8 0h0m-.7 0h0m-.7 0h0m-.7 0h0m-.7 0h0m-.7 0h0m-.7 0h0m-.7 0h0m-.7 0h0m-.7 0h0m-.7 0h0m-.6 0h0m-.7 0h0m-.7 0h0m-.6 0h0m-.7 0h0m-.7 0h0m-.6-.1h0m316.1-169.9h0m-1.8 2.1h0m-2.6 2.7h0m-3.1 3.4h0m-3.2 3.6h0m-41.4 50.9h0m-3.2 4.2h0m-210.3 102.5h0m-1 .1h0m-1 .1h0m-.9 .1h0m-1 .1h0m-.9 .1h0m-1 .1h0m-.9 .1h0m-1 .1h0m-.9 .1h0m-.9 .1h0m-.9 0h0m-.9 .1h0m-.9 .1h0m-.9 .1h0m-.9 .1h0m-.9 .1h0m-.9 0h0m-.9 .1h0m-.8 .1h0m-.9 .1h0m-.8 0h0m-.9 .1h0m-.8 .1h0m-.9 0h0m-.8 .1h0m-.8 .1h0m-.9 0h0m-.8 .1h0m-.8 0h0m-.8 .1h0m-.8 0h0m-.8 .1h0m-.8 0h0m-.8 .1h0m-.7 0h0m-.8 .1h0m-.8 0h0m-.7 0h0m-.8 .1h0m-.8 0h0m-.7 0h0m-.8 0h0m-.7 .1h0m-.7 0h0m-.8 0h0m-.7 0h0m-.7 0h0m-.7 0h0m-.7 .1h0m-.8 0h0m-.7 0h0m-.7 0h0m-.7 0h0m-.7 0h0m-.6 0h0m-.7 0h0m-.7 0h0m-.7 0h0m-.7 0h0m-.6 0h0m-.7 0h0m-.7-.1h0m-.6 0h0m-.7 0h0m316.2-171.6h0m-.6 1.6h0m-1.8 2.3h0m-2.6 2.9h0m-3 3.5h0m-3.3 3.8h0m-37.9 45.8h0m-3.3 4.5h0m-3.2 4.2h0m-212.9 102.5h0m-1 .1h0m-.9 .1h0m-1 .1h0m-.9 .1h0m-.9 .1h0m-1 .1h0m-.9 .1h0m-.9 .1h0m-.9 .1h0m-.9 .1h0m-.9 0h0m-.9 .1h0m-.9 .1h0m-.9 .1h0m-.8 .1h0m-.9 0h0m-.9 .1h0m-.8 .1h0m-.9 .1h0m-.8 0h0m-.8 .1h0m-.9 .1h0m-.8 0h0m-.8 .1h0m-.8 0h0m-.8 .1h0m-.8 0h0m-.8 .1h0m-.8 0h0m-.8 .1h0m-.8 0h0m-.8 .1h0m-.8 0h0m-.7 0h0m-.8 .1h0m-.8 0h0m-.7 0h0m-.8 .1h0m-.7 0h0m-.8 0h0m-.7 0h0m-.7 .1h0m-.8 0h0m-.7 0h0m-.7 0h0m-.7 0h0m-.7 0h0m-.7 0h0m-.7 .1h0m-.7 0h0m-.7 0h0m-.7 0h0m-.7 0h0m-.7 0h0m-.7 0h0m-.6 0h0m-.7-.1h0m-.7 0h0m-.6 0h0m-.7 0h0m-.6 0h0m315-170h0m-1.8 2.3h0m-2.5 3.2h0m-3 3.6h0m-3.3 4h0m-31.2 35.9h0m-3.3 4.7h0m-3.3 4.6h0m-3.3 4.4h0m-3.2 4.2h0m-3.2 3.8h0m-212.2 98.9h0m-1 0h0m-.9 .1h0m-.9 .1h0m-1 .1h0m-.9 .1h0m-.9 .1h0m-.9 .1h0m-.9 .1h0m-.9 .1h0m-.9 0h0m-.8 .1h0m-.9 .1h0m-.9 .1h0m-.8 .1h0m-.9 0h0m-.8 .1h0m-.9 .1h0m-.8 0h0m-.9 .1h0m-.8 .1h0m-.8 0h0m-.8 .1h0m-.8 0h0m-.8 .1h0m-.8 0h0m-.8 .1h0m-.8 0h0m-.8 .1h0m-.8 0h0m-.8 .1h0m-.7 0h0m-.8 0h0m-.7 .1h0m-.8 0h0m-.8 0h0m-.7 .1h0m-.7 0h0m-.8 0h0m-.7 0h0m-.7 .1h0m-.8 0h0m-.7 0h0m-.7 0h0m-.7 0h0m-.7 0h0m-.7 0h0m-.7 0h0m-.7 0h0m-.7 0h0m-.7 0h0m-.7 0h0m-.6 0h0m-.7 0h0m-.7 0h0m-.7 0h0m-.6 0h0m-.7 0h0m-.6 0h0m312.7-167.5h0m-2.5 3.4h0m-3 3.7h0m-34.4 39.5h0m-3.3 4.6h0m-3.3 4.6h0m-3.3 4.4h0m-3.2 4.2h0m-3.2 3.8h0m-3.1 3.3h0m-212.5 95.7h0m-.9 .1h0m-.9 .1h0m-.9 .1h0m-.9 .1h0m-.9 .1h0m-.9 .1h0m-.8 0h0m-.9 .1h0m-.9 .1h0m-.8 .1h0m-.9 0h0m-.8 .1h0m-.9 .1h0m-.8 0h0m-.8 .1h0m-.9 .1h0m-.8 0h0m-.8 .1h0m-.8 .1h0m-.8 0h0m-.8 .1h0m-.8 0h0m-.8 .1h0m-.8 0h0m-.8 0h0m-.8 .1h0m-.7 0h0m-.8 .1h0m-.8 0h0m-.7 0h0m-.8 .1h0m-.7 0h0m-.7 0h0m-.8 0h0m-.7 .1h0m-.7 0h0m-.8 0h0m-.7 0h0m-.7 0h0m-.7 0h0m-.7 .1h0m-.7 0h0m-.7 0h0m-.7 0h0m-.7 0h0m-.7 0h0m-.7 0h0m-.7 0h0m-.6 0h0m-.7 0h0m-.7 0h0m-.6 0h0m-.7-.1h0m-.7 0h0m312.3-167.2h0m-2.5 3.5h0m-3 4h0m-3.3 3.9h0m-31 34.9h0m-9.9 13.7h0m-3.2 4.1h0m-3.1 3.8h0m-218 99.1h0m-.9 .1h0m-.9 .1h0m-.9 .1h0m-.9 .1h0m-.8 .1h0m-.9 0h0m-.8 .1h0m-.9 .1h0m-.9 .1h0m-.8 0h0m-.8 .1h0m-.9 .1h0m-.8 0h0m-.8 .1h0m-.8 .1h0m-.8 0h0m-.8 .1h0m-.8 0h0m-.8 .1h0m-.8 0h0m-.8 .1h0m-.8 0h0m-.8 0h0m-.7 .1h0m-.8 0h0m-.8 .1h0m-.7 0h0m-.8 0h0m-.7 .1h0m-.8 0h0m-.7 0h0m-.7 0h0m-.8 .1h0m-.7 0h0m-.7 0h0m-.7 0h0m-.7 0h0m-.8 0h0m-.7 0h0m-.7 0h0m-.7 .1h0m-.6 0h0m-.7 0h0m-.7 0h0m-.7 0h0m-.7 0h0m-.6 0h0m-.7 0h0m-.7-.1h0m-.6 0h0m-.7 0h0m311.8-167h0m-2.6 3.7h0m-3 4.1h0m-34.1 38.3h0m-3.3 4.6h0m-9.8 13.2h0m-3.1 3.7h0m-3.2 3.3h0m-3 3.2h0m-214.1 92.8h0m-1.8 .1h0m-.8 .1h0m-.9 .1h0m-.8 .1h0m-.9 0h0m-.8 .1h0m-.9 .1h0m-.8 0h0m-.8 .1h0m-.8 .1h0m-.9 0h0m-.8 .1h0m-.8 0h0m-.8 .1h0m-.8 0h0m-.8 .1h0m-.8 0h0m-.7 .1h0m-.8 0h0m-.8 .1h0m-.7 0h0m-.8 0h0m-.8 .1h0m-.7 0h0m-.8 0h0m-.7 .1h0m-.7 0h0m-.8 0h0m-.7 0h0m-.7 .1h0m-.8 0h0m-.7 0h0m-.7 0h0m-.7 0h0m-.7 0h0m-.7 0h0m-.7 .1h0m-.7 0h0m-.7 0h0m-.7 0h0m-.6 0h0m-.7 0h0m-.7 0h0m-.7 0h0m-.6 0h0m-.7-.1h0m-.6 0h0m305.7-158.7h0m-3.3 3.7h0m-24 25.4h0m-26.1 33.5h0m-3 3.1h0m-3.1 3h0m-3 2.8h0m-25.3 23.5h0m-185 63.7h0m-.8 0h0m-1.7 .2h0m-.9 .1h0m-.8 0h0m-.8 .1h0m-.9 .1h0m-1.6 .1h0m-.8 .1h0m-.8 0h0m-.8 .1h0m-.8 0h0m-.8 .1h0m-1.6 .1h0m-.8 0h0m-.7 .1h0m-.8 0h0m-.8 0h0m-.7 .1h0m-.8 0h0m-.7 0h0m-1.5 .1h0m-.7 0h0m-.8 0h0m-.7 .1h0m-.7 0h0m-.7 0h0m-.7 0h0m-.8 0h0m-.7 0h0m-.7 0h0m-.7 .1h0m-.6 0h0m-.7 0h0m-.7 0h0m-.7 0h0m-.7 0h0m-.7 0h0m-.6 0h0m-.7 0h0m-.6 0h0m-.7 0h0m305.2-158.3h0m-50.1 58.7h0m-6.2 6.4h0m-3 3h0m-3 2.8h0m-17.1 15.8h0m-195.4 71.6h0m-1.7 .2h0m-.8 0h0m-1.6 .2h0m-1.7 .1h0m-1.6 .1h0m-1.6 .1h0m-1.5 .1h0m-1.6 .1h0m-1.5 .1h0m-.8 0h0m-1.5 .1h0m-1.5 0h0m-1.4 .1h0m-1.5 0h0m-1.4 0h0m-1.4 .1h0m-1.4 0h0m-1.4 0h0m-1.4 0h0m-1.3 0h0m-1.4 0h0m-.6 0h0m-.7 0h0m304.7-157.9h0m-3.2 3.8h0m-3.4 3.6h0m-3.4 3.5h0m-6.9 6.8h0m-45.2 52.7h0m-2.9 2.8h0m-2.9 2.6h0m-5.7 5.3h0m-8.3 7.7h0m-5.4 5h0m-2.6 2.4h0m-5.2 4.4h0m-210.5 58.6h0m133.4-133.7h0m-9.3 19h0m-5.3 10.2h0m-5.4 12.4h0m-3.5 8h0m-170.4 104h0" stroke="#2f479d" stroke-width="2.8" stroke-linecap="round" fill="none"/>
<polyline points="1378.4,651.8 1377.7,651.9 1375.8,652.1 1373.1,652.4 1369.9,652.8 1366.4,653.3 1362.9,654.1 1359.2,655.2 1355.5,656.6 1351.8,658.7 1348.2,661.5 1344.5,665.0 1340.9,668.9 1337.3,674.2 1333.8,680.4 1330.2,686.8 1326.8,692.9 1323.4,699.3 1320.0,705.7 1316.7,711.8 1313.4,717.2 1310.1,722.5 1306.9,727.6 1303.8,732.5 1300.6,737.3 1297.6,741.9 1294.5,746.2 1291.5,750.2 1288.6,754.0 1285.6,757.4 1282.8,760.8 1279.9,764.0 1277.1,767.0 1274.3,769.9 1271.6,772.7 1268.9,775.3 1266.2,777.8 1263.6,780.1 1261.0,782.3 1258.4,784.3 1255.9,786.4 1253.4,788.3 1250.9,790.2 1248.5,792.1 1246.1,793.9 1243.7,795.7 1241.3,797.5 1239.0,799.2 1236.7,800.8 1234.4,802.4 1232.2,804.0 1230.0,805.5 1227.8,807.0 1225.6,808.5 1223.5,809.9 1221.4,811.3 1219.3,812.6 1217.2,813.9 1215.2,815.2 1213.1,816.4 1211.1,817.6 1209.2,818.8 1207.2,819.9 1205.3,821.0 1203.4,822.1 1201.5,823.2 1199.6,824.2 1197.7,825.2 1195.9,826.2 1194.1,827.2 1192.3,828.2 1190.5,829.1 1188.8,830.1 1187.0,831.0 1185.3,831.9 1183.6,832.8 1181.9,833.6 1180.3,834.5 1178.6,835.3 1177.0,836.2 1175.4,837.0 1173.8,837.8 1172.2,838.6 1170.6,839.3 1169.1,840.1 1167.5,840.8 1166.0,841.5 1164.5,842.3 1163.0,843.0 1161.5,843.6 1160.0,844.3 1158.6,845.0 1157.2,845.6 1155.7,846.3 1154.3,846.9 1152.9,847.5 1151.5,848.1 1150.2,848.7 1148.8,849.3 1147.5,849.8 1146.1,850.4 1144.8,851.0 1143.5,851.5 1142.2,852.1 1140.9,852.6 1139.6,853.2 1138.4,853.7 1137.1,854.2 1135.9,854.8 1134.7,855.3 1133.4,855.8 1132.2,856.3 1131.0,856.8 1129.8,857.3 1128.7,857.8 1127.5,858.2 1126.3,858.7 1125.2,859.2 1124.0,859.6 1122.9,860.1 1121.8,860.6 1120.7,861.0 1119.6,861.4 1118.5,861.9 1117.4,862.3 1116.3,862.7 1115.3,863.2 1114.2,863.6 1113.2,864.0 1112.1,864.4 1111.1,864.8 1110.1,865.2 1109.1,865.6 1108.1,865.9 1107.1,866.3 1106.1,866.7 1105.1,867.1 1104.1,867.4 1103.2,867.8 1102.2,868.1 1101.2,868.5 1100.3,868.8 1099.4,869.2 1098.4,869.5 1097.5,869.8 1096.6,870.2 1095.7,870.5 1094.8,870.8 1093.9,871.1 1093.0,871.4 1092.1,871.8 1091.2,872.1 1090.4,872.4 1089.5,872.7 1088.6,873.0 1087.8,873.3 1087.0,873.6 1086.1,873.9 1085.3,874.2 1084.5,874.5 1083.6,874.8 1082.8,875.1 1082.0,875.3 1081.2,875.6 1080.4,875.9 1079.6,876.2 1078.8,876.5 1078.1,876.7 1077.3,877.0 1076.5,877.3 1075.7,877.5 1075.0,877.8 1074.2,878.1 1073.5,878.3 1072.7,878.6 1072.0,878.8 1071.3,879.1 1070.5,879.3 1069.8,879.6 1069.1,879.8 1068.4,880.0 1067.7,880.2 1067.0,880.5 1066.3,880.7 1065.6,880.9 1064.9,881.1 1064.2,881.3 1063.5,881.5 1062.9,881.7 1062.2,881.9 1061.5,882.1 1060.8,882.3 1060.2,882.5 1059.5,882.7 1058.9,882.8 1058.2,883.0 1057.6,883.2 1057.0,883.3 1056.3,883.5 1055.7,883.6 1055.1,883.8" fill="none" stroke="#000" stroke-width="4.6" stroke-linejoin="round" stroke-linecap="round"/>
<polyline points="1378.4,651.8 1378.4,660.1 1378.3,668.7 1378.3,677.4 1378.2,686.4 1378.1,695.5 1377.9,704.7 1377.8,714.2 1377.6,723.8 1377.4,733.6 1377.2,743.3 1376.9,752.5 1376.6,761.2 1376.4,769.5 1376.0,777.5 1375.7,784.7 1375.3,791.0 1374.9,796.5 1374.5,801.6 1374.1,806.4 1373.6,810.8 1373.1,814.9 1372.6,818.6 1372.1,822.0 1371.6,825.2 1371.0,828.1 1370.4,830.8 1369.8,833.4 1369.2,835.9 1368.5,838.4 1367.8,840.8 1367.2,843.2 1366.4,845.6 1365.7,847.9 1365.0,850.2 1364.2,852.5 1363.4,854.7 1362.6,856.8 1361.8,858.9 1360.9,861.0 1360.1,863.1 1359.2,865.2 1358.3,867.1 1357.4,869.1 1356.5,870.9 1355.5,872.6 1354.6,874.1 1353.6,875.6 1352.6,877.0 1351.6,878.3 1350.6,879.6 1349.6,880.8 1348.5,881.9 1347.5,883.0 1346.4,884.0 1345.3,885.0 1344.2,886.0 1343.1,886.8 1342.0,887.5 1340.9,888.2 1339.7,888.9 1338.6,889.5 1337.4,890.2 1336.2,890.9 1335.0,891.5 1333.8,892.2 1332.6,892.8 1331.4,893.5 1330.2,894.1 1329.0,894.7 1327.7,895.3 1326.5,895.9 1325.2,896.5 1324.0,897.2 1322.7,897.8 1321.4,898.4 1320.1,899.0 1318.9,899.6 1317.6,900.2 1316.3,900.8 1315.0,901.3 1313.6,901.8 1312.3,902.3 1311.0,902.8 1309.7,903.3 1308.3,903.8 1307.0,904.2 1305.7,904.7 1304.3,905.1 1303.0,905.5 1301.7,906.0 1300.3,906.4 1299.0,906.8 1297.6,907.2 1296.2,907.6 1294.9,907.9 1293.5,908.3 1292.2,908.7 1290.8,909.0 1289.4,909.4 1288.1,909.7 1286.7,910.0 1285.3,910.3 1284.0,910.6 1282.6,910.9 1281.2,911.2 1279.9,911.5 1278.5,911.8 1277.2,912.1 1275.8,912.4 1274.4,912.6 1273.1,912.9 1271.7,913.1 1270.3,913.3 1269.0,913.6 1267.6,913.8 1266.3,914.0 1264.9,914.2 1263.6,914.4 1262.2,914.6 1260.9,914.7 1259.5,914.9 1258.2,915.1 1256.8,915.2 1255.5,915.4 1254.2,915.6 1252.8,915.7 1251.5,915.9 1250.2,916.1 1248.8,916.2 1247.5,916.4 1246.2,916.6 1244.9,916.7 1243.6,916.9 1242.3,917.0 1241.0,917.2 1239.7,917.4 1238.4,917.5 1237.1,917.7 1235.8,917.8 1234.5,918.0 1233.2,918.1 1231.9,918.3 1230.7,918.4 1229.4,918.6 1228.1,918.7 1226.9,918.9 1225.6,919.0 1224.4,919.2 1223.1,919.3 1221.9,919.4 1220.6,919.6 1219.4,919.7 1218.2,919.8 1216.9,919.9 1215.7,920.1 1214.5,920.2 1213.3,920.3 1212.1,920.4 1210.9,920.5 1209.7,920.6 1208.5,920.7 1207.3,920.8 1206.1,920.9 1204.9,921.0 1203.8,921.1 1202.6,921.2 1201.4,921.3 1200.3,921.4 1199.1,921.5 1197.9,921.6 1196.8,921.7 1195.7,921.8 1194.5,921.9 1193.4,922.0 1192.3,922.1 1191.1,922.2 1190.0,922.3 1188.9,922.4 1187.8,922.5 1186.7,922.6 1185.6,922.7 1184.5,922.7 1183.4,922.8 1182.3,922.9 1181.3,923.0 1180.2,923.1 1179.1,923.2 1178.1,923.3 1177.0,923.4 1175.9,923.5 1174.9,923.6 1173.9,923.7 1172.8,923.7 1171.8,923.8 1170.7,923.9 1169.7,924.0 1168.7,924.1 1167.7,924.2 1166.7,924.2 1165.7,924.3" fill="none" stroke="#e60012" stroke-width="3.6" stroke-linejoin="round"/>
<rect x="856.4" y="608.9" width="569.3" height="476.6" fill="none" stroke="#000" stroke-width="2.2"/>
<path d="M998.7 1085.5v-6 M1141.0 1085.5v-6 M1283.4 1085.5v-6 M856.4 966.4h6 M856.4 847.2h6 M856.4 728.0h6" stroke="#000" stroke-width="2" fill="none"/>
<text x="856.4" y="1114.8" text-anchor="middle" font-size="27" fill="#303030" >0</text>
<text x="998.7" y="1114.8" text-anchor="middle" font-size="27" fill="#303030" >0.2</text>
<text x="1141" y="1114.8" text-anchor="middle" font-size="27" fill="#303030" >0.4</text>
<text x="1283.4" y="1114.8" text-anchor="middle" font-size="27" fill="#303030" >0.6</text>
<text x="1425.7" y="1114.8" text-anchor="middle" font-size="27" fill="#303030" >0.8</text>
<text x="846.4" y="1098.6" text-anchor="end" font-size="27" fill="#303030" >10<tspan dx="1" dy="-13.6" font-size="19.5">0</tspan></text>
<text x="846.4" y="979.5" text-anchor="end" font-size="27" fill="#303030" >10<tspan dx="1" dy="-13.6" font-size="19.5">1</tspan></text>
<text x="846.4" y="860.3" text-anchor="end" font-size="27" fill="#303030" >10<tspan dx="1" dy="-13.6" font-size="19.5">2</tspan></text>
<text x="846.4" y="741.1" text-anchor="end" font-size="27" fill="#303030" >10<tspan dx="1" dy="-13.6" font-size="19.5">3</tspan></text>
<text x="846.4" y="622" text-anchor="end" font-size="27" fill="#303030" >10<tspan dx="1" dy="-13.6" font-size="19.5">4</tspan></text>
</g>
<path d="M904.1 80.9h1.6v1.6h-1.6zM899.9 88.0h1.6v1.6h-1.6zM889.0 98.9h1.6v1.6h-1.6zM917.5 100.1h1.6v1.6h-1.6zM889.8 109.3h1.6v1.6h-1.6zM904.1 137.4h1.6v1.6h-1.6zM899.9 161.7h1.6v1.6h-1.6zM894.5 164.6h1.6v1.6h-1.6zM897.4 170.9h1.6v1.6h-1.6zM907.0 173.0h1.6v1.6h-1.6zM911.2 183.5h1.6v1.6h-1.6zM914.1 202.7h1.6v1.6h-1.6zM904.1 207.7h1.6v1.6h-1.6zM908.3 226.2h1.6v1.6h-1.6zM933.8 230.8h1.6v1.6h-1.6zM941.4 260.9h1.6v1.6h-1.6zM904.1 281.9h1.6v1.6h-1.6zM894.5 286.1h1.6v1.6h-1.6zM897.4 291.1h1.6v1.6h-1.6zM1341.3 99.7h1.6v1.6h-1.6zM123.0 626.8h2v1.4h-2zM144.0 626.8h2v1.4h-2zM151.5 626.8h2v1.4h-2zM160.0 626.8h2v1.4h-2zM180.0 626.8h2v1.4h-2zM119.0 634.3h2v1.4h-2zM136.5 634.3h2v1.4h-2zM149.0 634.3h2v1.4h-2zM155.0 634.3h2v1.4h-2zM161.0 634.3h2v1.4h-2zM166.5 634.3h2v1.4h-2zM209.0 634.3h2v1.4h-2zM135.0 642.8h2v1.4h-2zM125.5 665.8h2v1.4h-2zM133.0 694.3h2v1.4h-2zM154.0 694.3h2v1.4h-2zM166.5 694.3h2v1.4h-2zM175.0 694.3h2v1.4h-2zM181.5 694.3h2v1.4h-2zM189.0 694.3h2v1.4h-2zM122.5 701.8h2v1.4h-2zM144.0 701.8h2v1.4h-2zM151.5 701.8h2v1.4h-2zM164.0 701.8h2v1.4h-2zM126.5 729.3h2v1.4h-2zM129.0 725.8h2v1.4h-2zM131.5 729.3h2v1.4h-2zM130.5 769.3h2v1.4h-2zM139.0 769.3h2v1.4h-2zM153.0 769.3h2v1.4h-2zM158.0 769.3h2v1.4h-2zM153.0 780.3h2v1.4h-2z" fill="#fff"/>
<text transform="translate(153.9 556) scale(1.07 1)" font-size="30.5" fill="#1a1a1a" word-spacing="4" textLength="381.3" lengthAdjust="spacing">Laser 1 bandwidth <tspan font-style="italic">b</tspan><tspan font-size="20" dy="6">1</tspan><tspan dy="-6"> (GHz)</tspan></text>
<text transform="translate(906.6 559.3) scale(1.07 1)" font-size="30.5" fill="#1a1a1a" word-spacing="4" textLength="381.3" lengthAdjust="spacing">Laser 1 bandwidth <tspan font-style="italic">b</tspan><tspan font-size="20" dy="6">1</tspan><tspan dy="-6"> (GHz)</tspan></text>
<text transform="translate(146.1 1156.5) scale(1.07 1)" font-size="30.5" fill="#1a1a1a" word-spacing="4" textLength="380.9" lengthAdjust="spacing">Laser 1 bandwidth <tspan font-style="italic">b</tspan><tspan font-size="20" dy="6">1</tspan><tspan dy="-6"> (GHz)</tspan></text>
<text transform="translate(34.4 454) rotate(-90) scale(1.07 1)" font-size="30.5" fill="#1a1a1a" word-spacing="4" textLength="383.2" lengthAdjust="spacing">Laser 2 bandwidth <tspan font-style="italic">b</tspan><tspan font-size="20" dy="6">2</tspan><tspan dy="-6"> (GHz)</tspan></text>
<text transform="translate(791 454) rotate(-90) scale(1.07 1)" font-size="30.5" fill="#1a1a1a" word-spacing="4" textLength="383.2" lengthAdjust="spacing">Laser 2 bandwidth <tspan font-style="italic">b</tspan><tspan font-size="20" dy="6">2</tspan><tspan dy="-6"> (GHz)</tspan></text>
<text transform="translate(36.1 1054) rotate(-90) scale(1.07 1)" font-size="30.5" fill="#1a1a1a" word-spacing="4" textLength="379.9" lengthAdjust="spacing">Laser 2 bandwidth <tspan font-style="italic">b</tspan><tspan font-size="20" dy="6">2</tspan><tspan dy="-6"> (GHz)</tspan></text>
<text transform="translate(3 26.5) scale(1.1 1)" font-size="29" fill="#1a1a1a" word-spacing="0" textLength="33.6" lengthAdjust="spacing">(a)</text>
<text transform="translate(762 26.5) scale(1.1 1)" font-size="29" fill="#1a1a1a" word-spacing="0" textLength="33.6" lengthAdjust="spacing">(b)</text>
<text transform="translate(9 622.5) scale(1.1 1)" font-size="29" fill="#1a1a1a" word-spacing="0" textLength="33.6" lengthAdjust="spacing">(c)</text>
<text transform="translate(762 623) scale(1.1 1)" font-size="29" fill="#1a1a1a" word-spacing="0" textLength="33.6" lengthAdjust="spacing">(d)</text>
<text transform="translate(979.8 1156.4) scale(1.1 1)" font-size="33" fill="#1a1a1a" word-spacing="8" textLength="293.2" lengthAdjust="spacing">Ionization yield <tspan font-style="italic">ρ</tspan><tspan font-size="23" dy="5">ion</tspan></text>
<text transform="translate(778.2 944.4) rotate(-90) scale(1.07 1)" font-size="30.5" fill="#1a1a1a" word-spacing="4" textLength="167.3" lengthAdjust="spacing">Selectivity <tspan font-style="italic">S</tspan></text>
<text transform="translate(1155 834.5) rotate(-40.5) scale(1.0 1)" font-size="35" fill="#000" word-spacing="3" textLength="169.0" lengthAdjust="spacing"><tspan font-style="italic">b</tspan><tspan font-size="23" dy="6">1</tspan><tspan dy="-6"> = 0 GHz</tspan></text>
<text transform="translate(1295.6 987.4) rotate(-43.5) scale(1.0 1)" font-size="35" fill="#e60012" word-spacing="3" textLength="172.0" lengthAdjust="spacing"><tspan font-style="italic">b</tspan><tspan font-size="23" dy="6">2</tspan><tspan dy="-6"> = 0 GHz</tspan></text>
</svg>
</body></html>
